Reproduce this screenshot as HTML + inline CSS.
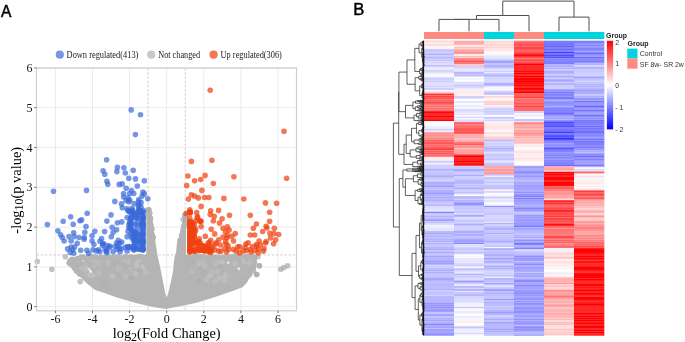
<!DOCTYPE html>
<html><head><meta charset="utf-8"><title>Volcano plot and heatmap</title>
<style>
html,body{margin:0;padding:0;background:#fff;}
body{width:685px;height:342px;overflow:hidden;}
svg{display:block;}
.g{stroke:#e6e6e6;stroke-width:0.8;}
.d{stroke:#a0a0a0;stroke-width:0.5;stroke-dasharray:2.6 1.6;}
.tk{stroke:#555;stroke-width:0.8;}
.tl{font-family:"Liberation Serif",serif;font-size:12px;fill:#111;}
.at{font-family:"Liberation Serif",serif;font-size:14.4px;fill:#000;}
.lg{font-family:"Liberation Serif",serif;font-size:9.5px;fill:#1a1a1a;}
.pl{font-family:"Liberation Sans",sans-serif;font-size:16.5px;fill:#000;stroke:#000;stroke-width:0.45px;}
.hb{font-family:"Liberation Sans",sans-serif;font-size:7px;font-weight:bold;fill:#222;}
.hl{font-family:"Liberation Sans",sans-serif;font-size:6.9px;fill:#333;}
.pg{fill:#aaaaaa;fill-opacity:0.72;}
.pb{fill:#3a69d8;fill-opacity:0.70;}
.pr{fill:#f0410f;fill-opacity:0.72;}
</style></head>
<body><svg width="685" height="342" viewBox="0 0 685 342">
<line x1="55.4" y1="68.0" x2="55.4" y2="310.8" class="g"/>
<line x1="92.5" y1="68.0" x2="92.5" y2="310.8" class="g"/>
<line x1="129.6" y1="68.0" x2="129.6" y2="310.8" class="g"/>
<line x1="166.7" y1="68.0" x2="166.7" y2="310.8" class="g"/>
<line x1="203.8" y1="68.0" x2="203.8" y2="310.8" class="g"/>
<line x1="240.9" y1="68.0" x2="240.9" y2="310.8" class="g"/>
<line x1="278.0" y1="68.0" x2="278.0" y2="310.8" class="g"/>
<line x1="36.5" y1="306.7" x2="296.5" y2="306.7" class="g"/>
<line x1="36.5" y1="266.9" x2="296.5" y2="266.9" class="g"/>
<line x1="36.5" y1="227.1" x2="296.5" y2="227.1" class="g"/>
<line x1="36.5" y1="187.3" x2="296.5" y2="187.3" class="g"/>
<line x1="36.5" y1="147.5" x2="296.5" y2="147.5" class="g"/>
<line x1="36.5" y1="107.7" x2="296.5" y2="107.7" class="g"/>
<line x1="36.5" y1="67.9" x2="296.5" y2="67.9" class="g"/>
<line x1="148.1" y1="68.0" x2="148.1" y2="310.8" class="d"/>
<line x1="185.2" y1="68.0" x2="185.2" y2="310.8" class="d"/>
<line x1="36.5" y1="254.9" x2="296.5" y2="254.9" class="d"/>
<polygon points="68.8,266.0 67.0,262.5 69.5,259.5 74.0,257.8 146.3,257.5 146.3,210.0 148.5,207.8 150.8,209.5 151.3,212.0 152.6,225.8 155.3,241.6 157.9,257.4 160.0,266.3 161.8,275.8 165.8,295.5 166.3,297.0 166.8,297.0 167.9,294.2 171.1,281.0 173.2,270.0 173.6,264.6 174.5,257.5 176.2,251.4 176.7,245.3 178.9,240.0 180.3,231.0 182.9,220.5 183.5,214.0 186.0,214.0 186.0,256.0 257.0,256.0 256.3,262.0 254.8,268.0 252.3,273.5 248.8,278.0 244.3,283.5 240.0,288.3 232.6,291.0 223.9,294.0 215.1,297.1 206.3,299.7 197.5,302.4 188.8,304.6 180.0,306.3 172.0,307.8 166.2,308.9 156.3,307.6 146.1,305.5 135.9,303.0 125.6,299.9 115.4,296.9 105.2,293.3 95.1,290.0 86.3,283.0 79.3,276.3 74.0,269.8" fill="#b4b4b4"/>
<polygon points="85.0,266.0 87.0,265.2 92.2,271.8 91.2,274.5 89.2,274.2" fill="#f2f2f2"/>
<polygon points="82.6,259.4 84.2,259.2 84.4,261.6 82.8,261.8" fill="#f2f2f2"/>
<polygon points="217.0,258.5 221.0,257.5 223.0,261.0 219.5,263.0" fill="#f2f2f2"/>
<polygon points="237.5,267.5 239.5,267.2 240.0,270.0 238.0,270.2" fill="#f2f2f2"/>
<polygon points="227.0,262.0 229.0,261.5 229.5,263.5 227.5,264.0" fill="#f2f2f2"/>
<circle cx="118.6" cy="258.7" r="2.8" fill="#b1b1b1"/>
<circle cx="90.9" cy="264.0" r="2.8" fill="#b1b1b1"/>
<circle cx="126.0" cy="276.3" r="2.8" fill="#bcbcbc"/>
<circle cx="137.8" cy="260.3" r="2.8" fill="#bfbfbf"/>
<circle cx="102.1" cy="258.8" r="2.8" fill="#bcbcbc"/>
<circle cx="86.6" cy="271.6" r="2.8" fill="#bcbcbc"/>
<circle cx="72.0" cy="263.4" r="2.8" fill="#bcbcbc"/>
<circle cx="119.4" cy="272.7" r="2.8" fill="#bcbcbc"/>
<circle cx="86.8" cy="273.9" r="2.8" fill="#b9b9b9"/>
<circle cx="131.5" cy="258.2" r="2.8" fill="#b6b6b6"/>
<circle cx="131.2" cy="276.8" r="2.8" fill="#b1b1b1"/>
<circle cx="95.9" cy="262.2" r="2.8" fill="#bfbfbf"/>
<circle cx="142.7" cy="267.1" r="2.8" fill="#bfbfbf"/>
<circle cx="77.0" cy="260.6" r="2.8" fill="#b9b9b9"/>
<circle cx="134.4" cy="274.3" r="2.8" fill="#bfbfbf"/>
<circle cx="131.3" cy="277.7" r="2.8" fill="#b1b1b1"/>
<circle cx="98.8" cy="272.9" r="2.8" fill="#bcbcbc"/>
<circle cx="133.0" cy="274.7" r="2.8" fill="#b1b1b1"/>
<circle cx="135.5" cy="273.6" r="2.8" fill="#bfbfbf"/>
<circle cx="123.5" cy="259.2" r="2.8" fill="#bfbfbf"/>
<circle cx="87.3" cy="265.8" r="2.8" fill="#bcbcbc"/>
<circle cx="76.1" cy="264.3" r="2.8" fill="#b6b6b6"/>
<circle cx="77.7" cy="265.5" r="2.8" fill="#b1b1b1"/>
<circle cx="118.3" cy="267.9" r="2.8" fill="#bcbcbc"/>
<circle cx="98.1" cy="263.7" r="2.8" fill="#bcbcbc"/>
<circle cx="119.3" cy="274.4" r="2.8" fill="#b1b1b1"/>
<circle cx="82.4" cy="268.2" r="2.8" fill="#bcbcbc"/>
<circle cx="112.3" cy="276.5" r="2.8" fill="#bfbfbf"/>
<circle cx="87.4" cy="258.9" r="2.8" fill="#b6b6b6"/>
<circle cx="94.0" cy="265.2" r="2.8" fill="#b9b9b9"/>
<circle cx="136.6" cy="266.5" r="2.8" fill="#bfbfbf"/>
<circle cx="119.8" cy="268.7" r="2.8" fill="#b9b9b9"/>
<circle cx="139.5" cy="270.4" r="2.8" fill="#b1b1b1"/>
<circle cx="90.1" cy="264.7" r="2.8" fill="#b6b6b6"/>
<circle cx="112.7" cy="265.1" r="2.8" fill="#b1b1b1"/>
<circle cx="100.4" cy="263.9" r="2.8" fill="#b9b9b9"/>
<circle cx="145.8" cy="271.8" r="2.8" fill="#b6b6b6"/>
<circle cx="76.9" cy="259.3" r="2.8" fill="#bfbfbf"/>
<circle cx="130.2" cy="269.4" r="2.8" fill="#b9b9b9"/>
<circle cx="74.8" cy="268.3" r="2.8" fill="#b1b1b1"/>
<circle cx="145.7" cy="272.3" r="2.8" fill="#bcbcbc"/>
<circle cx="121.8" cy="272.5" r="2.8" fill="#b6b6b6"/>
<circle cx="90.3" cy="275.3" r="2.8" fill="#bfbfbf"/>
<circle cx="78.5" cy="269.7" r="2.8" fill="#b9b9b9"/>
<circle cx="104.5" cy="283.8" r="2.8" fill="#b1b1b1"/>
<circle cx="136.6" cy="265.1" r="2.8" fill="#bfbfbf"/>
<circle cx="108.0" cy="262.8" r="2.8" fill="#bcbcbc"/>
<circle cx="92.7" cy="275.3" r="2.8" fill="#bfbfbf"/>
<circle cx="116.3" cy="262.1" r="2.8" fill="#b1b1b1"/>
<circle cx="128.0" cy="272.6" r="2.8" fill="#b9b9b9"/>
<circle cx="129.2" cy="272.3" r="2.8" fill="#b6b6b6"/>
<circle cx="93.4" cy="259.6" r="2.8" fill="#bcbcbc"/>
<circle cx="76.5" cy="271.1" r="2.8" fill="#bcbcbc"/>
<circle cx="128.2" cy="261.5" r="2.8" fill="#bcbcbc"/>
<circle cx="221.3" cy="270.3" r="2.8" fill="#b1b1b1"/>
<circle cx="206.6" cy="278.7" r="2.8" fill="#bfbfbf"/>
<circle cx="217.6" cy="261.5" r="2.8" fill="#bcbcbc"/>
<circle cx="225.8" cy="275.0" r="2.8" fill="#bfbfbf"/>
<circle cx="202.1" cy="264.1" r="2.8" fill="#bcbcbc"/>
<circle cx="218.7" cy="269.5" r="2.8" fill="#b9b9b9"/>
<circle cx="196.5" cy="261.8" r="2.8" fill="#b9b9b9"/>
<circle cx="211.7" cy="271.3" r="2.8" fill="#b9b9b9"/>
<circle cx="204.1" cy="261.7" r="2.8" fill="#bcbcbc"/>
<circle cx="193.0" cy="272.4" r="2.8" fill="#b1b1b1"/>
<circle cx="204.0" cy="279.5" r="2.8" fill="#b1b1b1"/>
<circle cx="248.2" cy="257.8" r="2.8" fill="#b9b9b9"/>
<circle cx="204.7" cy="273.4" r="2.8" fill="#b1b1b1"/>
<circle cx="203.0" cy="259.4" r="2.8" fill="#b9b9b9"/>
<circle cx="253.5" cy="270.8" r="2.8" fill="#bcbcbc"/>
<circle cx="221.1" cy="276.4" r="2.8" fill="#b6b6b6"/>
<circle cx="244.5" cy="261.0" r="2.8" fill="#bfbfbf"/>
<circle cx="194.8" cy="267.2" r="2.8" fill="#b9b9b9"/>
<circle cx="217.7" cy="268.1" r="2.8" fill="#b1b1b1"/>
<circle cx="239.0" cy="273.5" r="2.8" fill="#b6b6b6"/>
<circle cx="216.2" cy="264.8" r="2.8" fill="#bcbcbc"/>
<circle cx="248.3" cy="262.5" r="2.8" fill="#bfbfbf"/>
<circle cx="201.3" cy="267.7" r="2.8" fill="#b1b1b1"/>
<circle cx="217.5" cy="263.2" r="2.8" fill="#bcbcbc"/>
<circle cx="205.5" cy="280.0" r="2.8" fill="#b9b9b9"/>
<circle cx="219.0" cy="278.4" r="2.8" fill="#bcbcbc"/>
<circle cx="226.5" cy="257.3" r="2.8" fill="#b1b1b1"/>
<circle cx="247.4" cy="260.3" r="2.8" fill="#b6b6b6"/>
<circle cx="222.0" cy="261.6" r="2.8" fill="#bfbfbf"/>
<circle cx="216.1" cy="257.5" r="2.8" fill="#b1b1b1"/>
<circle cx="214.5" cy="281.6" r="2.8" fill="#bcbcbc"/>
<circle cx="206.6" cy="276.4" r="2.8" fill="#b6b6b6"/>
<circle cx="219.9" cy="267.0" r="2.8" fill="#b1b1b1"/>
<circle cx="226.9" cy="274.7" r="2.8" fill="#b9b9b9"/>
<circle cx="198.8" cy="263.7" r="2.8" fill="#bcbcbc"/>
<circle cx="226.0" cy="275.4" r="2.8" fill="#bfbfbf"/>
<circle cx="192.0" cy="271.2" r="2.8" fill="#bcbcbc"/>
<circle cx="223.2" cy="278.2" r="2.8" fill="#bfbfbf"/>
<circle cx="199.0" cy="281.0" r="2.8" fill="#b1b1b1"/>
<circle cx="193.6" cy="260.8" r="2.8" fill="#b9b9b9"/>
<circle cx="229.7" cy="273.6" r="2.8" fill="#b9b9b9"/>
<circle cx="204.5" cy="259.1" r="2.8" fill="#b9b9b9"/>
<circle cx="250.3" cy="262.4" r="2.8" fill="#bcbcbc"/>
<circle cx="229.6" cy="272.1" r="2.8" fill="#b6b6b6"/>
<circle cx="217.3" cy="271.2" r="2.8" fill="#bcbcbc"/>
<circle cx="224.6" cy="280.3" r="2.8" fill="#bcbcbc"/>
<circle cx="202.3" cy="274.6" r="2.8" fill="#b1b1b1"/>
<circle cx="204.7" cy="266.3" r="2.8" fill="#bcbcbc"/>
<circle cx="235.0" cy="263.8" r="2.8" fill="#bcbcbc"/>
<circle cx="210.1" cy="275.5" r="2.8" fill="#bfbfbf"/>
<circle cx="193.1" cy="267.9" r="2.8" fill="#b6b6b6"/>
<circle cx="193.1" cy="261.5" r="2.8" fill="#b1b1b1"/>
<circle cx="206.6" cy="280.3" r="2.8" fill="#bcbcbc"/>
<circle cx="213.9" cy="260.1" r="2.8" fill="#b6b6b6"/>
<circle cx="246.4" cy="274.3" r="2.8" fill="#b9b9b9"/>
<circle cx="230.8" cy="281.7" r="2.8" fill="#b6b6b6"/>
<circle cx="233.8" cy="256.2" r="2.8" fill="#bcbcbc"/>
<circle cx="69.1" cy="263.0" r="2.8" fill="#b4b4b4"/>
<circle cx="70.3" cy="262.6" r="2.8" fill="#b4b4b4"/>
<circle cx="70.2" cy="260.7" r="2.8" fill="#b4b4b4"/>
<circle cx="72.7" cy="260.5" r="2.8" fill="#b4b4b4"/>
<circle cx="148.3" cy="211.0" r="2.8" fill="#b4b4b4"/>
<circle cx="148.9" cy="210.0" r="2.8" fill="#b4b4b4"/>
<circle cx="149.8" cy="213.3" r="2.8" fill="#b4b4b4"/>
<circle cx="149.1" cy="215.4" r="2.8" fill="#b4b4b4"/>
<circle cx="150.5" cy="218.3" r="2.8" fill="#b4b4b4"/>
<circle cx="150.4" cy="219.8" r="2.8" fill="#b4b4b4"/>
<circle cx="149.8" cy="221.4" r="2.8" fill="#b4b4b4"/>
<circle cx="150.9" cy="224.8" r="2.8" fill="#b4b4b4"/>
<circle cx="150.8" cy="227.5" r="2.8" fill="#b4b4b4"/>
<circle cx="151.9" cy="229.0" r="2.8" fill="#b4b4b4"/>
<circle cx="150.9" cy="230.9" r="2.8" fill="#b4b4b4"/>
<circle cx="152.0" cy="234.5" r="2.8" fill="#b4b4b4"/>
<circle cx="152.4" cy="236.7" r="2.8" fill="#b4b4b4"/>
<circle cx="153.2" cy="237.6" r="2.8" fill="#b4b4b4"/>
<circle cx="152.5" cy="240.3" r="2.8" fill="#b4b4b4"/>
<circle cx="179.7" cy="244.6" r="2.8" fill="#b4b4b4"/>
<circle cx="180.0" cy="241.3" r="2.8" fill="#b4b4b4"/>
<circle cx="180.3" cy="239.8" r="2.8" fill="#b4b4b4"/>
<circle cx="182.0" cy="236.7" r="2.8" fill="#b4b4b4"/>
<circle cx="181.8" cy="235.1" r="2.8" fill="#b4b4b4"/>
<circle cx="182.6" cy="233.4" r="2.8" fill="#b4b4b4"/>
<circle cx="183.3" cy="229.8" r="2.8" fill="#b4b4b4"/>
<circle cx="183.8" cy="227.3" r="2.8" fill="#b4b4b4"/>
<circle cx="183.9" cy="226.3" r="2.8" fill="#b4b4b4"/>
<circle cx="184.9" cy="223.1" r="2.8" fill="#b4b4b4"/>
<circle cx="185.6" cy="218.6" r="2.8" fill="#b4b4b4"/>
<circle cx="185.0" cy="215.3" r="2.8" fill="#b4b4b4"/>
<circle cx="185.1" cy="215.4" r="2.8" fill="#b4b4b4"/>
<circle cx="254.3" cy="257.8" r="2.8" fill="#b4b4b4"/>
<circle cx="254.2" cy="259.3" r="2.8" fill="#b4b4b4"/>
<circle cx="254.4" cy="262.7" r="2.8" fill="#b4b4b4"/>
<circle cx="253.6" cy="266.5" r="2.8" fill="#b4b4b4"/>
<circle cx="253.4" cy="267.4" r="2.8" fill="#b4b4b4"/>
<circle cx="250.9" cy="270.4" r="2.8" fill="#b4b4b4"/>
<circle cx="249.7" cy="274.2" r="2.8" fill="#b4b4b4"/>
<circle cx="248.2" cy="275.8" r="2.8" fill="#b4b4b4"/>
<circle cx="246.1" cy="278.2" r="2.8" fill="#b4b4b4"/>
<circle cx="245.1" cy="280.3" r="2.8" fill="#b4b4b4"/>
<circle cx="243.5" cy="282.2" r="2.8" fill="#b4b4b4"/>
<circle cx="241.5" cy="284.3" r="2.8" fill="#b4b4b4"/>
<circle cx="240.6" cy="284.9" r="2.8" fill="#b4b4b4"/>
<circle cx="79.6" cy="274.0" r="2.8" fill="#b4b4b4"/>
<circle cx="78.2" cy="271.8" r="2.8" fill="#b4b4b4"/>
<circle cx="76.8" cy="270.0" r="2.8" fill="#b4b4b4"/>
<circle cx="74.8" cy="267.6" r="2.8" fill="#b4b4b4"/>
<circle cx="72.9" cy="265.8" r="2.8" fill="#b4b4b4"/>
<circle cx="72.1" cy="259.4" r="2.8" fill="#b4b4b4"/>
<circle cx="75.6" cy="259.3" r="2.8" fill="#b4b4b4"/>
<circle cx="77.9" cy="258.5" r="2.8" fill="#b4b4b4"/>
<circle cx="81.6" cy="256.9" r="2.8" fill="#b4b4b4"/>
<circle cx="84.0" cy="257.6" r="2.8" fill="#b4b4b4"/>
<circle cx="87.9" cy="256.8" r="2.8" fill="#b4b4b4"/>
<circle cx="90.2" cy="257.0" r="2.8" fill="#b4b4b4"/>
<circle cx="93.5" cy="256.8" r="2.8" fill="#b4b4b4"/>
<circle cx="96.1" cy="257.0" r="2.8" fill="#b4b4b4"/>
<circle cx="100.8" cy="257.3" r="2.8" fill="#b4b4b4"/>
<circle cx="103.8" cy="257.3" r="2.8" fill="#b4b4b4"/>
<circle cx="105.7" cy="257.2" r="2.8" fill="#b4b4b4"/>
<circle cx="108.2" cy="256.8" r="2.8" fill="#b4b4b4"/>
<circle cx="112.2" cy="257.2" r="2.8" fill="#b4b4b4"/>
<circle cx="115.7" cy="257.1" r="2.8" fill="#b4b4b4"/>
<circle cx="118.4" cy="256.7" r="2.8" fill="#b4b4b4"/>
<circle cx="121.5" cy="257.7" r="2.8" fill="#b4b4b4"/>
<circle cx="125.3" cy="256.6" r="2.8" fill="#b4b4b4"/>
<circle cx="127.0" cy="257.1" r="2.8" fill="#b4b4b4"/>
<circle cx="131.2" cy="256.9" r="2.8" fill="#b4b4b4"/>
<circle cx="134.6" cy="257.5" r="2.8" fill="#b4b4b4"/>
<circle cx="137.4" cy="256.7" r="2.8" fill="#b4b4b4"/>
<circle cx="139.6" cy="256.4" r="2.8" fill="#b4b4b4"/>
<circle cx="142.8" cy="257.1" r="2.8" fill="#b4b4b4"/>
<circle cx="147.1" cy="256.5" r="2.8" fill="#b4b4b4"/>
<circle cx="187.8" cy="256.9" r="2.8" fill="#b4b4b4"/>
<circle cx="190.5" cy="257.0" r="2.8" fill="#b4b4b4"/>
<circle cx="194.2" cy="256.3" r="2.8" fill="#b4b4b4"/>
<circle cx="197.6" cy="256.0" r="2.8" fill="#b4b4b4"/>
<circle cx="200.9" cy="257.1" r="2.8" fill="#b4b4b4"/>
<circle cx="202.7" cy="256.6" r="2.8" fill="#b4b4b4"/>
<circle cx="206.0" cy="257.3" r="2.8" fill="#b4b4b4"/>
<circle cx="209.7" cy="256.1" r="2.8" fill="#b4b4b4"/>
<circle cx="212.3" cy="257.2" r="2.8" fill="#b4b4b4"/>
<circle cx="215.8" cy="257.1" r="2.8" fill="#b4b4b4"/>
<circle cx="219.3" cy="257.4" r="2.8" fill="#b4b4b4"/>
<circle cx="222.3" cy="257.3" r="2.8" fill="#b4b4b4"/>
<circle cx="226.0" cy="256.9" r="2.8" fill="#b4b4b4"/>
<circle cx="228.7" cy="256.7" r="2.8" fill="#b4b4b4"/>
<circle cx="232.1" cy="256.8" r="2.8" fill="#b4b4b4"/>
<circle cx="235.3" cy="257.0" r="2.8" fill="#b4b4b4"/>
<circle cx="237.5" cy="256.4" r="2.8" fill="#b4b4b4"/>
<circle cx="240.2" cy="256.9" r="2.8" fill="#b4b4b4"/>
<circle cx="244.3" cy="256.7" r="2.8" fill="#b4b4b4"/>
<circle cx="247.2" cy="256.4" r="2.8" fill="#b4b4b4"/>
<circle cx="249.2" cy="256.4" r="2.8" fill="#b4b4b4"/>
<circle cx="252.6" cy="256.4" r="2.8" fill="#b4b4b4"/>
<circle cx="148.5" cy="209.6" r="2.8" class="pg"/>
<circle cx="258.0" cy="256.8" r="2.8" class="pg"/>
<circle cx="259.2" cy="265.8" r="2.8" class="pg"/>
<circle cx="256.8" cy="274.5" r="2.8" class="pg"/>
<circle cx="183.2" cy="219.5" r="2.8" class="pg"/>
<circle cx="37.3" cy="261.5" r="2.8" class="pg"/>
<circle cx="51.8" cy="269.3" r="2.8" class="pg"/>
<circle cx="65.3" cy="256.8" r="2.8" class="pg"/>
<circle cx="80.2" cy="281.6" r="2.8" class="pg"/>
<circle cx="280.8" cy="269.3" r="2.8" class="pg"/>
<circle cx="283.8" cy="267.6" r="2.8" class="pg"/>
<circle cx="287.6" cy="265.8" r="2.8" class="pg"/>
<circle cx="259.5" cy="265.7" r="2.8" class="pg"/>
<circle cx="256.5" cy="274.5" r="2.8" class="pg"/>
<polygon points="145.2,215.0 137.0,216.0 134.5,221.0 134.5,235.0 135.0,250.0 145.2,250.0" fill="#6a8fe0"/>
<circle cx="137.5" cy="214.8" r="2.8" class="pb"/>
<circle cx="132.0" cy="238.1" r="2.8" class="pb"/>
<circle cx="140.4" cy="211.7" r="2.8" class="pb"/>
<circle cx="135.1" cy="231.8" r="2.8" class="pb"/>
<circle cx="135.3" cy="217.7" r="2.8" class="pb"/>
<circle cx="135.4" cy="247.0" r="2.8" class="pb"/>
<circle cx="138.2" cy="238.2" r="2.8" class="pb"/>
<circle cx="143.0" cy="241.2" r="2.8" class="pb"/>
<circle cx="134.2" cy="240.6" r="2.8" class="pb"/>
<circle cx="142.9" cy="249.0" r="2.8" class="pb"/>
<circle cx="135.3" cy="240.4" r="2.8" class="pb"/>
<circle cx="137.6" cy="234.3" r="2.8" class="pb"/>
<circle cx="131.9" cy="218.2" r="2.8" class="pb"/>
<circle cx="133.9" cy="237.5" r="2.8" class="pb"/>
<circle cx="135.1" cy="215.9" r="2.8" class="pb"/>
<circle cx="136.2" cy="214.4" r="2.8" class="pb"/>
<circle cx="138.9" cy="210.1" r="2.8" class="pb"/>
<circle cx="134.9" cy="232.7" r="2.8" class="pb"/>
<circle cx="130.4" cy="228.4" r="2.8" class="pb"/>
<circle cx="128.9" cy="224.9" r="2.8" class="pb"/>
<circle cx="131.7" cy="222.7" r="2.8" class="pb"/>
<circle cx="141.3" cy="224.9" r="2.8" class="pb"/>
<circle cx="141.2" cy="243.9" r="2.8" class="pb"/>
<circle cx="132.4" cy="212.4" r="2.8" class="pb"/>
<circle cx="143.1" cy="223.7" r="2.8" class="pb"/>
<circle cx="139.4" cy="241.8" r="2.8" class="pb"/>
<circle cx="139.4" cy="240.7" r="2.8" class="pb"/>
<circle cx="143.1" cy="217.4" r="2.8" class="pb"/>
<circle cx="137.9" cy="218.2" r="2.8" class="pb"/>
<circle cx="140.2" cy="241.2" r="2.8" class="pb"/>
<circle cx="130.9" cy="234.5" r="2.8" class="pb"/>
<circle cx="141.1" cy="213.8" r="2.8" class="pb"/>
<circle cx="142.3" cy="249.5" r="2.8" class="pb"/>
<circle cx="133.5" cy="237.4" r="2.8" class="pb"/>
<circle cx="143.1" cy="225.7" r="2.8" class="pb"/>
<circle cx="140.5" cy="212.2" r="2.8" class="pb"/>
<circle cx="140.1" cy="235.3" r="2.8" class="pb"/>
<circle cx="142.9" cy="234.2" r="2.8" class="pb"/>
<circle cx="141.7" cy="223.6" r="2.8" class="pb"/>
<circle cx="135.5" cy="224.6" r="2.8" class="pb"/>
<circle cx="143.1" cy="211.8" r="2.8" class="pb"/>
<circle cx="141.5" cy="212.0" r="2.8" class="pb"/>
<circle cx="140.6" cy="212.1" r="2.8" class="pb"/>
<circle cx="138.9" cy="211.9" r="2.8" class="pb"/>
<circle cx="136.2" cy="212.5" r="2.8" class="pb"/>
<circle cx="134.1" cy="214.2" r="2.8" class="pb"/>
<circle cx="133.9" cy="213.9" r="2.8" class="pb"/>
<circle cx="131.9" cy="216.0" r="2.8" class="pb"/>
<circle cx="130.9" cy="218.1" r="2.8" class="pb"/>
<circle cx="130.7" cy="218.1" r="2.8" class="pb"/>
<circle cx="129.9" cy="221.1" r="2.8" class="pb"/>
<circle cx="130.4" cy="223.2" r="2.8" class="pb"/>
<circle cx="131.1" cy="224.5" r="2.8" class="pb"/>
<circle cx="130.6" cy="226.4" r="2.8" class="pb"/>
<circle cx="131.5" cy="229.4" r="2.8" class="pb"/>
<circle cx="132.6" cy="230.3" r="2.8" class="pb"/>
<circle cx="133.3" cy="232.8" r="2.8" class="pb"/>
<circle cx="132.9" cy="235.9" r="2.8" class="pb"/>
<circle cx="134.0" cy="236.7" r="2.8" class="pb"/>
<circle cx="133.9" cy="238.9" r="2.8" class="pb"/>
<circle cx="134.2" cy="241.5" r="2.8" class="pb"/>
<circle cx="134.3" cy="243.9" r="2.8" class="pb"/>
<circle cx="134.6" cy="245.8" r="2.8" class="pb"/>
<circle cx="133.7" cy="247.1" r="2.8" class="pb"/>
<circle cx="133.9" cy="250.1" r="2.8" class="pb"/>
<circle cx="133.0" cy="248.9" r="2.8" class="pb"/>
<circle cx="135.2" cy="249.0" r="2.8" class="pb"/>
<circle cx="137.8" cy="249.1" r="2.8" class="pb"/>
<circle cx="140.0" cy="249.2" r="2.8" class="pb"/>
<circle cx="141.5" cy="249.4" r="2.8" class="pb"/>
<circle cx="143.1" cy="249.4" r="2.8" class="pb"/>
<circle cx="143.0" cy="250.1" r="2.8" class="pb"/>
<circle cx="143.1" cy="248.6" r="2.8" class="pb"/>
<circle cx="143.0" cy="246.1" r="2.8" class="pb"/>
<circle cx="143.1" cy="243.2" r="2.8" class="pb"/>
<circle cx="143.1" cy="242.3" r="2.8" class="pb"/>
<circle cx="143.1" cy="240.4" r="2.8" class="pb"/>
<circle cx="143.1" cy="238.4" r="2.8" class="pb"/>
<circle cx="143.1" cy="235.8" r="2.8" class="pb"/>
<circle cx="143.1" cy="233.0" r="2.8" class="pb"/>
<circle cx="143.1" cy="231.4" r="2.8" class="pb"/>
<circle cx="143.1" cy="229.1" r="2.8" class="pb"/>
<circle cx="143.1" cy="227.0" r="2.8" class="pb"/>
<circle cx="143.1" cy="225.6" r="2.8" class="pb"/>
<circle cx="143.1" cy="224.0" r="2.8" class="pb"/>
<circle cx="143.1" cy="220.8" r="2.8" class="pb"/>
<circle cx="143.1" cy="218.9" r="2.8" class="pb"/>
<circle cx="143.1" cy="218.1" r="2.8" class="pb"/>
<circle cx="143.1" cy="216.1" r="2.8" class="pb"/>
<circle cx="143.1" cy="213.2" r="2.8" class="pb"/>
<circle cx="143.1" cy="210.4" r="2.8" class="pb"/>
<polygon points="187.3,223.0 192.5,224.0 194.5,230.0 195.5,240.0 201.0,246.0 205.0,250.0 205.0,251.5 187.3,251.5" fill="#f2683f"/>
<circle cx="198.1" cy="248.0" r="2.8" class="pr"/>
<circle cx="205.5" cy="250.8" r="2.8" class="pr"/>
<circle cx="192.2" cy="226.9" r="2.8" class="pr"/>
<circle cx="191.3" cy="222.4" r="2.8" class="pr"/>
<circle cx="189.8" cy="234.6" r="2.8" class="pr"/>
<circle cx="192.8" cy="243.0" r="2.8" class="pr"/>
<circle cx="204.2" cy="250.0" r="2.8" class="pr"/>
<circle cx="203.5" cy="250.3" r="2.8" class="pr"/>
<circle cx="203.2" cy="249.5" r="2.8" class="pr"/>
<circle cx="191.1" cy="230.0" r="2.8" class="pr"/>
<circle cx="194.2" cy="224.0" r="2.8" class="pr"/>
<circle cx="189.8" cy="234.0" r="2.8" class="pr"/>
<circle cx="195.1" cy="228.1" r="2.8" class="pr"/>
<circle cx="189.8" cy="251.3" r="2.8" class="pr"/>
<circle cx="210.8" cy="252.5" r="2.8" class="pr"/>
<circle cx="189.8" cy="244.6" r="2.8" class="pr"/>
<circle cx="198.8" cy="241.2" r="2.8" class="pr"/>
<circle cx="195.7" cy="230.8" r="2.8" class="pr"/>
<circle cx="203.8" cy="247.9" r="2.8" class="pr"/>
<circle cx="195.2" cy="242.5" r="2.8" class="pr"/>
<circle cx="194.2" cy="250.7" r="2.8" class="pr"/>
<circle cx="195.1" cy="251.5" r="2.8" class="pr"/>
<circle cx="191.7" cy="231.8" r="2.8" class="pr"/>
<circle cx="200.7" cy="250.1" r="2.8" class="pr"/>
<circle cx="198.0" cy="242.7" r="2.8" class="pr"/>
<circle cx="190.0" cy="251.6" r="2.8" class="pr"/>
<circle cx="191.0" cy="237.9" r="2.8" class="pr"/>
<circle cx="189.8" cy="221.7" r="2.8" class="pr"/>
<circle cx="190.1" cy="223.3" r="2.8" class="pr"/>
<circle cx="191.5" cy="222.3" r="2.8" class="pr"/>
<circle cx="191.7" cy="223.4" r="2.8" class="pr"/>
<circle cx="192.6" cy="225.5" r="2.8" class="pr"/>
<circle cx="192.8" cy="227.2" r="2.8" class="pr"/>
<circle cx="194.4" cy="229.7" r="2.8" class="pr"/>
<circle cx="194.3" cy="231.1" r="2.8" class="pr"/>
<circle cx="194.4" cy="233.7" r="2.8" class="pr"/>
<circle cx="194.1" cy="235.7" r="2.8" class="pr"/>
<circle cx="194.3" cy="236.7" r="2.8" class="pr"/>
<circle cx="195.9" cy="240.7" r="2.8" class="pr"/>
<circle cx="198.1" cy="242.4" r="2.8" class="pr"/>
<circle cx="200.3" cy="243.1" r="2.8" class="pr"/>
<circle cx="202.1" cy="245.9" r="2.8" class="pr"/>
<circle cx="204.5" cy="246.1" r="2.8" class="pr"/>
<circle cx="206.1" cy="247.6" r="2.8" class="pr"/>
<circle cx="207.7" cy="249.1" r="2.8" class="pr"/>
<circle cx="208.6" cy="249.6" r="2.8" class="pr"/>
<circle cx="208.9" cy="251.6" r="2.8" class="pr"/>
<circle cx="211.0" cy="250.7" r="2.8" class="pr"/>
<circle cx="208.6" cy="251.0" r="2.8" class="pr"/>
<circle cx="206.6" cy="250.0" r="2.8" class="pr"/>
<circle cx="204.4" cy="250.5" r="2.8" class="pr"/>
<circle cx="202.6" cy="249.9" r="2.8" class="pr"/>
<circle cx="199.9" cy="250.4" r="2.8" class="pr"/>
<circle cx="199.4" cy="250.3" r="2.8" class="pr"/>
<circle cx="196.4" cy="249.8" r="2.8" class="pr"/>
<circle cx="193.9" cy="250.4" r="2.8" class="pr"/>
<circle cx="192.4" cy="250.4" r="2.8" class="pr"/>
<circle cx="190.0" cy="250.5" r="2.8" class="pr"/>
<circle cx="189.8" cy="250.9" r="2.8" class="pr"/>
<circle cx="189.9" cy="251.7" r="2.8" class="pr"/>
<circle cx="189.8" cy="249.9" r="2.8" class="pr"/>
<circle cx="189.8" cy="247.4" r="2.8" class="pr"/>
<circle cx="189.8" cy="245.0" r="2.8" class="pr"/>
<circle cx="189.8" cy="243.8" r="2.8" class="pr"/>
<circle cx="189.8" cy="241.2" r="2.8" class="pr"/>
<circle cx="189.8" cy="238.9" r="2.8" class="pr"/>
<circle cx="189.8" cy="238.2" r="2.8" class="pr"/>
<circle cx="189.9" cy="234.8" r="2.8" class="pr"/>
<circle cx="189.8" cy="233.0" r="2.8" class="pr"/>
<circle cx="189.8" cy="232.0" r="2.8" class="pr"/>
<circle cx="189.8" cy="228.7" r="2.8" class="pr"/>
<circle cx="189.8" cy="227.0" r="2.8" class="pr"/>
<circle cx="189.8" cy="226.0" r="2.8" class="pr"/>
<circle cx="189.8" cy="223.6" r="2.8" class="pr"/>
<circle cx="189.8" cy="221.8" r="2.8" class="pr"/>
<circle cx="117.2" cy="249.5" r="2.8" class="pb"/>
<circle cx="127.6" cy="246.5" r="2.8" class="pb"/>
<circle cx="106.2" cy="251.5" r="2.8" class="pb"/>
<circle cx="102.9" cy="243.8" r="2.8" class="pb"/>
<circle cx="98.3" cy="249.7" r="2.8" class="pb"/>
<circle cx="128.6" cy="247.5" r="2.8" class="pb"/>
<circle cx="103.4" cy="243.5" r="2.8" class="pb"/>
<circle cx="109.7" cy="246.0" r="2.8" class="pb"/>
<circle cx="119.7" cy="243.2" r="2.8" class="pb"/>
<circle cx="106.5" cy="250.4" r="2.8" class="pb"/>
<circle cx="117.4" cy="245.8" r="2.8" class="pb"/>
<circle cx="131.3" cy="247.2" r="2.8" class="pb"/>
<circle cx="107.3" cy="245.6" r="2.8" class="pb"/>
<circle cx="121.3" cy="248.7" r="2.8" class="pb"/>
<circle cx="127.0" cy="208.9" r="2.8" class="pb"/>
<circle cx="131.7" cy="211.4" r="2.8" class="pb"/>
<circle cx="138.1" cy="205.6" r="2.8" class="pb"/>
<circle cx="138.7" cy="209.1" r="2.8" class="pb"/>
<circle cx="139.6" cy="210.4" r="2.8" class="pb"/>
<circle cx="138.9" cy="205.0" r="2.8" class="pb"/>
<circle cx="132.1" cy="208.4" r="2.8" class="pb"/>
<circle cx="138.8" cy="199.6" r="2.8" class="pb"/>
<circle cx="128.8" cy="211.5" r="2.8" class="pb"/>
<circle cx="126.0" cy="200.4" r="2.8" class="pb"/>
<circle cx="141.1" cy="202.6" r="2.8" class="pb"/>
<circle cx="141.0" cy="206.7" r="2.8" class="pb"/>
<circle cx="129.8" cy="200.1" r="2.8" class="pb"/>
<circle cx="130.4" cy="212.2" r="2.8" class="pb"/>
<circle cx="122.3" cy="207.7" r="2.8" class="pb"/>
<circle cx="132.5" cy="210.1" r="2.8" class="pb"/>
<circle cx="197.4" cy="216.6" r="2.8" class="pr"/>
<circle cx="200.0" cy="221.2" r="2.8" class="pr"/>
<circle cx="189.8" cy="212.0" r="2.8" class="pr"/>
<circle cx="195.5" cy="220.9" r="2.8" class="pr"/>
<circle cx="189.8" cy="209.8" r="2.8" class="pr"/>
<circle cx="200.0" cy="220.8" r="2.8" class="pr"/>
<circle cx="190.2" cy="211.9" r="2.8" class="pr"/>
<circle cx="189.8" cy="218.4" r="2.8" class="pr"/>
<circle cx="190.3" cy="212.9" r="2.8" class="pr"/>
<circle cx="189.8" cy="212.4" r="2.8" class="pr"/>
<circle cx="214.8" cy="249.9" r="2.8" class="pr"/>
<circle cx="216.3" cy="242.9" r="2.8" class="pr"/>
<circle cx="209.1" cy="242.2" r="2.8" class="pr"/>
<circle cx="210.8" cy="245.9" r="2.8" class="pr"/>
<circle cx="208.2" cy="246.3" r="2.8" class="pr"/>
<circle cx="220.9" cy="251.3" r="2.8" class="pr"/>
<circle cx="202.2" cy="249.2" r="2.8" class="pr"/>
<circle cx="131.2" cy="109.9" r="2.8" class="pb"/>
<circle cx="140.5" cy="114.7" r="2.8" class="pb"/>
<circle cx="135.4" cy="134.6" r="2.8" class="pb"/>
<circle cx="53.5" cy="191.2" r="2.8" class="pb"/>
<circle cx="86.5" cy="190.4" r="2.8" class="pb"/>
<circle cx="47.4" cy="224.6" r="2.8" class="pb"/>
<circle cx="63.2" cy="221.3" r="2.8" class="pb"/>
<circle cx="70.7" cy="216.8" r="2.8" class="pb"/>
<circle cx="73.2" cy="224.3" r="2.8" class="pb"/>
<circle cx="79.9" cy="220.8" r="2.8" class="pb"/>
<circle cx="81.6" cy="219.9" r="2.8" class="pb"/>
<circle cx="87.2" cy="213.2" r="2.8" class="pb"/>
<circle cx="86.0" cy="226.6" r="2.8" class="pb"/>
<circle cx="84.8" cy="232.2" r="2.8" class="pb"/>
<circle cx="94.8" cy="231.3" r="2.8" class="pb"/>
<circle cx="57.9" cy="230.8" r="2.8" class="pb"/>
<circle cx="60.6" cy="234.8" r="2.8" class="pb"/>
<circle cx="62.3" cy="237.5" r="2.8" class="pb"/>
<circle cx="64.1" cy="241.0" r="2.8" class="pb"/>
<circle cx="69.0" cy="236.6" r="2.8" class="pb"/>
<circle cx="73.7" cy="232.7" r="2.8" class="pb"/>
<circle cx="74.2" cy="236.6" r="2.8" class="pb"/>
<circle cx="79.0" cy="237.5" r="2.8" class="pb"/>
<circle cx="71.1" cy="241.0" r="2.8" class="pb"/>
<circle cx="77.2" cy="243.2" r="2.8" class="pb"/>
<circle cx="84.2" cy="237.5" r="2.8" class="pb"/>
<circle cx="84.2" cy="239.2" r="2.8" class="pb"/>
<circle cx="92.1" cy="235.7" r="2.8" class="pb"/>
<circle cx="92.1" cy="241.0" r="2.8" class="pb"/>
<circle cx="93.9" cy="244.5" r="2.8" class="pb"/>
<circle cx="67.6" cy="248.9" r="2.8" class="pb"/>
<circle cx="71.1" cy="247.1" r="2.8" class="pb"/>
<circle cx="72.8" cy="249.7" r="2.8" class="pb"/>
<circle cx="74.6" cy="247.1" r="2.8" class="pb"/>
<circle cx="70.2" cy="252.4" r="2.8" class="pb"/>
<circle cx="73.7" cy="253.2" r="2.8" class="pb"/>
<circle cx="80.7" cy="250.3" r="2.8" class="pb"/>
<circle cx="86.9" cy="250.3" r="2.8" class="pb"/>
<circle cx="88.6" cy="253.2" r="2.8" class="pb"/>
<circle cx="93.0" cy="249.7" r="2.8" class="pb"/>
<circle cx="114.8" cy="201.4" r="2.8" class="pb"/>
<circle cx="121.5" cy="203.9" r="2.8" class="pb"/>
<circle cx="128.8" cy="201.8" r="2.8" class="pb"/>
<circle cx="134.1" cy="203.5" r="2.8" class="pb"/>
<circle cx="138.5" cy="201.8" r="2.8" class="pb"/>
<circle cx="111.0" cy="214.9" r="2.8" class="pb"/>
<circle cx="106.9" cy="221.1" r="2.8" class="pb"/>
<circle cx="117.4" cy="222.8" r="2.8" class="pb"/>
<circle cx="121.8" cy="221.9" r="2.8" class="pb"/>
<circle cx="112.2" cy="227.2" r="2.8" class="pb"/>
<circle cx="104.6" cy="231.6" r="2.8" class="pb"/>
<circle cx="113.1" cy="232.5" r="2.8" class="pb"/>
<circle cx="116.6" cy="229.8" r="2.8" class="pb"/>
<circle cx="111.3" cy="236.8" r="2.8" class="pb"/>
<circle cx="101.6" cy="238.6" r="2.8" class="pb"/>
<circle cx="99.9" cy="241.2" r="2.8" class="pb"/>
<circle cx="118.3" cy="240.4" r="2.8" class="pb"/>
<circle cx="121.8" cy="242.1" r="2.8" class="pb"/>
<circle cx="116.6" cy="243.0" r="2.8" class="pb"/>
<circle cx="127.1" cy="236.8" r="2.8" class="pb"/>
<circle cx="128.0" cy="231.6" r="2.8" class="pb"/>
<circle cx="102.5" cy="245.6" r="2.8" class="pb"/>
<circle cx="105.2" cy="249.1" r="2.8" class="pb"/>
<circle cx="109.5" cy="247.4" r="2.8" class="pb"/>
<circle cx="114.8" cy="246.5" r="2.8" class="pb"/>
<circle cx="119.2" cy="248.2" r="2.8" class="pb"/>
<circle cx="125.3" cy="247.4" r="2.8" class="pb"/>
<circle cx="129.7" cy="246.5" r="2.8" class="pb"/>
<circle cx="96.4" cy="250.9" r="2.8" class="pb"/>
<circle cx="99.9" cy="251.8" r="2.8" class="pb"/>
<circle cx="106.9" cy="252.6" r="2.8" class="pb"/>
<circle cx="113.1" cy="251.8" r="2.8" class="pb"/>
<circle cx="120.1" cy="251.8" r="2.8" class="pb"/>
<circle cx="127.1" cy="250.9" r="2.8" class="pb"/>
<circle cx="128.0" cy="210.5" r="2.8" class="pb"/>
<circle cx="127.1" cy="217.5" r="2.8" class="pb"/>
<circle cx="129.7" cy="222.8" r="2.8" class="pb"/>
<circle cx="128.8" cy="228.1" r="2.8" class="pb"/>
<circle cx="106.6" cy="159.8" r="2.8" class="pb"/>
<circle cx="103.1" cy="170.7" r="2.8" class="pb"/>
<circle cx="104.8" cy="174.2" r="2.8" class="pb"/>
<circle cx="117.4" cy="167.2" r="2.8" class="pb"/>
<circle cx="116.9" cy="171.6" r="2.8" class="pb"/>
<circle cx="123.9" cy="167.7" r="2.8" class="pb"/>
<circle cx="125.3" cy="173.0" r="2.8" class="pb"/>
<circle cx="133.2" cy="170.2" r="2.8" class="pb"/>
<circle cx="128.8" cy="178.2" r="2.8" class="pb"/>
<circle cx="135.5" cy="178.9" r="2.8" class="pb"/>
<circle cx="144.3" cy="180.7" r="2.8" class="pb"/>
<circle cx="106.9" cy="181.2" r="2.8" class="pb"/>
<circle cx="107.8" cy="184.2" r="2.8" class="pb"/>
<circle cx="119.2" cy="184.4" r="2.8" class="pb"/>
<circle cx="122.2" cy="183.9" r="2.8" class="pb"/>
<circle cx="126.2" cy="188.2" r="2.8" class="pb"/>
<circle cx="137.3" cy="186.1" r="2.8" class="pb"/>
<circle cx="131.5" cy="190.5" r="2.8" class="pb"/>
<circle cx="123.6" cy="193.5" r="2.8" class="pb"/>
<circle cx="129.7" cy="193.5" r="2.8" class="pb"/>
<circle cx="133.8" cy="193.5" r="2.8" class="pb"/>
<circle cx="142.9" cy="192.1" r="2.8" class="pb"/>
<circle cx="144.3" cy="193.9" r="2.8" class="pb"/>
<circle cx="142.0" cy="196.1" r="2.8" class="pb"/>
<circle cx="123.6" cy="197.0" r="2.8" class="pb"/>
<circle cx="128.0" cy="197.9" r="2.8" class="pb"/>
<circle cx="147.8" cy="198.8" r="2.8" class="pb"/>
<circle cx="210.2" cy="90.2" r="2.8" class="pr"/>
<circle cx="252.5" cy="246.5" r="2.8" class="pr"/>
<circle cx="256.5" cy="244.5" r="2.8" class="pr"/>
<circle cx="255.0" cy="250.5" r="2.8" class="pr"/>
<circle cx="258.5" cy="249.0" r="2.8" class="pr"/>
<circle cx="250.0" cy="249.5" r="2.8" class="pr"/>
<circle cx="246.5" cy="250.5" r="2.8" class="pr"/>
<circle cx="260.5" cy="244.8" r="2.8" class="pr"/>
<circle cx="265.5" cy="243.0" r="2.8" class="pr"/>
<circle cx="227.0" cy="238.0" r="2.8" class="pr"/>
<circle cx="226.0" cy="244.0" r="2.8" class="pr"/>
<circle cx="228.5" cy="249.5" r="2.8" class="pr"/>
<circle cx="225.5" cy="232.0" r="2.8" class="pr"/>
<circle cx="191.4" cy="161.4" r="2.8" class="pr"/>
<circle cx="211.9" cy="160.2" r="2.8" class="pr"/>
<circle cx="187.9" cy="176.0" r="2.8" class="pr"/>
<circle cx="205.1" cy="175.4" r="2.8" class="pr"/>
<circle cx="194.6" cy="180.7" r="2.8" class="pr"/>
<circle cx="200.7" cy="179.5" r="2.8" class="pr"/>
<circle cx="233.9" cy="176.8" r="2.8" class="pr"/>
<circle cx="213.3" cy="183.5" r="2.8" class="pr"/>
<circle cx="186.7" cy="185.6" r="2.8" class="pr"/>
<circle cx="201.9" cy="190.4" r="2.8" class="pr"/>
<circle cx="191.4" cy="194.7" r="2.8" class="pr"/>
<circle cx="194.6" cy="196.1" r="2.8" class="pr"/>
<circle cx="198.4" cy="197.9" r="2.8" class="pr"/>
<circle cx="188.4" cy="199.1" r="2.8" class="pr"/>
<circle cx="204.6" cy="197.5" r="2.8" class="pr"/>
<circle cx="208.9" cy="197.5" r="2.8" class="pr"/>
<circle cx="223.9" cy="198.4" r="2.8" class="pr"/>
<circle cx="201.1" cy="206.4" r="2.8" class="pr"/>
<circle cx="186.1" cy="213.4" r="2.8" class="pr"/>
<circle cx="196.7" cy="212.5" r="2.8" class="pr"/>
<circle cx="210.7" cy="210.8" r="2.8" class="pr"/>
<circle cx="218.6" cy="210.4" r="2.8" class="pr"/>
<circle cx="210.2" cy="214.6" r="2.8" class="pr"/>
<circle cx="214.2" cy="216.4" r="2.8" class="pr"/>
<circle cx="222.1" cy="218.7" r="2.8" class="pr"/>
<circle cx="229.5" cy="215.2" r="2.8" class="pr"/>
<circle cx="213.3" cy="221.0" r="2.8" class="pr"/>
<circle cx="219.5" cy="223.1" r="2.8" class="pr"/>
<circle cx="201.1" cy="221.3" r="2.8" class="pr"/>
<circle cx="201.1" cy="226.6" r="2.8" class="pr"/>
<circle cx="211.2" cy="229.2" r="2.8" class="pr"/>
<circle cx="223.0" cy="228.3" r="2.8" class="pr"/>
<circle cx="227.4" cy="226.9" r="2.8" class="pr"/>
<circle cx="229.1" cy="230.1" r="2.8" class="pr"/>
<circle cx="214.7" cy="233.9" r="2.8" class="pr"/>
<circle cx="235.3" cy="233.6" r="2.8" class="pr"/>
<circle cx="205.4" cy="236.2" r="2.8" class="pr"/>
<circle cx="223.0" cy="237.1" r="2.8" class="pr"/>
<circle cx="227.4" cy="235.4" r="2.8" class="pr"/>
<circle cx="231.8" cy="236.2" r="2.8" class="pr"/>
<circle cx="210.7" cy="240.3" r="2.8" class="pr"/>
<circle cx="218.6" cy="239.7" r="2.8" class="pr"/>
<circle cx="225.6" cy="241.5" r="2.8" class="pr"/>
<circle cx="233.5" cy="241.0" r="2.8" class="pr"/>
<circle cx="208.1" cy="243.2" r="2.8" class="pr"/>
<circle cx="215.1" cy="244.1" r="2.8" class="pr"/>
<circle cx="220.4" cy="245.0" r="2.8" class="pr"/>
<circle cx="228.2" cy="245.9" r="2.8" class="pr"/>
<circle cx="237.9" cy="246.8" r="2.8" class="pr"/>
<circle cx="206.3" cy="247.6" r="2.8" class="pr"/>
<circle cx="212.5" cy="247.6" r="2.8" class="pr"/>
<circle cx="224.7" cy="248.5" r="2.8" class="pr"/>
<circle cx="233.5" cy="249.4" r="2.8" class="pr"/>
<circle cx="204.6" cy="251.1" r="2.8" class="pr"/>
<circle cx="210.7" cy="251.1" r="2.8" class="pr"/>
<circle cx="218.6" cy="251.1" r="2.8" class="pr"/>
<circle cx="226.5" cy="252.0" r="2.8" class="pr"/>
<circle cx="236.1" cy="251.1" r="2.8" class="pr"/>
<circle cx="239.6" cy="252.9" r="2.8" class="pr"/>
<circle cx="202.8" cy="245.9" r="2.8" class="pr"/>
<circle cx="199.3" cy="238.9" r="2.8" class="pr"/>
<circle cx="197.5" cy="217.8" r="2.8" class="pr"/>
<circle cx="243.8" cy="199.0" r="2.8" class="pr"/>
<circle cx="265.5" cy="202.9" r="2.8" class="pr"/>
<circle cx="276.6" cy="203.2" r="2.8" class="pr"/>
<circle cx="250.3" cy="215.2" r="2.8" class="pr"/>
<circle cx="269.6" cy="212.2" r="2.8" class="pr"/>
<circle cx="269.6" cy="221.3" r="2.8" class="pr"/>
<circle cx="256.4" cy="224.0" r="2.8" class="pr"/>
<circle cx="253.4" cy="228.3" r="2.8" class="pr"/>
<circle cx="266.1" cy="226.2" r="2.8" class="pr"/>
<circle cx="266.9" cy="228.0" r="2.8" class="pr"/>
<circle cx="274.3" cy="228.3" r="2.8" class="pr"/>
<circle cx="262.6" cy="231.5" r="2.8" class="pr"/>
<circle cx="269.9" cy="233.2" r="2.8" class="pr"/>
<circle cx="274.0" cy="233.6" r="2.8" class="pr"/>
<circle cx="278.7" cy="234.5" r="2.8" class="pr"/>
<circle cx="250.3" cy="235.0" r="2.8" class="pr"/>
<circle cx="254.7" cy="235.0" r="2.8" class="pr"/>
<circle cx="270.5" cy="238.0" r="2.8" class="pr"/>
<circle cx="275.7" cy="239.7" r="2.8" class="pr"/>
<circle cx="259.1" cy="241.0" r="2.8" class="pr"/>
<circle cx="266.1" cy="241.5" r="2.8" class="pr"/>
<circle cx="248.2" cy="242.7" r="2.8" class="pr"/>
<circle cx="245.9" cy="244.1" r="2.8" class="pr"/>
<circle cx="273.6" cy="243.8" r="2.8" class="pr"/>
<circle cx="239.8" cy="246.8" r="2.8" class="pr"/>
<circle cx="245.0" cy="247.3" r="2.8" class="pr"/>
<circle cx="256.4" cy="246.2" r="2.8" class="pr"/>
<circle cx="264.0" cy="248.5" r="2.8" class="pr"/>
<circle cx="243.3" cy="251.1" r="2.8" class="pr"/>
<circle cx="251.2" cy="252.0" r="2.8" class="pr"/>
<circle cx="263.4" cy="251.1" r="2.8" class="pr"/>
<circle cx="258.2" cy="252.9" r="2.8" class="pr"/>
<circle cx="286.6" cy="178.2" r="2.8" class="pr"/>
<circle cx="284.0" cy="131.2" r="2.8" class="pr"/>
<rect x="36.5" y="68.0" width="260.0" height="242.8" fill="none" stroke="#cfcfcf" stroke-width="1.2"/>
<line x1="34.2" y1="306.7" x2="36.5" y2="306.7" class="tk"/>
<text x="32.6" y="310.8" class="tl" text-anchor="end">0</text>
<line x1="34.2" y1="266.9" x2="36.5" y2="266.9" class="tk"/>
<text x="32.6" y="271.0" class="tl" text-anchor="end">1</text>
<line x1="34.2" y1="227.1" x2="36.5" y2="227.1" class="tk"/>
<text x="32.6" y="231.2" class="tl" text-anchor="end">2</text>
<line x1="34.2" y1="187.3" x2="36.5" y2="187.3" class="tk"/>
<text x="32.6" y="191.4" class="tl" text-anchor="end">3</text>
<line x1="34.2" y1="147.5" x2="36.5" y2="147.5" class="tk"/>
<text x="32.6" y="151.6" class="tl" text-anchor="end">4</text>
<line x1="34.2" y1="107.7" x2="36.5" y2="107.7" class="tk"/>
<text x="32.6" y="111.8" class="tl" text-anchor="end">5</text>
<line x1="34.2" y1="67.9" x2="36.5" y2="67.9" class="tk"/>
<text x="32.6" y="72.0" class="tl" text-anchor="end">6</text>
<line x1="55.4" y1="310.8" x2="55.4" y2="313.1" class="tk"/>
<text x="55.4" y="323.3" class="tl" text-anchor="middle">-6</text>
<line x1="92.5" y1="310.8" x2="92.5" y2="313.1" class="tk"/>
<text x="92.5" y="323.3" class="tl" text-anchor="middle">-4</text>
<line x1="129.6" y1="310.8" x2="129.6" y2="313.1" class="tk"/>
<text x="129.6" y="323.3" class="tl" text-anchor="middle">-2</text>
<line x1="166.7" y1="310.8" x2="166.7" y2="313.1" class="tk"/>
<text x="166.7" y="323.3" class="tl" text-anchor="middle">0</text>
<line x1="203.8" y1="310.8" x2="203.8" y2="313.1" class="tk"/>
<text x="203.8" y="323.3" class="tl" text-anchor="middle">2</text>
<line x1="240.9" y1="310.8" x2="240.9" y2="313.1" class="tk"/>
<text x="240.9" y="323.3" class="tl" text-anchor="middle">4</text>
<line x1="278.0" y1="310.8" x2="278.0" y2="313.1" class="tk"/>
<text x="278.0" y="323.3" class="tl" text-anchor="middle">6</text>
<text x="166.7" y="338.2" class="at" text-anchor="middle">log<tspan dy="2.5" font-size="12">2</tspan><tspan dy="-2.5">(Fold Change)</tspan></text>
<text transform="translate(20.6,190.3) rotate(-90)" class="at" text-anchor="middle">-log<tspan dy="2.5" font-size="12">10</tspan><tspan dy="-2.5">(p value)</tspan></text>
<circle cx="59.8" cy="54.7" r="4.1" fill="#3a69d8" fill-opacity="0.70"/>
<text x="66.6" y="57.8" class="lg" textLength="71.8" lengthAdjust="spacingAndGlyphs">Down regulated(413)</text>
<circle cx="151.2" cy="54.7" r="4.1" fill="#c9c9c9"/>
<text x="158.2" y="57.8" class="lg" textLength="41.9" lengthAdjust="spacingAndGlyphs">Not changed</text>
<circle cx="213.6" cy="54.7" r="4.1" fill="#f0410f" fill-opacity="0.72"/>
<text x="220.6" y="57.8" class="lg" textLength="61.3" lengthAdjust="spacingAndGlyphs">Up regulated(306)</text>
<text x="0.9" y="16.6" class="pl" style="font-size:15.6px">A</text>
<text x="353.2" y="14.5" class="pl" style="font-size:16.6px">B</text>
<rect x="424.00" y="40.70" width="30.30" height="0.97" fill="rgb(255,179,179)"/>
<rect x="424.00" y="41.52" width="30.30" height="2.20" fill="rgb(255,232,232)"/>
<rect x="424.00" y="43.57" width="30.30" height="0.97" fill="rgb(255,240,240)"/>
<rect x="424.00" y="44.39" width="30.30" height="0.56" fill="rgb(255,193,193)"/>
<rect x="424.00" y="44.80" width="30.30" height="0.56" fill="rgb(255,197,197)"/>
<rect x="424.00" y="45.21" width="30.30" height="1.38" fill="rgb(255,225,225)"/>
<rect x="424.00" y="46.44" width="30.30" height="2.20" fill="rgb(255,247,247)"/>
<rect x="424.00" y="48.49" width="30.30" height="0.56" fill="rgb(255,236,236)"/>
<rect x="424.00" y="48.90" width="30.30" height="0.56" fill="rgb(216,216,255)"/>
<rect x="424.00" y="49.31" width="30.30" height="1.79" fill="rgb(194,194,255)"/>
<rect x="424.00" y="50.95" width="30.30" height="0.56" fill="rgb(188,188,255)"/>
<rect x="424.00" y="51.36" width="30.30" height="0.97" fill="rgb(193,193,255)"/>
<rect x="424.00" y="52.18" width="30.30" height="1.79" fill="rgb(202,202,255)"/>
<rect x="424.00" y="53.82" width="30.30" height="1.38" fill="rgb(176,176,255)"/>
<rect x="424.00" y="55.05" width="30.30" height="0.56" fill="rgb(207,207,255)"/>
<rect x="424.00" y="55.46" width="30.30" height="0.56" fill="rgb(198,198,255)"/>
<rect x="424.00" y="55.87" width="30.30" height="0.56" fill="rgb(223,223,255)"/>
<rect x="424.00" y="56.28" width="30.30" height="2.20" fill="rgb(186,186,255)"/>
<rect x="424.00" y="58.33" width="30.30" height="0.97" fill="rgb(179,179,255)"/>
<rect x="424.00" y="59.15" width="30.30" height="0.56" fill="rgb(214,214,255)"/>
<rect x="424.00" y="59.56" width="30.30" height="1.38" fill="rgb(193,193,255)"/>
<rect x="424.00" y="60.79" width="30.30" height="0.56" fill="rgb(207,207,255)"/>
<rect x="424.00" y="61.20" width="30.30" height="1.79" fill="rgb(215,215,255)"/>
<rect x="424.00" y="62.84" width="30.30" height="0.97" fill="rgb(205,205,255)"/>
<rect x="424.00" y="63.66" width="30.30" height="1.38" fill="rgb(228,228,255)"/>
<rect x="424.00" y="64.89" width="30.30" height="1.79" fill="rgb(190,190,255)"/>
<rect x="424.00" y="66.53" width="30.30" height="0.97" fill="rgb(211,211,255)"/>
<rect x="424.00" y="67.35" width="30.30" height="0.97" fill="rgb(229,229,255)"/>
<rect x="424.00" y="68.17" width="30.30" height="0.56" fill="rgb(246,246,255)"/>
<rect x="424.00" y="68.58" width="30.30" height="0.97" fill="rgb(231,231,255)"/>
<rect x="424.00" y="69.40" width="30.30" height="0.56" fill="rgb(228,228,255)"/>
<rect x="424.00" y="69.81" width="30.30" height="0.56" fill="rgb(201,201,255)"/>
<rect x="424.00" y="70.22" width="30.30" height="2.20" fill="rgb(211,211,255)"/>
<rect x="424.00" y="72.27" width="30.30" height="0.56" fill="rgb(205,205,255)"/>
<rect x="424.00" y="72.68" width="30.30" height="0.97" fill="rgb(234,234,255)"/>
<rect x="424.00" y="73.50" width="30.30" height="0.97" fill="rgb(255,234,234)"/>
<rect x="424.00" y="74.32" width="30.30" height="0.56" fill="rgb(243,243,255)"/>
<rect x="424.00" y="74.73" width="30.30" height="1.79" fill="rgb(250,250,255)"/>
<rect x="424.00" y="76.37" width="30.30" height="0.97" fill="rgb(246,246,255)"/>
<rect x="424.00" y="77.19" width="30.30" height="0.56" fill="rgb(218,218,255)"/>
<rect x="424.00" y="77.60" width="30.30" height="0.97" fill="rgb(204,204,255)"/>
<rect x="424.00" y="78.42" width="30.30" height="0.56" fill="rgb(194,194,255)"/>
<rect x="424.00" y="78.83" width="30.30" height="1.79" fill="rgb(209,209,255)"/>
<rect x="424.00" y="80.47" width="30.30" height="2.20" fill="rgb(208,208,255)"/>
<rect x="424.00" y="82.52" width="30.30" height="0.97" fill="rgb(215,215,255)"/>
<rect x="424.00" y="83.34" width="30.30" height="0.97" fill="rgb(226,226,255)"/>
<rect x="424.00" y="84.16" width="30.30" height="1.38" fill="rgb(215,215,255)"/>
<rect x="424.00" y="85.39" width="30.30" height="0.56" fill="rgb(233,233,255)"/>
<rect x="424.00" y="85.80" width="30.30" height="0.97" fill="rgb(198,198,255)"/>
<rect x="424.00" y="86.62" width="30.30" height="0.97" fill="rgb(197,197,255)"/>
<rect x="424.00" y="87.44" width="30.30" height="0.56" fill="rgb(242,242,255)"/>
<rect x="424.00" y="87.85" width="30.30" height="2.20" fill="rgb(204,204,255)"/>
<rect x="424.00" y="89.90" width="30.30" height="1.38" fill="rgb(255,243,243)"/>
<rect x="424.00" y="91.13" width="30.30" height="0.56" fill="rgb(255,192,192)"/>
<rect x="424.00" y="91.54" width="30.30" height="0.56" fill="rgb(251,251,255)"/>
<rect x="424.00" y="91.95" width="30.30" height="1.79" fill="rgb(255,206,206)"/>
<rect x="424.00" y="93.59" width="30.30" height="1.38" fill="rgb(255,43,43)"/>
<rect x="424.00" y="94.82" width="30.30" height="0.56" fill="rgb(255,55,55)"/>
<rect x="424.00" y="95.23" width="30.30" height="0.97" fill="rgb(255,91,91)"/>
<rect x="424.00" y="96.05" width="30.30" height="0.97" fill="rgb(255,56,56)"/>
<rect x="424.00" y="96.87" width="30.30" height="2.20" fill="rgb(255,91,91)"/>
<rect x="424.00" y="98.92" width="30.30" height="0.56" fill="rgb(255,82,82)"/>
<rect x="424.00" y="99.33" width="30.30" height="0.56" fill="rgb(255,102,102)"/>
<rect x="424.00" y="99.74" width="30.30" height="1.38" fill="rgb(255,96,96)"/>
<rect x="424.00" y="100.97" width="30.30" height="0.97" fill="rgb(255,104,104)"/>
<rect x="424.00" y="101.79" width="30.30" height="1.38" fill="rgb(255,74,74)"/>
<rect x="424.00" y="103.02" width="30.30" height="0.97" fill="rgb(255,84,84)"/>
<rect x="424.00" y="103.84" width="30.30" height="0.97" fill="rgb(255,98,98)"/>
<rect x="424.00" y="104.66" width="30.30" height="0.56" fill="rgb(255,101,101)"/>
<rect x="424.00" y="105.07" width="30.30" height="0.56" fill="rgb(255,101,101)"/>
<rect x="424.00" y="105.48" width="30.30" height="2.20" fill="rgb(255,113,113)"/>
<rect x="424.00" y="107.53" width="30.30" height="0.56" fill="rgb(255,109,109)"/>
<rect x="424.00" y="107.94" width="30.30" height="1.79" fill="rgb(255,106,106)"/>
<rect x="424.00" y="109.58" width="30.30" height="1.79" fill="rgb(255,107,107)"/>
<rect x="424.00" y="111.22" width="30.30" height="0.97" fill="rgb(255,0,0)"/>
<rect x="424.00" y="112.04" width="30.30" height="0.97" fill="rgb(255,0,0)"/>
<rect x="424.00" y="112.86" width="30.30" height="0.56" fill="rgb(255,0,0)"/>
<rect x="424.00" y="113.27" width="30.30" height="0.97" fill="rgb(255,0,0)"/>
<rect x="424.00" y="114.09" width="30.30" height="0.56" fill="rgb(255,0,0)"/>
<rect x="424.00" y="114.50" width="30.30" height="0.97" fill="rgb(255,0,0)"/>
<rect x="424.00" y="115.32" width="30.30" height="2.20" fill="rgb(255,0,0)"/>
<rect x="424.00" y="117.37" width="30.30" height="1.38" fill="rgb(255,0,0)"/>
<rect x="424.00" y="118.60" width="30.30" height="0.56" fill="rgb(255,0,0)"/>
<rect x="424.00" y="119.01" width="30.30" height="0.56" fill="rgb(255,0,0)"/>
<rect x="424.00" y="119.42" width="30.30" height="0.56" fill="rgb(255,2,2)"/>
<rect x="424.00" y="119.83" width="30.30" height="1.38" fill="rgb(255,0,0)"/>
<rect x="424.00" y="121.06" width="30.30" height="1.38" fill="rgb(254,254,255)"/>
<rect x="424.00" y="122.29" width="30.30" height="0.56" fill="rgb(248,248,255)"/>
<rect x="424.00" y="122.70" width="30.30" height="1.79" fill="rgb(255,253,253)"/>
<rect x="424.00" y="124.34" width="30.30" height="0.97" fill="rgb(244,244,255)"/>
<rect x="424.00" y="125.16" width="30.30" height="0.56" fill="rgb(253,253,255)"/>
<rect x="424.00" y="125.57" width="30.30" height="0.97" fill="rgb(247,247,255)"/>
<rect x="424.00" y="126.39" width="30.30" height="1.38" fill="rgb(233,233,255)"/>
<rect x="424.00" y="127.62" width="30.30" height="0.97" fill="rgb(238,238,255)"/>
<rect x="424.00" y="128.44" width="30.30" height="0.56" fill="rgb(255,226,226)"/>
<rect x="424.00" y="128.85" width="30.30" height="1.79" fill="rgb(208,208,255)"/>
<rect x="424.00" y="130.49" width="30.30" height="1.79" fill="rgb(233,233,255)"/>
<rect x="424.00" y="132.13" width="30.30" height="0.56" fill="rgb(255,164,164)"/>
<rect x="424.00" y="132.54" width="30.30" height="1.38" fill="rgb(255,137,137)"/>
<rect x="424.00" y="133.77" width="30.30" height="0.97" fill="rgb(255,139,139)"/>
<rect x="424.00" y="134.59" width="30.30" height="1.79" fill="rgb(255,142,142)"/>
<rect x="424.00" y="136.23" width="30.30" height="1.38" fill="rgb(255,136,136)"/>
<rect x="424.00" y="137.46" width="30.30" height="1.79" fill="rgb(255,134,134)"/>
<rect x="424.00" y="139.10" width="30.30" height="0.97" fill="rgb(255,137,137)"/>
<rect x="424.00" y="139.92" width="30.30" height="0.97" fill="rgb(255,84,84)"/>
<rect x="424.00" y="140.74" width="30.30" height="0.97" fill="rgb(255,84,84)"/>
<rect x="424.00" y="141.56" width="30.30" height="1.38" fill="rgb(255,93,93)"/>
<rect x="424.00" y="142.79" width="30.30" height="1.79" fill="rgb(255,85,85)"/>
<rect x="424.00" y="144.43" width="30.30" height="1.79" fill="rgb(255,99,99)"/>
<rect x="424.00" y="146.07" width="30.30" height="0.97" fill="rgb(255,122,122)"/>
<rect x="424.00" y="146.89" width="30.30" height="0.97" fill="rgb(255,71,71)"/>
<rect x="424.00" y="147.71" width="30.30" height="0.56" fill="rgb(255,78,78)"/>
<rect x="424.00" y="148.12" width="30.30" height="2.20" fill="rgb(255,61,61)"/>
<rect x="424.00" y="150.17" width="30.30" height="0.56" fill="rgb(255,125,125)"/>
<rect x="424.00" y="150.58" width="30.30" height="2.20" fill="rgb(255,93,93)"/>
<rect x="424.00" y="152.63" width="30.30" height="1.79" fill="rgb(255,89,89)"/>
<rect x="424.00" y="154.27" width="30.30" height="0.97" fill="rgb(255,91,91)"/>
<rect x="424.00" y="155.09" width="30.30" height="0.56" fill="rgb(255,87,87)"/>
<rect x="424.00" y="155.50" width="30.30" height="0.56" fill="rgb(255,81,81)"/>
<rect x="424.00" y="155.91" width="30.30" height="0.97" fill="rgb(255,84,84)"/>
<rect x="424.00" y="156.73" width="30.30" height="0.97" fill="rgb(255,219,219)"/>
<rect x="424.00" y="157.55" width="30.30" height="1.79" fill="rgb(255,236,236)"/>
<rect x="424.00" y="159.19" width="30.30" height="1.79" fill="rgb(255,235,235)"/>
<rect x="424.00" y="160.83" width="30.30" height="2.20" fill="rgb(207,207,255)"/>
<rect x="424.00" y="162.88" width="30.30" height="1.38" fill="rgb(244,244,255)"/>
<rect x="424.00" y="164.11" width="30.30" height="0.56" fill="rgb(233,233,255)"/>
<rect x="424.00" y="164.52" width="30.30" height="0.97" fill="rgb(199,199,255)"/>
<rect x="424.00" y="165.34" width="30.30" height="0.56" fill="rgb(204,204,255)"/>
<rect x="424.00" y="165.75" width="30.30" height="1.79" fill="rgb(204,204,255)"/>
<rect x="424.00" y="167.39" width="30.30" height="1.79" fill="rgb(200,200,255)"/>
<rect x="424.00" y="169.03" width="30.30" height="0.97" fill="rgb(178,178,255)"/>
<rect x="424.00" y="169.85" width="30.30" height="0.97" fill="rgb(181,181,255)"/>
<rect x="424.00" y="170.67" width="30.30" height="0.56" fill="rgb(173,173,255)"/>
<rect x="424.00" y="171.08" width="30.30" height="0.56" fill="rgb(167,167,255)"/>
<rect x="424.00" y="171.49" width="30.30" height="2.20" fill="rgb(202,202,255)"/>
<rect x="424.00" y="173.54" width="30.30" height="0.97" fill="rgb(163,163,255)"/>
<rect x="424.00" y="174.36" width="30.30" height="0.97" fill="rgb(192,192,255)"/>
<rect x="424.00" y="175.18" width="30.30" height="1.79" fill="rgb(168,168,255)"/>
<rect x="424.00" y="176.82" width="30.30" height="0.97" fill="rgb(185,185,255)"/>
<rect x="424.00" y="177.64" width="30.30" height="2.20" fill="rgb(198,198,255)"/>
<rect x="424.00" y="179.69" width="30.30" height="2.20" fill="rgb(212,212,255)"/>
<rect x="424.00" y="181.74" width="30.30" height="0.97" fill="rgb(158,158,255)"/>
<rect x="424.00" y="182.56" width="30.30" height="0.56" fill="rgb(164,164,255)"/>
<rect x="424.00" y="182.97" width="30.30" height="0.56" fill="rgb(170,170,255)"/>
<rect x="424.00" y="183.38" width="30.30" height="0.56" fill="rgb(142,142,255)"/>
<rect x="424.00" y="183.79" width="30.30" height="2.20" fill="rgb(179,179,255)"/>
<rect x="424.00" y="185.84" width="30.30" height="0.56" fill="rgb(167,167,255)"/>
<rect x="424.00" y="186.25" width="30.30" height="0.97" fill="rgb(133,133,255)"/>
<rect x="424.00" y="187.07" width="30.30" height="2.20" fill="rgb(189,189,255)"/>
<rect x="424.00" y="189.12" width="30.30" height="0.97" fill="rgb(197,197,255)"/>
<rect x="424.00" y="189.94" width="30.30" height="0.56" fill="rgb(188,188,255)"/>
<rect x="424.00" y="190.35" width="30.30" height="1.38" fill="rgb(162,162,255)"/>
<rect x="424.00" y="191.58" width="30.30" height="0.97" fill="rgb(164,164,255)"/>
<rect x="424.00" y="192.40" width="30.30" height="2.20" fill="rgb(152,152,255)"/>
<rect x="424.00" y="194.45" width="30.30" height="1.38" fill="rgb(171,171,255)"/>
<rect x="424.00" y="195.68" width="30.30" height="0.56" fill="rgb(181,181,255)"/>
<rect x="424.00" y="196.09" width="30.30" height="0.97" fill="rgb(182,182,255)"/>
<rect x="424.00" y="196.91" width="30.30" height="1.79" fill="rgb(175,175,255)"/>
<rect x="424.00" y="198.55" width="30.30" height="0.97" fill="rgb(164,164,255)"/>
<rect x="424.00" y="199.37" width="30.30" height="2.20" fill="rgb(171,171,255)"/>
<rect x="424.00" y="201.42" width="30.30" height="1.38" fill="rgb(189,189,255)"/>
<rect x="424.00" y="202.65" width="30.30" height="0.97" fill="rgb(180,180,255)"/>
<rect x="424.00" y="203.47" width="30.30" height="0.56" fill="rgb(214,214,255)"/>
<rect x="424.00" y="203.88" width="30.30" height="0.56" fill="rgb(184,184,255)"/>
<rect x="424.00" y="204.29" width="30.30" height="2.20" fill="rgb(182,182,255)"/>
<rect x="424.00" y="206.34" width="30.30" height="1.79" fill="rgb(221,221,255)"/>
<rect x="424.00" y="207.98" width="30.30" height="0.56" fill="rgb(191,191,255)"/>
<rect x="424.00" y="208.39" width="30.30" height="1.79" fill="rgb(226,226,255)"/>
<rect x="424.00" y="210.03" width="30.30" height="1.79" fill="rgb(234,234,255)"/>
<rect x="424.00" y="211.67" width="30.30" height="1.79" fill="rgb(133,133,255)"/>
<rect x="424.00" y="213.31" width="30.30" height="0.56" fill="rgb(185,185,255)"/>
<rect x="424.00" y="213.72" width="30.30" height="0.56" fill="rgb(199,199,255)"/>
<rect x="424.00" y="214.13" width="30.30" height="1.79" fill="rgb(200,200,255)"/>
<rect x="424.00" y="215.77" width="30.30" height="1.79" fill="rgb(180,180,255)"/>
<rect x="424.00" y="217.41" width="30.30" height="0.56" fill="rgb(185,185,255)"/>
<rect x="424.00" y="217.82" width="30.30" height="0.97" fill="rgb(192,192,255)"/>
<rect x="424.00" y="218.64" width="30.30" height="1.38" fill="rgb(171,171,255)"/>
<rect x="424.00" y="219.87" width="30.30" height="1.38" fill="rgb(157,157,255)"/>
<rect x="424.00" y="221.10" width="30.30" height="2.20" fill="rgb(199,199,255)"/>
<rect x="424.00" y="223.15" width="30.30" height="1.79" fill="rgb(210,210,255)"/>
<rect x="424.00" y="224.79" width="30.30" height="0.56" fill="rgb(255,255,255)"/>
<rect x="424.00" y="225.20" width="30.30" height="1.79" fill="rgb(240,240,255)"/>
<rect x="424.00" y="226.84" width="30.30" height="0.97" fill="rgb(231,231,255)"/>
<rect x="424.00" y="227.66" width="30.30" height="1.79" fill="rgb(232,232,255)"/>
<rect x="424.00" y="229.30" width="30.30" height="0.56" fill="rgb(199,199,255)"/>
<rect x="424.00" y="229.71" width="30.30" height="1.38" fill="rgb(234,234,255)"/>
<rect x="424.00" y="230.94" width="30.30" height="2.20" fill="rgb(186,186,255)"/>
<rect x="424.00" y="232.99" width="30.30" height="0.97" fill="rgb(163,163,255)"/>
<rect x="424.00" y="233.81" width="30.30" height="1.79" fill="rgb(187,187,255)"/>
<rect x="424.00" y="235.45" width="30.30" height="2.20" fill="rgb(178,178,255)"/>
<rect x="424.00" y="237.50" width="30.30" height="2.20" fill="rgb(191,191,255)"/>
<rect x="424.00" y="239.55" width="30.30" height="0.56" fill="rgb(137,137,255)"/>
<rect x="424.00" y="239.96" width="30.30" height="0.56" fill="rgb(179,179,255)"/>
<rect x="424.00" y="240.37" width="30.30" height="0.56" fill="rgb(198,198,255)"/>
<rect x="424.00" y="240.78" width="30.30" height="0.97" fill="rgb(146,146,255)"/>
<rect x="424.00" y="241.60" width="30.30" height="0.97" fill="rgb(171,171,255)"/>
<rect x="424.00" y="242.42" width="30.30" height="0.97" fill="rgb(210,210,255)"/>
<rect x="424.00" y="243.24" width="30.30" height="0.97" fill="rgb(158,158,255)"/>
<rect x="424.00" y="244.06" width="30.30" height="1.38" fill="rgb(196,196,255)"/>
<rect x="424.00" y="245.29" width="30.30" height="1.38" fill="rgb(189,189,255)"/>
<rect x="424.00" y="246.52" width="30.30" height="0.97" fill="rgb(181,181,255)"/>
<rect x="424.00" y="247.34" width="30.30" height="0.56" fill="rgb(157,157,255)"/>
<rect x="424.00" y="247.75" width="30.30" height="0.56" fill="rgb(181,181,255)"/>
<rect x="424.00" y="248.16" width="30.30" height="2.20" fill="rgb(172,172,255)"/>
<rect x="424.00" y="250.21" width="30.30" height="0.56" fill="rgb(187,187,255)"/>
<rect x="424.00" y="250.62" width="30.30" height="2.20" fill="rgb(194,194,255)"/>
<rect x="424.00" y="252.67" width="30.30" height="0.56" fill="rgb(100,100,255)"/>
<rect x="424.00" y="253.08" width="30.30" height="1.79" fill="rgb(193,193,255)"/>
<rect x="424.00" y="254.72" width="30.30" height="1.38" fill="rgb(194,194,255)"/>
<rect x="424.00" y="255.95" width="30.30" height="0.97" fill="rgb(154,154,255)"/>
<rect x="424.00" y="256.77" width="30.30" height="1.38" fill="rgb(186,186,255)"/>
<rect x="424.00" y="258.00" width="30.30" height="0.56" fill="rgb(176,176,255)"/>
<rect x="424.00" y="258.41" width="30.30" height="0.97" fill="rgb(163,163,255)"/>
<rect x="424.00" y="259.23" width="30.30" height="1.79" fill="rgb(176,176,255)"/>
<rect x="424.00" y="260.87" width="30.30" height="1.38" fill="rgb(164,164,255)"/>
<rect x="424.00" y="262.10" width="30.30" height="2.20" fill="rgb(161,161,255)"/>
<rect x="424.00" y="264.15" width="30.30" height="1.38" fill="rgb(177,177,255)"/>
<rect x="424.00" y="265.38" width="30.30" height="2.20" fill="rgb(207,207,255)"/>
<rect x="424.00" y="267.43" width="30.30" height="2.20" fill="rgb(189,189,255)"/>
<rect x="424.00" y="269.48" width="30.30" height="2.20" fill="rgb(171,171,255)"/>
<rect x="424.00" y="271.53" width="30.30" height="0.56" fill="rgb(201,201,255)"/>
<rect x="424.00" y="271.94" width="30.30" height="1.38" fill="rgb(174,174,255)"/>
<rect x="424.00" y="273.17" width="30.30" height="0.97" fill="rgb(186,186,255)"/>
<rect x="424.00" y="273.99" width="30.30" height="1.38" fill="rgb(201,201,255)"/>
<rect x="424.00" y="275.22" width="30.30" height="0.56" fill="rgb(175,175,255)"/>
<rect x="424.00" y="275.63" width="30.30" height="0.56" fill="rgb(176,176,255)"/>
<rect x="424.00" y="276.04" width="30.30" height="1.38" fill="rgb(199,199,255)"/>
<rect x="424.00" y="277.27" width="30.30" height="1.38" fill="rgb(167,167,255)"/>
<rect x="424.00" y="278.50" width="30.30" height="0.56" fill="rgb(149,149,255)"/>
<rect x="424.00" y="278.91" width="30.30" height="0.56" fill="rgb(180,180,255)"/>
<rect x="424.00" y="279.32" width="30.30" height="1.38" fill="rgb(137,137,255)"/>
<rect x="424.00" y="280.55" width="30.30" height="2.20" fill="rgb(189,189,255)"/>
<rect x="424.00" y="282.60" width="30.30" height="0.97" fill="rgb(176,176,255)"/>
<rect x="424.00" y="283.42" width="30.30" height="0.56" fill="rgb(200,200,255)"/>
<rect x="424.00" y="283.83" width="30.30" height="0.97" fill="rgb(146,146,255)"/>
<rect x="424.00" y="284.65" width="30.30" height="0.97" fill="rgb(193,193,255)"/>
<rect x="424.00" y="285.47" width="30.30" height="1.38" fill="rgb(173,173,255)"/>
<rect x="424.00" y="286.70" width="30.30" height="1.38" fill="rgb(190,190,255)"/>
<rect x="424.00" y="287.93" width="30.30" height="0.56" fill="rgb(187,187,255)"/>
<rect x="424.00" y="288.34" width="30.30" height="2.20" fill="rgb(174,174,255)"/>
<rect x="424.00" y="290.39" width="30.30" height="0.56" fill="rgb(208,208,255)"/>
<rect x="424.00" y="290.80" width="30.30" height="0.56" fill="rgb(200,200,255)"/>
<rect x="424.00" y="291.21" width="30.30" height="1.79" fill="rgb(191,191,255)"/>
<rect x="424.00" y="292.85" width="30.30" height="0.56" fill="rgb(228,228,255)"/>
<rect x="424.00" y="293.26" width="30.30" height="1.38" fill="rgb(175,175,255)"/>
<rect x="424.00" y="294.49" width="30.30" height="1.38" fill="rgb(198,198,255)"/>
<rect x="424.00" y="295.72" width="30.30" height="0.56" fill="rgb(214,214,255)"/>
<rect x="424.00" y="296.13" width="30.30" height="1.79" fill="rgb(176,176,255)"/>
<rect x="424.00" y="297.77" width="30.30" height="0.56" fill="rgb(186,186,255)"/>
<rect x="424.00" y="298.18" width="30.30" height="0.56" fill="rgb(160,160,255)"/>
<rect x="424.00" y="298.59" width="30.30" height="0.97" fill="rgb(174,174,255)"/>
<rect x="424.00" y="299.41" width="30.30" height="1.38" fill="rgb(171,171,255)"/>
<rect x="424.00" y="300.64" width="30.30" height="0.56" fill="rgb(161,161,255)"/>
<rect x="424.00" y="301.05" width="30.30" height="1.38" fill="rgb(189,189,255)"/>
<rect x="424.00" y="302.28" width="30.30" height="1.79" fill="rgb(156,156,255)"/>
<rect x="424.00" y="303.92" width="30.30" height="1.38" fill="rgb(166,166,255)"/>
<rect x="424.00" y="305.15" width="30.30" height="1.38" fill="rgb(144,144,255)"/>
<rect x="424.00" y="306.38" width="30.30" height="1.79" fill="rgb(148,148,255)"/>
<rect x="424.00" y="308.02" width="30.30" height="1.79" fill="rgb(168,168,255)"/>
<rect x="424.00" y="309.66" width="30.30" height="0.97" fill="rgb(115,115,255)"/>
<rect x="424.00" y="310.48" width="30.30" height="1.38" fill="rgb(136,136,255)"/>
<rect x="424.00" y="311.71" width="30.30" height="0.56" fill="rgb(193,193,255)"/>
<rect x="424.00" y="312.12" width="30.30" height="2.20" fill="rgb(193,193,255)"/>
<rect x="424.00" y="314.17" width="30.30" height="0.56" fill="rgb(153,153,255)"/>
<rect x="424.00" y="314.58" width="30.30" height="0.56" fill="rgb(159,159,255)"/>
<rect x="424.00" y="314.99" width="30.30" height="0.97" fill="rgb(159,159,255)"/>
<rect x="424.00" y="315.81" width="30.30" height="0.56" fill="rgb(137,137,255)"/>
<rect x="424.00" y="316.22" width="30.30" height="1.38" fill="rgb(197,197,255)"/>
<rect x="424.00" y="317.45" width="30.30" height="2.20" fill="rgb(175,175,255)"/>
<rect x="424.00" y="319.50" width="30.30" height="1.79" fill="rgb(166,166,255)"/>
<rect x="424.00" y="321.14" width="30.30" height="1.79" fill="rgb(181,181,255)"/>
<rect x="424.00" y="322.78" width="30.30" height="1.38" fill="rgb(170,170,255)"/>
<rect x="424.00" y="324.01" width="30.30" height="1.79" fill="rgb(137,137,255)"/>
<rect x="424.00" y="325.65" width="30.30" height="0.97" fill="rgb(187,187,255)"/>
<rect x="424.00" y="326.47" width="30.30" height="0.56" fill="rgb(152,152,255)"/>
<rect x="424.00" y="326.88" width="30.30" height="0.97" fill="rgb(133,133,255)"/>
<rect x="424.00" y="327.70" width="30.30" height="1.38" fill="rgb(196,196,255)"/>
<rect x="424.00" y="328.93" width="30.30" height="2.20" fill="rgb(159,159,255)"/>
<rect x="424.00" y="330.98" width="30.30" height="0.56" fill="rgb(155,155,255)"/>
<rect x="424.00" y="331.39" width="30.30" height="2.20" fill="rgb(160,160,255)"/>
<rect x="424.00" y="333.44" width="30.30" height="1.38" fill="rgb(128,128,255)"/>
<rect x="424.00" y="334.67" width="30.30" height="0.97" fill="rgb(132,132,255)"/>
<rect x="424.00" y="335.49" width="30.30" height="0.16" fill="rgb(163,163,255)"/>
<rect x="454.00" y="40.70" width="30.30" height="0.56" fill="rgb(255,170,170)"/>
<rect x="454.00" y="41.11" width="30.30" height="2.20" fill="rgb(255,170,170)"/>
<rect x="454.00" y="43.16" width="30.30" height="1.79" fill="rgb(255,165,165)"/>
<rect x="454.00" y="44.80" width="30.30" height="0.56" fill="rgb(255,239,239)"/>
<rect x="454.00" y="45.21" width="30.30" height="1.79" fill="rgb(255,234,234)"/>
<rect x="454.00" y="46.85" width="30.30" height="0.97" fill="rgb(255,184,184)"/>
<rect x="454.00" y="47.67" width="30.30" height="0.97" fill="rgb(255,187,187)"/>
<rect x="454.00" y="48.49" width="30.30" height="0.97" fill="rgb(255,207,207)"/>
<rect x="454.00" y="49.31" width="30.30" height="0.56" fill="rgb(255,145,145)"/>
<rect x="454.00" y="49.72" width="30.30" height="1.38" fill="rgb(255,172,172)"/>
<rect x="454.00" y="50.95" width="30.30" height="0.56" fill="rgb(255,134,134)"/>
<rect x="454.00" y="51.36" width="30.30" height="2.20" fill="rgb(255,147,147)"/>
<rect x="454.00" y="53.41" width="30.30" height="0.97" fill="rgb(255,134,134)"/>
<rect x="454.00" y="54.23" width="30.30" height="1.79" fill="rgb(255,246,246)"/>
<rect x="454.00" y="55.87" width="30.30" height="1.38" fill="rgb(255,185,185)"/>
<rect x="454.00" y="57.10" width="30.30" height="0.56" fill="rgb(255,189,189)"/>
<rect x="454.00" y="57.51" width="30.30" height="0.97" fill="rgb(255,198,198)"/>
<rect x="454.00" y="58.33" width="30.30" height="0.56" fill="rgb(255,92,92)"/>
<rect x="454.00" y="58.74" width="30.30" height="2.20" fill="rgb(255,130,130)"/>
<rect x="454.00" y="60.79" width="30.30" height="1.79" fill="rgb(255,79,79)"/>
<rect x="454.00" y="62.43" width="30.30" height="0.56" fill="rgb(255,111,111)"/>
<rect x="454.00" y="62.84" width="30.30" height="1.38" fill="rgb(255,117,117)"/>
<rect x="454.00" y="64.07" width="30.30" height="2.20" fill="rgb(255,200,200)"/>
<rect x="454.00" y="66.12" width="30.30" height="0.97" fill="rgb(202,202,255)"/>
<rect x="454.00" y="66.94" width="30.30" height="1.79" fill="rgb(213,213,255)"/>
<rect x="454.00" y="68.58" width="30.30" height="2.20" fill="rgb(228,228,255)"/>
<rect x="454.00" y="70.63" width="30.30" height="0.56" fill="rgb(242,242,255)"/>
<rect x="454.00" y="71.04" width="30.30" height="0.97" fill="rgb(225,225,255)"/>
<rect x="454.00" y="71.86" width="30.30" height="2.20" fill="rgb(184,184,255)"/>
<rect x="454.00" y="73.91" width="30.30" height="0.97" fill="rgb(206,206,255)"/>
<rect x="454.00" y="74.73" width="30.30" height="1.79" fill="rgb(185,185,255)"/>
<rect x="454.00" y="76.37" width="30.30" height="0.56" fill="rgb(220,220,255)"/>
<rect x="454.00" y="76.78" width="30.30" height="0.97" fill="rgb(250,250,255)"/>
<rect x="454.00" y="77.60" width="30.30" height="0.56" fill="rgb(255,250,250)"/>
<rect x="454.00" y="78.01" width="30.30" height="1.79" fill="rgb(243,243,255)"/>
<rect x="454.00" y="79.65" width="30.30" height="1.38" fill="rgb(255,253,253)"/>
<rect x="454.00" y="80.88" width="30.30" height="1.79" fill="rgb(247,247,255)"/>
<rect x="454.00" y="82.52" width="30.30" height="0.97" fill="rgb(189,189,255)"/>
<rect x="454.00" y="83.34" width="30.30" height="1.38" fill="rgb(228,228,255)"/>
<rect x="454.00" y="84.57" width="30.30" height="0.56" fill="rgb(185,185,255)"/>
<rect x="454.00" y="84.98" width="30.30" height="0.97" fill="rgb(200,200,255)"/>
<rect x="454.00" y="85.80" width="30.30" height="1.79" fill="rgb(206,206,255)"/>
<rect x="454.00" y="87.44" width="30.30" height="0.97" fill="rgb(213,213,255)"/>
<rect x="454.00" y="88.26" width="30.30" height="1.38" fill="rgb(230,230,255)"/>
<rect x="454.00" y="89.49" width="30.30" height="1.79" fill="rgb(255,238,238)"/>
<rect x="454.00" y="91.13" width="30.30" height="0.56" fill="rgb(255,243,243)"/>
<rect x="454.00" y="91.54" width="30.30" height="0.56" fill="rgb(255,223,223)"/>
<rect x="454.00" y="91.95" width="30.30" height="2.20" fill="rgb(255,236,236)"/>
<rect x="454.00" y="94.00" width="30.30" height="0.56" fill="rgb(255,225,225)"/>
<rect x="454.00" y="94.41" width="30.30" height="0.97" fill="rgb(255,242,242)"/>
<rect x="454.00" y="95.23" width="30.30" height="1.38" fill="rgb(255,239,239)"/>
<rect x="454.00" y="96.46" width="30.30" height="1.38" fill="rgb(180,180,255)"/>
<rect x="454.00" y="97.69" width="30.30" height="1.38" fill="rgb(227,227,255)"/>
<rect x="454.00" y="98.92" width="30.30" height="2.20" fill="rgb(255,253,253)"/>
<rect x="454.00" y="100.97" width="30.30" height="2.20" fill="rgb(229,229,255)"/>
<rect x="454.00" y="103.02" width="30.30" height="1.79" fill="rgb(252,252,255)"/>
<rect x="454.00" y="104.66" width="30.30" height="2.20" fill="rgb(241,241,255)"/>
<rect x="454.00" y="106.71" width="30.30" height="0.56" fill="rgb(195,195,255)"/>
<rect x="454.00" y="107.12" width="30.30" height="0.97" fill="rgb(255,251,251)"/>
<rect x="454.00" y="107.94" width="30.30" height="0.97" fill="rgb(255,244,244)"/>
<rect x="454.00" y="108.76" width="30.30" height="1.38" fill="rgb(222,222,255)"/>
<rect x="454.00" y="109.99" width="30.30" height="1.38" fill="rgb(213,213,255)"/>
<rect x="454.00" y="111.22" width="30.30" height="0.97" fill="rgb(218,218,255)"/>
<rect x="454.00" y="112.04" width="30.30" height="0.97" fill="rgb(225,225,255)"/>
<rect x="454.00" y="112.86" width="30.30" height="0.97" fill="rgb(248,248,255)"/>
<rect x="454.00" y="113.68" width="30.30" height="0.97" fill="rgb(208,208,255)"/>
<rect x="454.00" y="114.50" width="30.30" height="0.97" fill="rgb(225,225,255)"/>
<rect x="454.00" y="115.32" width="30.30" height="1.38" fill="rgb(255,255,255)"/>
<rect x="454.00" y="116.55" width="30.30" height="1.79" fill="rgb(217,217,255)"/>
<rect x="454.00" y="118.19" width="30.30" height="0.97" fill="rgb(255,248,248)"/>
<rect x="454.00" y="119.01" width="30.30" height="1.38" fill="rgb(235,235,255)"/>
<rect x="454.00" y="120.24" width="30.30" height="0.56" fill="rgb(216,216,255)"/>
<rect x="454.00" y="120.65" width="30.30" height="1.79" fill="rgb(215,215,255)"/>
<rect x="454.00" y="122.29" width="30.30" height="0.97" fill="rgb(255,74,74)"/>
<rect x="454.00" y="123.11" width="30.30" height="0.97" fill="rgb(255,84,84)"/>
<rect x="454.00" y="123.93" width="30.30" height="0.56" fill="rgb(255,116,116)"/>
<rect x="454.00" y="124.34" width="30.30" height="0.97" fill="rgb(255,104,104)"/>
<rect x="454.00" y="125.16" width="30.30" height="0.56" fill="rgb(255,85,85)"/>
<rect x="454.00" y="125.57" width="30.30" height="1.79" fill="rgb(255,102,102)"/>
<rect x="454.00" y="127.21" width="30.30" height="0.97" fill="rgb(255,89,89)"/>
<rect x="454.00" y="128.03" width="30.30" height="0.56" fill="rgb(255,57,57)"/>
<rect x="454.00" y="128.44" width="30.30" height="1.38" fill="rgb(255,61,61)"/>
<rect x="454.00" y="129.67" width="30.30" height="0.97" fill="rgb(255,69,69)"/>
<rect x="454.00" y="130.49" width="30.30" height="0.56" fill="rgb(255,54,54)"/>
<rect x="454.00" y="130.90" width="30.30" height="1.38" fill="rgb(255,94,94)"/>
<rect x="454.00" y="132.13" width="30.30" height="1.79" fill="rgb(255,69,69)"/>
<rect x="454.00" y="133.77" width="30.30" height="0.97" fill="rgb(255,161,161)"/>
<rect x="454.00" y="134.59" width="30.30" height="0.56" fill="rgb(255,177,177)"/>
<rect x="454.00" y="135.00" width="30.30" height="1.38" fill="rgb(255,173,173)"/>
<rect x="454.00" y="136.23" width="30.30" height="0.56" fill="rgb(255,164,164)"/>
<rect x="454.00" y="136.64" width="30.30" height="1.79" fill="rgb(255,164,164)"/>
<rect x="454.00" y="138.28" width="30.30" height="0.97" fill="rgb(255,193,193)"/>
<rect x="454.00" y="139.10" width="30.30" height="1.38" fill="rgb(255,174,174)"/>
<rect x="454.00" y="140.33" width="30.30" height="1.79" fill="rgb(255,169,169)"/>
<rect x="454.00" y="141.97" width="30.30" height="1.38" fill="rgb(255,124,124)"/>
<rect x="454.00" y="143.20" width="30.30" height="2.20" fill="rgb(255,93,93)"/>
<rect x="454.00" y="145.25" width="30.30" height="1.79" fill="rgb(255,141,141)"/>
<rect x="454.00" y="146.89" width="30.30" height="0.56" fill="rgb(255,140,140)"/>
<rect x="454.00" y="147.30" width="30.30" height="0.97" fill="rgb(255,131,131)"/>
<rect x="454.00" y="148.12" width="30.30" height="2.20" fill="rgb(255,177,177)"/>
<rect x="454.00" y="150.17" width="30.30" height="0.97" fill="rgb(255,142,142)"/>
<rect x="454.00" y="150.99" width="30.30" height="0.97" fill="rgb(255,164,164)"/>
<rect x="454.00" y="151.81" width="30.30" height="1.79" fill="rgb(255,160,160)"/>
<rect x="454.00" y="153.45" width="30.30" height="1.38" fill="rgb(255,135,135)"/>
<rect x="454.00" y="154.68" width="30.30" height="0.56" fill="rgb(255,0,0)"/>
<rect x="454.00" y="155.09" width="30.30" height="0.56" fill="rgb(255,0,0)"/>
<rect x="454.00" y="155.50" width="30.30" height="1.79" fill="rgb(255,0,0)"/>
<rect x="454.00" y="157.14" width="30.30" height="0.56" fill="rgb(255,0,0)"/>
<rect x="454.00" y="157.55" width="30.30" height="0.56" fill="rgb(255,0,0)"/>
<rect x="454.00" y="157.96" width="30.30" height="0.56" fill="rgb(255,0,0)"/>
<rect x="454.00" y="158.37" width="30.30" height="1.38" fill="rgb(255,0,0)"/>
<rect x="454.00" y="159.60" width="30.30" height="0.56" fill="rgb(255,0,0)"/>
<rect x="454.00" y="160.01" width="30.30" height="0.56" fill="rgb(255,0,0)"/>
<rect x="454.00" y="160.42" width="30.30" height="2.20" fill="rgb(255,0,0)"/>
<rect x="454.00" y="162.47" width="30.30" height="1.38" fill="rgb(255,0,0)"/>
<rect x="454.00" y="163.70" width="30.30" height="0.56" fill="rgb(255,0,0)"/>
<rect x="454.00" y="164.11" width="30.30" height="0.97" fill="rgb(255,1,1)"/>
<rect x="454.00" y="164.93" width="30.30" height="0.97" fill="rgb(255,0,0)"/>
<rect x="454.00" y="165.75" width="30.30" height="1.79" fill="rgb(208,208,255)"/>
<rect x="454.00" y="167.39" width="30.30" height="0.56" fill="rgb(195,195,255)"/>
<rect x="454.00" y="167.80" width="30.30" height="0.56" fill="rgb(185,185,255)"/>
<rect x="454.00" y="168.21" width="30.30" height="0.97" fill="rgb(201,201,255)"/>
<rect x="454.00" y="169.03" width="30.30" height="2.20" fill="rgb(166,166,255)"/>
<rect x="454.00" y="171.08" width="30.30" height="2.20" fill="rgb(196,196,255)"/>
<rect x="454.00" y="173.13" width="30.30" height="0.97" fill="rgb(211,211,255)"/>
<rect x="454.00" y="173.95" width="30.30" height="0.97" fill="rgb(198,198,255)"/>
<rect x="454.00" y="174.77" width="30.30" height="1.79" fill="rgb(174,174,255)"/>
<rect x="454.00" y="176.41" width="30.30" height="2.20" fill="rgb(208,208,255)"/>
<rect x="454.00" y="178.46" width="30.30" height="1.38" fill="rgb(190,190,255)"/>
<rect x="454.00" y="179.69" width="30.30" height="2.20" fill="rgb(190,190,255)"/>
<rect x="454.00" y="181.74" width="30.30" height="0.97" fill="rgb(148,148,255)"/>
<rect x="454.00" y="182.56" width="30.30" height="1.79" fill="rgb(185,185,255)"/>
<rect x="454.00" y="184.20" width="30.30" height="0.97" fill="rgb(198,198,255)"/>
<rect x="454.00" y="185.02" width="30.30" height="0.56" fill="rgb(172,172,255)"/>
<rect x="454.00" y="185.43" width="30.30" height="1.38" fill="rgb(186,186,255)"/>
<rect x="454.00" y="186.66" width="30.30" height="0.97" fill="rgb(200,200,255)"/>
<rect x="454.00" y="187.48" width="30.30" height="2.20" fill="rgb(172,172,255)"/>
<rect x="454.00" y="189.53" width="30.30" height="2.20" fill="rgb(208,208,255)"/>
<rect x="454.00" y="191.58" width="30.30" height="1.79" fill="rgb(192,192,255)"/>
<rect x="454.00" y="193.22" width="30.30" height="1.38" fill="rgb(205,205,255)"/>
<rect x="454.00" y="194.45" width="30.30" height="1.79" fill="rgb(255,247,247)"/>
<rect x="454.00" y="196.09" width="30.30" height="2.20" fill="rgb(186,186,255)"/>
<rect x="454.00" y="198.14" width="30.30" height="0.56" fill="rgb(177,177,255)"/>
<rect x="454.00" y="198.55" width="30.30" height="0.56" fill="rgb(172,172,255)"/>
<rect x="454.00" y="198.96" width="30.30" height="0.97" fill="rgb(215,215,255)"/>
<rect x="454.00" y="199.78" width="30.30" height="0.56" fill="rgb(182,182,255)"/>
<rect x="454.00" y="200.19" width="30.30" height="1.38" fill="rgb(172,172,255)"/>
<rect x="454.00" y="201.42" width="30.30" height="1.79" fill="rgb(171,171,255)"/>
<rect x="454.00" y="203.06" width="30.30" height="2.20" fill="rgb(142,142,255)"/>
<rect x="454.00" y="205.11" width="30.30" height="0.97" fill="rgb(178,178,255)"/>
<rect x="454.00" y="205.93" width="30.30" height="1.79" fill="rgb(195,195,255)"/>
<rect x="454.00" y="207.57" width="30.30" height="1.38" fill="rgb(191,191,255)"/>
<rect x="454.00" y="208.80" width="30.30" height="0.97" fill="rgb(209,209,255)"/>
<rect x="454.00" y="209.62" width="30.30" height="0.56" fill="rgb(179,179,255)"/>
<rect x="454.00" y="210.03" width="30.30" height="0.97" fill="rgb(206,206,255)"/>
<rect x="454.00" y="210.85" width="30.30" height="2.20" fill="rgb(200,200,255)"/>
<rect x="454.00" y="212.90" width="30.30" height="2.20" fill="rgb(214,214,255)"/>
<rect x="454.00" y="214.95" width="30.30" height="0.97" fill="rgb(156,156,255)"/>
<rect x="454.00" y="215.77" width="30.30" height="1.38" fill="rgb(182,182,255)"/>
<rect x="454.00" y="217.00" width="30.30" height="0.56" fill="rgb(206,206,255)"/>
<rect x="454.00" y="217.41" width="30.30" height="2.20" fill="rgb(220,220,255)"/>
<rect x="454.00" y="219.46" width="30.30" height="0.97" fill="rgb(196,196,255)"/>
<rect x="454.00" y="220.28" width="30.30" height="0.56" fill="rgb(179,179,255)"/>
<rect x="454.00" y="220.69" width="30.30" height="1.38" fill="rgb(200,200,255)"/>
<rect x="454.00" y="221.92" width="30.30" height="0.56" fill="rgb(205,205,255)"/>
<rect x="454.00" y="222.33" width="30.30" height="1.79" fill="rgb(202,202,255)"/>
<rect x="454.00" y="223.97" width="30.30" height="1.38" fill="rgb(174,174,255)"/>
<rect x="454.00" y="225.20" width="30.30" height="1.38" fill="rgb(183,183,255)"/>
<rect x="454.00" y="226.43" width="30.30" height="0.97" fill="rgb(214,214,255)"/>
<rect x="454.00" y="227.25" width="30.30" height="0.56" fill="rgb(190,190,255)"/>
<rect x="454.00" y="227.66" width="30.30" height="0.97" fill="rgb(200,200,255)"/>
<rect x="454.00" y="228.48" width="30.30" height="0.56" fill="rgb(219,219,255)"/>
<rect x="454.00" y="228.89" width="30.30" height="0.56" fill="rgb(196,196,255)"/>
<rect x="454.00" y="229.30" width="30.30" height="1.79" fill="rgb(199,199,255)"/>
<rect x="454.00" y="230.94" width="30.30" height="1.79" fill="rgb(173,173,255)"/>
<rect x="454.00" y="232.58" width="30.30" height="0.56" fill="rgb(150,150,255)"/>
<rect x="454.00" y="232.99" width="30.30" height="0.97" fill="rgb(194,194,255)"/>
<rect x="454.00" y="233.81" width="30.30" height="2.20" fill="rgb(174,174,255)"/>
<rect x="454.00" y="235.86" width="30.30" height="2.20" fill="rgb(196,196,255)"/>
<rect x="454.00" y="237.91" width="30.30" height="0.97" fill="rgb(181,181,255)"/>
<rect x="454.00" y="238.73" width="30.30" height="1.38" fill="rgb(172,172,255)"/>
<rect x="454.00" y="239.96" width="30.30" height="2.20" fill="rgb(160,160,255)"/>
<rect x="454.00" y="242.01" width="30.30" height="0.56" fill="rgb(136,136,255)"/>
<rect x="454.00" y="242.42" width="30.30" height="0.97" fill="rgb(168,168,255)"/>
<rect x="454.00" y="243.24" width="30.30" height="0.97" fill="rgb(110,110,255)"/>
<rect x="454.00" y="244.06" width="30.30" height="2.20" fill="rgb(223,223,255)"/>
<rect x="454.00" y="246.11" width="30.30" height="0.56" fill="rgb(204,204,255)"/>
<rect x="454.00" y="246.52" width="30.30" height="0.97" fill="rgb(230,230,255)"/>
<rect x="454.00" y="247.34" width="30.30" height="1.38" fill="rgb(197,197,255)"/>
<rect x="454.00" y="248.57" width="30.30" height="0.97" fill="rgb(195,195,255)"/>
<rect x="454.00" y="249.39" width="30.30" height="0.97" fill="rgb(171,171,255)"/>
<rect x="454.00" y="250.21" width="30.30" height="0.97" fill="rgb(216,216,255)"/>
<rect x="454.00" y="251.03" width="30.30" height="0.56" fill="rgb(197,197,255)"/>
<rect x="454.00" y="251.44" width="30.30" height="1.79" fill="rgb(196,196,255)"/>
<rect x="454.00" y="253.08" width="30.30" height="0.56" fill="rgb(212,212,255)"/>
<rect x="454.00" y="253.49" width="30.30" height="0.97" fill="rgb(190,190,255)"/>
<rect x="454.00" y="254.31" width="30.30" height="0.56" fill="rgb(255,248,248)"/>
<rect x="454.00" y="254.72" width="30.30" height="0.97" fill="rgb(252,252,255)"/>
<rect x="454.00" y="255.54" width="30.30" height="1.79" fill="rgb(255,246,246)"/>
<rect x="454.00" y="257.18" width="30.30" height="0.56" fill="rgb(255,253,253)"/>
<rect x="454.00" y="257.59" width="30.30" height="0.56" fill="rgb(243,243,255)"/>
<rect x="454.00" y="258.00" width="30.30" height="2.20" fill="rgb(231,231,255)"/>
<rect x="454.00" y="260.05" width="30.30" height="2.20" fill="rgb(230,230,255)"/>
<rect x="454.00" y="262.10" width="30.30" height="0.56" fill="rgb(218,218,255)"/>
<rect x="454.00" y="262.51" width="30.30" height="0.97" fill="rgb(235,235,255)"/>
<rect x="454.00" y="263.33" width="30.30" height="0.56" fill="rgb(201,201,255)"/>
<rect x="454.00" y="263.74" width="30.30" height="0.97" fill="rgb(209,209,255)"/>
<rect x="454.00" y="264.56" width="30.30" height="1.38" fill="rgb(202,202,255)"/>
<rect x="454.00" y="265.79" width="30.30" height="0.97" fill="rgb(222,222,255)"/>
<rect x="454.00" y="266.61" width="30.30" height="0.97" fill="rgb(238,238,255)"/>
<rect x="454.00" y="267.43" width="30.30" height="0.97" fill="rgb(252,252,255)"/>
<rect x="454.00" y="268.25" width="30.30" height="1.79" fill="rgb(189,189,255)"/>
<rect x="454.00" y="269.89" width="30.30" height="0.97" fill="rgb(213,213,255)"/>
<rect x="454.00" y="270.71" width="30.30" height="2.20" fill="rgb(220,220,255)"/>
<rect x="454.00" y="272.76" width="30.30" height="0.97" fill="rgb(255,247,247)"/>
<rect x="454.00" y="273.58" width="30.30" height="1.79" fill="rgb(177,177,255)"/>
<rect x="454.00" y="275.22" width="30.30" height="0.97" fill="rgb(209,209,255)"/>
<rect x="454.00" y="276.04" width="30.30" height="2.20" fill="rgb(205,205,255)"/>
<rect x="454.00" y="278.09" width="30.30" height="0.56" fill="rgb(210,210,255)"/>
<rect x="454.00" y="278.50" width="30.30" height="2.20" fill="rgb(220,220,255)"/>
<rect x="454.00" y="280.55" width="30.30" height="2.20" fill="rgb(154,154,255)"/>
<rect x="454.00" y="282.60" width="30.30" height="1.38" fill="rgb(209,209,255)"/>
<rect x="454.00" y="283.83" width="30.30" height="0.56" fill="rgb(171,171,255)"/>
<rect x="454.00" y="284.24" width="30.30" height="1.79" fill="rgb(240,240,255)"/>
<rect x="454.00" y="285.88" width="30.30" height="2.20" fill="rgb(186,186,255)"/>
<rect x="454.00" y="287.93" width="30.30" height="0.97" fill="rgb(221,221,255)"/>
<rect x="454.00" y="288.75" width="30.30" height="0.56" fill="rgb(192,192,255)"/>
<rect x="454.00" y="289.16" width="30.30" height="1.79" fill="rgb(170,170,255)"/>
<rect x="454.00" y="290.80" width="30.30" height="0.97" fill="rgb(229,229,255)"/>
<rect x="454.00" y="291.62" width="30.30" height="0.56" fill="rgb(212,212,255)"/>
<rect x="454.00" y="292.03" width="30.30" height="2.20" fill="rgb(200,200,255)"/>
<rect x="454.00" y="294.08" width="30.30" height="2.20" fill="rgb(183,183,255)"/>
<rect x="454.00" y="296.13" width="30.30" height="1.38" fill="rgb(208,208,255)"/>
<rect x="454.00" y="297.36" width="30.30" height="0.97" fill="rgb(204,204,255)"/>
<rect x="454.00" y="298.18" width="30.30" height="1.38" fill="rgb(210,210,255)"/>
<rect x="454.00" y="299.41" width="30.30" height="2.20" fill="rgb(216,216,255)"/>
<rect x="454.00" y="301.46" width="30.30" height="2.20" fill="rgb(222,222,255)"/>
<rect x="454.00" y="303.51" width="30.30" height="0.56" fill="rgb(252,252,255)"/>
<rect x="454.00" y="303.92" width="30.30" height="0.97" fill="rgb(241,241,255)"/>
<rect x="454.00" y="304.74" width="30.30" height="1.38" fill="rgb(247,247,255)"/>
<rect x="454.00" y="305.97" width="30.30" height="0.97" fill="rgb(240,240,255)"/>
<rect x="454.00" y="306.79" width="30.30" height="1.79" fill="rgb(202,202,255)"/>
<rect x="454.00" y="308.43" width="30.30" height="1.38" fill="rgb(255,252,252)"/>
<rect x="454.00" y="309.66" width="30.30" height="1.38" fill="rgb(255,251,251)"/>
<rect x="454.00" y="310.89" width="30.30" height="2.20" fill="rgb(236,236,255)"/>
<rect x="454.00" y="312.94" width="30.30" height="0.56" fill="rgb(212,212,255)"/>
<rect x="454.00" y="313.35" width="30.30" height="0.56" fill="rgb(255,240,240)"/>
<rect x="454.00" y="313.76" width="30.30" height="2.20" fill="rgb(255,255,255)"/>
<rect x="454.00" y="315.81" width="30.30" height="1.38" fill="rgb(237,237,255)"/>
<rect x="454.00" y="317.04" width="30.30" height="0.97" fill="rgb(238,238,255)"/>
<rect x="454.00" y="317.86" width="30.30" height="2.20" fill="rgb(247,247,255)"/>
<rect x="454.00" y="319.91" width="30.30" height="0.97" fill="rgb(241,241,255)"/>
<rect x="454.00" y="320.73" width="30.30" height="1.38" fill="rgb(255,244,244)"/>
<rect x="454.00" y="321.96" width="30.30" height="0.97" fill="rgb(255,233,233)"/>
<rect x="454.00" y="322.78" width="30.30" height="0.56" fill="rgb(248,248,255)"/>
<rect x="454.00" y="323.19" width="30.30" height="0.97" fill="rgb(255,252,252)"/>
<rect x="454.00" y="324.01" width="30.30" height="1.79" fill="rgb(253,253,255)"/>
<rect x="454.00" y="325.65" width="30.30" height="0.97" fill="rgb(234,234,255)"/>
<rect x="454.00" y="326.47" width="30.30" height="2.20" fill="rgb(195,195,255)"/>
<rect x="454.00" y="328.52" width="30.30" height="2.20" fill="rgb(238,238,255)"/>
<rect x="454.00" y="330.57" width="30.30" height="2.20" fill="rgb(238,238,255)"/>
<rect x="454.00" y="332.62" width="30.30" height="0.97" fill="rgb(218,218,255)"/>
<rect x="454.00" y="333.44" width="30.30" height="0.97" fill="rgb(202,202,255)"/>
<rect x="454.00" y="334.26" width="30.30" height="1.38" fill="rgb(248,248,255)"/>
<rect x="454.00" y="335.49" width="30.30" height="0.16" fill="rgb(245,245,255)"/>
<rect x="484.00" y="40.70" width="30.30" height="2.20" fill="rgb(255,213,213)"/>
<rect x="484.00" y="42.75" width="30.30" height="1.38" fill="rgb(255,229,229)"/>
<rect x="484.00" y="43.98" width="30.30" height="0.56" fill="rgb(255,221,221)"/>
<rect x="484.00" y="44.39" width="30.30" height="1.38" fill="rgb(255,199,199)"/>
<rect x="484.00" y="45.62" width="30.30" height="1.79" fill="rgb(255,222,222)"/>
<rect x="484.00" y="47.26" width="30.30" height="0.97" fill="rgb(255,200,200)"/>
<rect x="484.00" y="48.08" width="30.30" height="1.38" fill="rgb(255,224,224)"/>
<rect x="484.00" y="49.31" width="30.30" height="0.56" fill="rgb(255,230,230)"/>
<rect x="484.00" y="49.72" width="30.30" height="0.97" fill="rgb(255,219,219)"/>
<rect x="484.00" y="50.54" width="30.30" height="0.97" fill="rgb(255,234,234)"/>
<rect x="484.00" y="51.36" width="30.30" height="1.38" fill="rgb(255,244,244)"/>
<rect x="484.00" y="52.59" width="30.30" height="0.97" fill="rgb(255,250,250)"/>
<rect x="484.00" y="53.41" width="30.30" height="2.20" fill="rgb(248,248,255)"/>
<rect x="484.00" y="55.46" width="30.30" height="1.38" fill="rgb(223,223,255)"/>
<rect x="484.00" y="56.69" width="30.30" height="0.56" fill="rgb(235,235,255)"/>
<rect x="484.00" y="57.10" width="30.30" height="0.56" fill="rgb(237,237,255)"/>
<rect x="484.00" y="57.51" width="30.30" height="0.56" fill="rgb(219,219,255)"/>
<rect x="484.00" y="57.92" width="30.30" height="0.97" fill="rgb(222,222,255)"/>
<rect x="484.00" y="58.74" width="30.30" height="1.38" fill="rgb(214,214,255)"/>
<rect x="484.00" y="59.97" width="30.30" height="0.56" fill="rgb(157,157,255)"/>
<rect x="484.00" y="60.38" width="30.30" height="0.56" fill="rgb(186,186,255)"/>
<rect x="484.00" y="60.79" width="30.30" height="2.20" fill="rgb(164,164,255)"/>
<rect x="484.00" y="62.84" width="30.30" height="0.56" fill="rgb(146,146,255)"/>
<rect x="484.00" y="63.25" width="30.30" height="1.38" fill="rgb(196,196,255)"/>
<rect x="484.00" y="64.48" width="30.30" height="0.56" fill="rgb(184,184,255)"/>
<rect x="484.00" y="64.89" width="30.30" height="2.20" fill="rgb(178,178,255)"/>
<rect x="484.00" y="66.94" width="30.30" height="1.79" fill="rgb(191,191,255)"/>
<rect x="484.00" y="68.58" width="30.30" height="0.97" fill="rgb(215,215,255)"/>
<rect x="484.00" y="69.40" width="30.30" height="1.38" fill="rgb(223,223,255)"/>
<rect x="484.00" y="70.63" width="30.30" height="1.79" fill="rgb(206,206,255)"/>
<rect x="484.00" y="72.27" width="30.30" height="0.97" fill="rgb(238,238,255)"/>
<rect x="484.00" y="73.09" width="30.30" height="1.79" fill="rgb(200,200,255)"/>
<rect x="484.00" y="74.73" width="30.30" height="1.38" fill="rgb(177,177,255)"/>
<rect x="484.00" y="75.96" width="30.30" height="0.56" fill="rgb(188,188,255)"/>
<rect x="484.00" y="76.37" width="30.30" height="0.97" fill="rgb(184,184,255)"/>
<rect x="484.00" y="77.19" width="30.30" height="1.38" fill="rgb(211,211,255)"/>
<rect x="484.00" y="78.42" width="30.30" height="0.97" fill="rgb(196,196,255)"/>
<rect x="484.00" y="79.24" width="30.30" height="0.97" fill="rgb(208,208,255)"/>
<rect x="484.00" y="80.06" width="30.30" height="2.20" fill="rgb(215,215,255)"/>
<rect x="484.00" y="82.11" width="30.30" height="0.97" fill="rgb(209,209,255)"/>
<rect x="484.00" y="82.93" width="30.30" height="2.20" fill="rgb(176,176,255)"/>
<rect x="484.00" y="84.98" width="30.30" height="0.56" fill="rgb(187,187,255)"/>
<rect x="484.00" y="85.39" width="30.30" height="0.97" fill="rgb(174,174,255)"/>
<rect x="484.00" y="86.21" width="30.30" height="1.38" fill="rgb(234,234,255)"/>
<rect x="484.00" y="87.44" width="30.30" height="1.79" fill="rgb(255,247,247)"/>
<rect x="484.00" y="89.08" width="30.30" height="1.79" fill="rgb(246,246,255)"/>
<rect x="484.00" y="90.72" width="30.30" height="1.79" fill="rgb(210,210,255)"/>
<rect x="484.00" y="92.36" width="30.30" height="0.56" fill="rgb(193,193,255)"/>
<rect x="484.00" y="92.77" width="30.30" height="1.79" fill="rgb(186,186,255)"/>
<rect x="484.00" y="94.41" width="30.30" height="0.56" fill="rgb(176,176,255)"/>
<rect x="484.00" y="94.82" width="30.30" height="0.56" fill="rgb(248,248,255)"/>
<rect x="484.00" y="95.23" width="30.30" height="0.97" fill="rgb(255,239,239)"/>
<rect x="484.00" y="96.05" width="30.30" height="0.97" fill="rgb(255,210,210)"/>
<rect x="484.00" y="96.87" width="30.30" height="0.97" fill="rgb(255,221,221)"/>
<rect x="484.00" y="97.69" width="30.30" height="0.97" fill="rgb(255,227,227)"/>
<rect x="484.00" y="98.51" width="30.30" height="1.79" fill="rgb(254,254,255)"/>
<rect x="484.00" y="100.15" width="30.30" height="0.56" fill="rgb(255,240,240)"/>
<rect x="484.00" y="100.56" width="30.30" height="1.38" fill="rgb(255,217,217)"/>
<rect x="484.00" y="101.79" width="30.30" height="1.38" fill="rgb(255,203,203)"/>
<rect x="484.00" y="103.02" width="30.30" height="0.56" fill="rgb(255,226,226)"/>
<rect x="484.00" y="103.43" width="30.30" height="1.79" fill="rgb(255,207,207)"/>
<rect x="484.00" y="105.07" width="30.30" height="1.38" fill="rgb(255,244,244)"/>
<rect x="484.00" y="106.30" width="30.30" height="0.56" fill="rgb(230,230,255)"/>
<rect x="484.00" y="106.71" width="30.30" height="0.97" fill="rgb(229,229,255)"/>
<rect x="484.00" y="107.53" width="30.30" height="1.79" fill="rgb(215,215,255)"/>
<rect x="484.00" y="109.17" width="30.30" height="1.38" fill="rgb(195,195,255)"/>
<rect x="484.00" y="110.40" width="30.30" height="0.97" fill="rgb(210,210,255)"/>
<rect x="484.00" y="111.22" width="30.30" height="1.38" fill="rgb(193,193,255)"/>
<rect x="484.00" y="112.45" width="30.30" height="2.20" fill="rgb(208,208,255)"/>
<rect x="484.00" y="114.50" width="30.30" height="0.56" fill="rgb(206,206,255)"/>
<rect x="484.00" y="114.91" width="30.30" height="2.20" fill="rgb(249,249,255)"/>
<rect x="484.00" y="116.96" width="30.30" height="1.79" fill="rgb(200,200,255)"/>
<rect x="484.00" y="118.60" width="30.30" height="0.56" fill="rgb(194,194,255)"/>
<rect x="484.00" y="119.01" width="30.30" height="1.79" fill="rgb(231,231,255)"/>
<rect x="484.00" y="120.65" width="30.30" height="0.97" fill="rgb(184,184,255)"/>
<rect x="484.00" y="121.47" width="30.30" height="2.20" fill="rgb(255,248,248)"/>
<rect x="484.00" y="123.52" width="30.30" height="0.56" fill="rgb(255,219,219)"/>
<rect x="484.00" y="123.93" width="30.30" height="0.56" fill="rgb(255,213,213)"/>
<rect x="484.00" y="124.34" width="30.30" height="0.56" fill="rgb(255,239,239)"/>
<rect x="484.00" y="124.75" width="30.30" height="0.97" fill="rgb(255,231,231)"/>
<rect x="484.00" y="125.57" width="30.30" height="0.56" fill="rgb(255,235,235)"/>
<rect x="484.00" y="125.98" width="30.30" height="0.56" fill="rgb(255,221,221)"/>
<rect x="484.00" y="126.39" width="30.30" height="1.38" fill="rgb(255,224,224)"/>
<rect x="484.00" y="127.62" width="30.30" height="2.20" fill="rgb(255,232,232)"/>
<rect x="484.00" y="129.67" width="30.30" height="0.56" fill="rgb(255,235,235)"/>
<rect x="484.00" y="130.08" width="30.30" height="0.97" fill="rgb(247,247,255)"/>
<rect x="484.00" y="130.90" width="30.30" height="0.97" fill="rgb(255,247,247)"/>
<rect x="484.00" y="131.72" width="30.30" height="0.97" fill="rgb(255,242,242)"/>
<rect x="484.00" y="132.54" width="30.30" height="1.38" fill="rgb(255,208,208)"/>
<rect x="484.00" y="133.77" width="30.30" height="0.97" fill="rgb(255,242,242)"/>
<rect x="484.00" y="134.59" width="30.30" height="2.20" fill="rgb(255,237,237)"/>
<rect x="484.00" y="136.64" width="30.30" height="0.97" fill="rgb(255,190,190)"/>
<rect x="484.00" y="137.46" width="30.30" height="2.20" fill="rgb(255,205,205)"/>
<rect x="484.00" y="139.51" width="30.30" height="2.20" fill="rgb(188,188,255)"/>
<rect x="484.00" y="141.56" width="30.30" height="0.97" fill="rgb(211,211,255)"/>
<rect x="484.00" y="142.38" width="30.30" height="1.38" fill="rgb(210,210,255)"/>
<rect x="484.00" y="143.61" width="30.30" height="0.97" fill="rgb(184,184,255)"/>
<rect x="484.00" y="144.43" width="30.30" height="0.56" fill="rgb(201,201,255)"/>
<rect x="484.00" y="144.84" width="30.30" height="0.97" fill="rgb(217,217,255)"/>
<rect x="484.00" y="145.66" width="30.30" height="1.38" fill="rgb(195,195,255)"/>
<rect x="484.00" y="146.89" width="30.30" height="0.97" fill="rgb(201,201,255)"/>
<rect x="484.00" y="147.71" width="30.30" height="2.20" fill="rgb(178,178,255)"/>
<rect x="484.00" y="149.76" width="30.30" height="2.20" fill="rgb(195,195,255)"/>
<rect x="484.00" y="151.81" width="30.30" height="0.56" fill="rgb(228,228,255)"/>
<rect x="484.00" y="152.22" width="30.30" height="0.56" fill="rgb(219,219,255)"/>
<rect x="484.00" y="152.63" width="30.30" height="1.38" fill="rgb(219,219,255)"/>
<rect x="484.00" y="153.86" width="30.30" height="2.20" fill="rgb(199,199,255)"/>
<rect x="484.00" y="155.91" width="30.30" height="1.79" fill="rgb(208,208,255)"/>
<rect x="484.00" y="157.55" width="30.30" height="0.56" fill="rgb(190,190,255)"/>
<rect x="484.00" y="157.96" width="30.30" height="0.97" fill="rgb(202,202,255)"/>
<rect x="484.00" y="158.78" width="30.30" height="1.79" fill="rgb(193,193,255)"/>
<rect x="484.00" y="160.42" width="30.30" height="0.56" fill="rgb(213,213,255)"/>
<rect x="484.00" y="160.83" width="30.30" height="1.79" fill="rgb(232,232,255)"/>
<rect x="484.00" y="162.47" width="30.30" height="2.20" fill="rgb(198,198,255)"/>
<rect x="484.00" y="164.52" width="30.30" height="1.38" fill="rgb(174,174,255)"/>
<rect x="484.00" y="165.75" width="30.30" height="0.56" fill="rgb(220,220,255)"/>
<rect x="484.00" y="166.16" width="30.30" height="1.79" fill="rgb(255,154,154)"/>
<rect x="484.00" y="167.80" width="30.30" height="0.56" fill="rgb(255,178,178)"/>
<rect x="484.00" y="168.21" width="30.30" height="0.56" fill="rgb(255,163,163)"/>
<rect x="484.00" y="168.62" width="30.30" height="1.38" fill="rgb(255,154,154)"/>
<rect x="484.00" y="169.85" width="30.30" height="1.38" fill="rgb(255,152,152)"/>
<rect x="484.00" y="171.08" width="30.30" height="0.56" fill="rgb(255,153,153)"/>
<rect x="484.00" y="171.49" width="30.30" height="1.79" fill="rgb(255,158,158)"/>
<rect x="484.00" y="173.13" width="30.30" height="0.56" fill="rgb(255,137,137)"/>
<rect x="484.00" y="173.54" width="30.30" height="0.97" fill="rgb(255,125,125)"/>
<rect x="484.00" y="174.36" width="30.30" height="0.97" fill="rgb(182,182,255)"/>
<rect x="484.00" y="175.18" width="30.30" height="0.56" fill="rgb(188,188,255)"/>
<rect x="484.00" y="175.59" width="30.30" height="0.56" fill="rgb(224,224,255)"/>
<rect x="484.00" y="176.00" width="30.30" height="0.97" fill="rgb(244,244,255)"/>
<rect x="484.00" y="176.82" width="30.30" height="0.97" fill="rgb(212,212,255)"/>
<rect x="484.00" y="177.64" width="30.30" height="0.97" fill="rgb(159,159,255)"/>
<rect x="484.00" y="178.46" width="30.30" height="2.20" fill="rgb(204,204,255)"/>
<rect x="484.00" y="180.51" width="30.30" height="0.97" fill="rgb(213,213,255)"/>
<rect x="484.00" y="181.33" width="30.30" height="2.20" fill="rgb(195,195,255)"/>
<rect x="484.00" y="183.38" width="30.30" height="1.79" fill="rgb(214,214,255)"/>
<rect x="484.00" y="185.02" width="30.30" height="2.20" fill="rgb(196,196,255)"/>
<rect x="484.00" y="187.07" width="30.30" height="2.20" fill="rgb(191,191,255)"/>
<rect x="484.00" y="189.12" width="30.30" height="0.56" fill="rgb(221,221,255)"/>
<rect x="484.00" y="189.53" width="30.30" height="1.79" fill="rgb(255,237,237)"/>
<rect x="484.00" y="191.17" width="30.30" height="0.56" fill="rgb(184,184,255)"/>
<rect x="484.00" y="191.58" width="30.30" height="1.38" fill="rgb(219,219,255)"/>
<rect x="484.00" y="192.81" width="30.30" height="0.56" fill="rgb(218,218,255)"/>
<rect x="484.00" y="193.22" width="30.30" height="1.79" fill="rgb(251,251,255)"/>
<rect x="484.00" y="194.86" width="30.30" height="0.97" fill="rgb(246,246,255)"/>
<rect x="484.00" y="195.68" width="30.30" height="0.97" fill="rgb(248,248,255)"/>
<rect x="484.00" y="196.50" width="30.30" height="0.56" fill="rgb(205,205,255)"/>
<rect x="484.00" y="196.91" width="30.30" height="0.97" fill="rgb(212,212,255)"/>
<rect x="484.00" y="197.73" width="30.30" height="0.97" fill="rgb(184,184,255)"/>
<rect x="484.00" y="198.55" width="30.30" height="0.97" fill="rgb(239,239,255)"/>
<rect x="484.00" y="199.37" width="30.30" height="0.97" fill="rgb(233,233,255)"/>
<rect x="484.00" y="200.19" width="30.30" height="0.56" fill="rgb(224,224,255)"/>
<rect x="484.00" y="200.60" width="30.30" height="0.56" fill="rgb(215,215,255)"/>
<rect x="484.00" y="201.01" width="30.30" height="1.79" fill="rgb(230,230,255)"/>
<rect x="484.00" y="202.65" width="30.30" height="2.20" fill="rgb(255,255,255)"/>
<rect x="484.00" y="204.70" width="30.30" height="0.97" fill="rgb(207,207,255)"/>
<rect x="484.00" y="205.52" width="30.30" height="0.56" fill="rgb(247,247,255)"/>
<rect x="484.00" y="205.93" width="30.30" height="1.38" fill="rgb(145,145,255)"/>
<rect x="484.00" y="207.16" width="30.30" height="0.56" fill="rgb(192,192,255)"/>
<rect x="484.00" y="207.57" width="30.30" height="1.79" fill="rgb(199,199,255)"/>
<rect x="484.00" y="209.21" width="30.30" height="1.79" fill="rgb(208,208,255)"/>
<rect x="484.00" y="210.85" width="30.30" height="0.56" fill="rgb(190,190,255)"/>
<rect x="484.00" y="211.26" width="30.30" height="1.38" fill="rgb(199,199,255)"/>
<rect x="484.00" y="212.49" width="30.30" height="0.56" fill="rgb(192,192,255)"/>
<rect x="484.00" y="212.90" width="30.30" height="1.38" fill="rgb(197,197,255)"/>
<rect x="484.00" y="214.13" width="30.30" height="1.38" fill="rgb(194,194,255)"/>
<rect x="484.00" y="215.36" width="30.30" height="2.20" fill="rgb(212,212,255)"/>
<rect x="484.00" y="217.41" width="30.30" height="1.38" fill="rgb(211,211,255)"/>
<rect x="484.00" y="218.64" width="30.30" height="2.20" fill="rgb(206,206,255)"/>
<rect x="484.00" y="220.69" width="30.30" height="0.56" fill="rgb(198,198,255)"/>
<rect x="484.00" y="221.10" width="30.30" height="1.38" fill="rgb(213,213,255)"/>
<rect x="484.00" y="222.33" width="30.30" height="0.56" fill="rgb(214,214,255)"/>
<rect x="484.00" y="222.74" width="30.30" height="0.56" fill="rgb(235,235,255)"/>
<rect x="484.00" y="223.15" width="30.30" height="1.38" fill="rgb(167,167,255)"/>
<rect x="484.00" y="224.38" width="30.30" height="0.97" fill="rgb(205,205,255)"/>
<rect x="484.00" y="225.20" width="30.30" height="0.56" fill="rgb(218,218,255)"/>
<rect x="484.00" y="225.61" width="30.30" height="0.56" fill="rgb(188,188,255)"/>
<rect x="484.00" y="226.02" width="30.30" height="0.56" fill="rgb(172,172,255)"/>
<rect x="484.00" y="226.43" width="30.30" height="0.97" fill="rgb(188,188,255)"/>
<rect x="484.00" y="227.25" width="30.30" height="0.97" fill="rgb(179,179,255)"/>
<rect x="484.00" y="228.07" width="30.30" height="1.38" fill="rgb(170,170,255)"/>
<rect x="484.00" y="229.30" width="30.30" height="0.97" fill="rgb(161,161,255)"/>
<rect x="484.00" y="230.12" width="30.30" height="1.79" fill="rgb(196,196,255)"/>
<rect x="484.00" y="231.76" width="30.30" height="1.38" fill="rgb(197,197,255)"/>
<rect x="484.00" y="232.99" width="30.30" height="1.38" fill="rgb(174,174,255)"/>
<rect x="484.00" y="234.22" width="30.30" height="2.20" fill="rgb(199,199,255)"/>
<rect x="484.00" y="236.27" width="30.30" height="0.97" fill="rgb(188,188,255)"/>
<rect x="484.00" y="237.09" width="30.30" height="0.56" fill="rgb(186,186,255)"/>
<rect x="484.00" y="237.50" width="30.30" height="0.97" fill="rgb(177,177,255)"/>
<rect x="484.00" y="238.32" width="30.30" height="2.20" fill="rgb(191,191,255)"/>
<rect x="484.00" y="240.37" width="30.30" height="0.97" fill="rgb(168,168,255)"/>
<rect x="484.00" y="241.19" width="30.30" height="0.97" fill="rgb(162,162,255)"/>
<rect x="484.00" y="242.01" width="30.30" height="1.38" fill="rgb(187,187,255)"/>
<rect x="484.00" y="243.24" width="30.30" height="0.97" fill="rgb(197,197,255)"/>
<rect x="484.00" y="244.06" width="30.30" height="1.79" fill="rgb(210,210,255)"/>
<rect x="484.00" y="245.70" width="30.30" height="0.56" fill="rgb(163,163,255)"/>
<rect x="484.00" y="246.11" width="30.30" height="0.56" fill="rgb(181,181,255)"/>
<rect x="484.00" y="246.52" width="30.30" height="0.97" fill="rgb(200,200,255)"/>
<rect x="484.00" y="247.34" width="30.30" height="0.97" fill="rgb(252,252,255)"/>
<rect x="484.00" y="248.16" width="30.30" height="2.20" fill="rgb(172,172,255)"/>
<rect x="484.00" y="250.21" width="30.30" height="0.97" fill="rgb(199,199,255)"/>
<rect x="484.00" y="251.03" width="30.30" height="2.20" fill="rgb(193,193,255)"/>
<rect x="484.00" y="253.08" width="30.30" height="0.56" fill="rgb(184,184,255)"/>
<rect x="484.00" y="253.49" width="30.30" height="1.38" fill="rgb(175,175,255)"/>
<rect x="484.00" y="254.72" width="30.30" height="1.79" fill="rgb(172,172,255)"/>
<rect x="484.00" y="256.36" width="30.30" height="0.56" fill="rgb(187,187,255)"/>
<rect x="484.00" y="256.77" width="30.30" height="0.97" fill="rgb(187,187,255)"/>
<rect x="484.00" y="257.59" width="30.30" height="0.56" fill="rgb(179,179,255)"/>
<rect x="484.00" y="258.00" width="30.30" height="1.79" fill="rgb(158,158,255)"/>
<rect x="484.00" y="259.64" width="30.30" height="1.38" fill="rgb(197,197,255)"/>
<rect x="484.00" y="260.87" width="30.30" height="0.97" fill="rgb(159,159,255)"/>
<rect x="484.00" y="261.69" width="30.30" height="0.56" fill="rgb(178,178,255)"/>
<rect x="484.00" y="262.10" width="30.30" height="0.97" fill="rgb(173,173,255)"/>
<rect x="484.00" y="262.92" width="30.30" height="0.97" fill="rgb(192,192,255)"/>
<rect x="484.00" y="263.74" width="30.30" height="1.79" fill="rgb(214,214,255)"/>
<rect x="484.00" y="265.38" width="30.30" height="2.20" fill="rgb(174,174,255)"/>
<rect x="484.00" y="267.43" width="30.30" height="0.97" fill="rgb(179,179,255)"/>
<rect x="484.00" y="268.25" width="30.30" height="0.97" fill="rgb(162,162,255)"/>
<rect x="484.00" y="269.07" width="30.30" height="1.79" fill="rgb(197,197,255)"/>
<rect x="484.00" y="270.71" width="30.30" height="0.56" fill="rgb(213,213,255)"/>
<rect x="484.00" y="271.12" width="30.30" height="1.38" fill="rgb(214,214,255)"/>
<rect x="484.00" y="272.35" width="30.30" height="0.56" fill="rgb(204,204,255)"/>
<rect x="484.00" y="272.76" width="30.30" height="1.79" fill="rgb(208,208,255)"/>
<rect x="484.00" y="274.40" width="30.30" height="0.56" fill="rgb(211,211,255)"/>
<rect x="484.00" y="274.81" width="30.30" height="1.38" fill="rgb(192,192,255)"/>
<rect x="484.00" y="276.04" width="30.30" height="0.56" fill="rgb(212,212,255)"/>
<rect x="484.00" y="276.45" width="30.30" height="0.97" fill="rgb(204,204,255)"/>
<rect x="484.00" y="277.27" width="30.30" height="0.97" fill="rgb(238,238,255)"/>
<rect x="484.00" y="278.09" width="30.30" height="1.79" fill="rgb(171,171,255)"/>
<rect x="484.00" y="279.73" width="30.30" height="1.79" fill="rgb(194,194,255)"/>
<rect x="484.00" y="281.37" width="30.30" height="0.56" fill="rgb(160,160,255)"/>
<rect x="484.00" y="281.78" width="30.30" height="0.97" fill="rgb(191,191,255)"/>
<rect x="484.00" y="282.60" width="30.30" height="0.56" fill="rgb(215,215,255)"/>
<rect x="484.00" y="283.01" width="30.30" height="0.97" fill="rgb(148,148,255)"/>
<rect x="484.00" y="283.83" width="30.30" height="0.97" fill="rgb(202,202,255)"/>
<rect x="484.00" y="284.65" width="30.30" height="0.97" fill="rgb(163,163,255)"/>
<rect x="484.00" y="285.47" width="30.30" height="1.38" fill="rgb(237,237,255)"/>
<rect x="484.00" y="286.70" width="30.30" height="0.56" fill="rgb(210,210,255)"/>
<rect x="484.00" y="287.11" width="30.30" height="1.79" fill="rgb(196,196,255)"/>
<rect x="484.00" y="288.75" width="30.30" height="0.56" fill="rgb(189,189,255)"/>
<rect x="484.00" y="289.16" width="30.30" height="2.20" fill="rgb(154,154,255)"/>
<rect x="484.00" y="291.21" width="30.30" height="1.38" fill="rgb(189,189,255)"/>
<rect x="484.00" y="292.44" width="30.30" height="2.20" fill="rgb(173,173,255)"/>
<rect x="484.00" y="294.49" width="30.30" height="0.97" fill="rgb(191,191,255)"/>
<rect x="484.00" y="295.31" width="30.30" height="0.97" fill="rgb(173,173,255)"/>
<rect x="484.00" y="296.13" width="30.30" height="2.20" fill="rgb(197,197,255)"/>
<rect x="484.00" y="298.18" width="30.30" height="0.56" fill="rgb(185,185,255)"/>
<rect x="484.00" y="298.59" width="30.30" height="0.56" fill="rgb(188,188,255)"/>
<rect x="484.00" y="299.00" width="30.30" height="0.97" fill="rgb(145,145,255)"/>
<rect x="484.00" y="299.82" width="30.30" height="0.56" fill="rgb(158,158,255)"/>
<rect x="484.00" y="300.23" width="30.30" height="2.20" fill="rgb(194,194,255)"/>
<rect x="484.00" y="302.28" width="30.30" height="0.97" fill="rgb(157,157,255)"/>
<rect x="484.00" y="303.10" width="30.30" height="1.79" fill="rgb(182,182,255)"/>
<rect x="484.00" y="304.74" width="30.30" height="1.79" fill="rgb(188,188,255)"/>
<rect x="484.00" y="306.38" width="30.30" height="1.38" fill="rgb(199,199,255)"/>
<rect x="484.00" y="307.61" width="30.30" height="0.97" fill="rgb(173,173,255)"/>
<rect x="484.00" y="308.43" width="30.30" height="0.97" fill="rgb(181,181,255)"/>
<rect x="484.00" y="309.25" width="30.30" height="0.97" fill="rgb(204,204,255)"/>
<rect x="484.00" y="310.07" width="30.30" height="1.38" fill="rgb(170,170,255)"/>
<rect x="484.00" y="311.30" width="30.30" height="0.56" fill="rgb(177,177,255)"/>
<rect x="484.00" y="311.71" width="30.30" height="1.38" fill="rgb(156,156,255)"/>
<rect x="484.00" y="312.94" width="30.30" height="1.79" fill="rgb(175,175,255)"/>
<rect x="484.00" y="314.58" width="30.30" height="0.97" fill="rgb(164,164,255)"/>
<rect x="484.00" y="315.40" width="30.30" height="0.56" fill="rgb(204,204,255)"/>
<rect x="484.00" y="315.81" width="30.30" height="0.97" fill="rgb(215,215,255)"/>
<rect x="484.00" y="316.63" width="30.30" height="0.56" fill="rgb(182,182,255)"/>
<rect x="484.00" y="317.04" width="30.30" height="0.56" fill="rgb(148,148,255)"/>
<rect x="484.00" y="317.45" width="30.30" height="0.56" fill="rgb(215,215,255)"/>
<rect x="484.00" y="317.86" width="30.30" height="0.97" fill="rgb(178,178,255)"/>
<rect x="484.00" y="318.68" width="30.30" height="0.56" fill="rgb(190,190,255)"/>
<rect x="484.00" y="319.09" width="30.30" height="0.97" fill="rgb(164,164,255)"/>
<rect x="484.00" y="319.91" width="30.30" height="2.20" fill="rgb(199,199,255)"/>
<rect x="484.00" y="321.96" width="30.30" height="0.97" fill="rgb(159,159,255)"/>
<rect x="484.00" y="322.78" width="30.30" height="0.97" fill="rgb(161,161,255)"/>
<rect x="484.00" y="323.60" width="30.30" height="0.56" fill="rgb(165,165,255)"/>
<rect x="484.00" y="324.01" width="30.30" height="0.56" fill="rgb(169,169,255)"/>
<rect x="484.00" y="324.42" width="30.30" height="0.56" fill="rgb(178,178,255)"/>
<rect x="484.00" y="324.83" width="30.30" height="0.97" fill="rgb(160,160,255)"/>
<rect x="484.00" y="325.65" width="30.30" height="1.79" fill="rgb(190,190,255)"/>
<rect x="484.00" y="327.29" width="30.30" height="0.56" fill="rgb(155,155,255)"/>
<rect x="484.00" y="327.70" width="30.30" height="0.97" fill="rgb(176,176,255)"/>
<rect x="484.00" y="328.52" width="30.30" height="1.79" fill="rgb(161,161,255)"/>
<rect x="484.00" y="330.16" width="30.30" height="0.56" fill="rgb(184,184,255)"/>
<rect x="484.00" y="330.57" width="30.30" height="2.20" fill="rgb(173,173,255)"/>
<rect x="484.00" y="332.62" width="30.30" height="0.97" fill="rgb(208,208,255)"/>
<rect x="484.00" y="333.44" width="30.30" height="0.56" fill="rgb(149,149,255)"/>
<rect x="484.00" y="333.85" width="30.30" height="0.56" fill="rgb(204,204,255)"/>
<rect x="484.00" y="334.26" width="30.30" height="0.56" fill="rgb(174,174,255)"/>
<rect x="484.00" y="334.67" width="30.30" height="0.56" fill="rgb(195,195,255)"/>
<rect x="484.00" y="335.08" width="30.30" height="0.56" fill="rgb(183,183,255)"/>
<rect x="484.00" y="335.49" width="30.30" height="0.16" fill="rgb(180,180,255)"/>
<rect x="514.00" y="40.70" width="30.30" height="0.97" fill="rgb(255,108,108)"/>
<rect x="514.00" y="41.52" width="30.30" height="1.79" fill="rgb(255,91,91)"/>
<rect x="514.00" y="43.16" width="30.30" height="0.97" fill="rgb(255,80,80)"/>
<rect x="514.00" y="43.98" width="30.30" height="2.20" fill="rgb(255,83,83)"/>
<rect x="514.00" y="46.03" width="30.30" height="0.56" fill="rgb(255,93,93)"/>
<rect x="514.00" y="46.44" width="30.30" height="0.56" fill="rgb(255,83,83)"/>
<rect x="514.00" y="46.85" width="30.30" height="2.20" fill="rgb(255,67,67)"/>
<rect x="514.00" y="48.90" width="30.30" height="1.79" fill="rgb(255,87,87)"/>
<rect x="514.00" y="50.54" width="30.30" height="0.97" fill="rgb(255,59,59)"/>
<rect x="514.00" y="51.36" width="30.30" height="0.97" fill="rgb(255,66,66)"/>
<rect x="514.00" y="52.18" width="30.30" height="0.97" fill="rgb(255,59,59)"/>
<rect x="514.00" y="53.00" width="30.30" height="0.97" fill="rgb(255,70,70)"/>
<rect x="514.00" y="53.82" width="30.30" height="0.97" fill="rgb(255,0,0)"/>
<rect x="514.00" y="54.64" width="30.30" height="0.56" fill="rgb(255,0,0)"/>
<rect x="514.00" y="55.05" width="30.30" height="0.97" fill="rgb(255,0,0)"/>
<rect x="514.00" y="55.87" width="30.30" height="0.97" fill="rgb(255,0,0)"/>
<rect x="514.00" y="56.69" width="30.30" height="1.79" fill="rgb(255,82,82)"/>
<rect x="514.00" y="58.33" width="30.30" height="1.79" fill="rgb(255,99,99)"/>
<rect x="514.00" y="59.97" width="30.30" height="0.97" fill="rgb(255,48,48)"/>
<rect x="514.00" y="60.79" width="30.30" height="0.97" fill="rgb(255,95,95)"/>
<rect x="514.00" y="61.61" width="30.30" height="1.38" fill="rgb(255,78,78)"/>
<rect x="514.00" y="62.84" width="30.30" height="0.97" fill="rgb(255,39,39)"/>
<rect x="514.00" y="63.66" width="30.30" height="1.79" fill="rgb(255,0,0)"/>
<rect x="514.00" y="65.30" width="30.30" height="0.56" fill="rgb(255,0,0)"/>
<rect x="514.00" y="65.71" width="30.30" height="0.97" fill="rgb(255,0,0)"/>
<rect x="514.00" y="66.53" width="30.30" height="0.97" fill="rgb(255,0,0)"/>
<rect x="514.00" y="67.35" width="30.30" height="0.56" fill="rgb(255,1,1)"/>
<rect x="514.00" y="67.76" width="30.30" height="0.97" fill="rgb(255,0,0)"/>
<rect x="514.00" y="68.58" width="30.30" height="0.97" fill="rgb(255,0,0)"/>
<rect x="514.00" y="69.40" width="30.30" height="0.56" fill="rgb(255,14,14)"/>
<rect x="514.00" y="69.81" width="30.30" height="0.56" fill="rgb(255,0,0)"/>
<rect x="514.00" y="70.22" width="30.30" height="0.97" fill="rgb(255,0,0)"/>
<rect x="514.00" y="71.04" width="30.30" height="1.38" fill="rgb(255,0,0)"/>
<rect x="514.00" y="72.27" width="30.30" height="0.56" fill="rgb(255,0,0)"/>
<rect x="514.00" y="72.68" width="30.30" height="1.79" fill="rgb(255,0,0)"/>
<rect x="514.00" y="74.32" width="30.30" height="0.97" fill="rgb(255,0,0)"/>
<rect x="514.00" y="75.14" width="30.30" height="0.56" fill="rgb(255,15,15)"/>
<rect x="514.00" y="75.55" width="30.30" height="2.20" fill="rgb(255,0,0)"/>
<rect x="514.00" y="77.60" width="30.30" height="0.56" fill="rgb(255,0,0)"/>
<rect x="514.00" y="78.01" width="30.30" height="0.97" fill="rgb(255,0,0)"/>
<rect x="514.00" y="78.83" width="30.30" height="1.38" fill="rgb(255,0,0)"/>
<rect x="514.00" y="80.06" width="30.30" height="2.20" fill="rgb(255,0,0)"/>
<rect x="514.00" y="82.11" width="30.30" height="0.97" fill="rgb(255,0,0)"/>
<rect x="514.00" y="82.93" width="30.30" height="0.97" fill="rgb(255,0,0)"/>
<rect x="514.00" y="83.75" width="30.30" height="0.56" fill="rgb(255,0,0)"/>
<rect x="514.00" y="84.16" width="30.30" height="0.97" fill="rgb(255,2,2)"/>
<rect x="514.00" y="84.98" width="30.30" height="0.97" fill="rgb(255,0,0)"/>
<rect x="514.00" y="85.80" width="30.30" height="0.56" fill="rgb(255,0,0)"/>
<rect x="514.00" y="86.21" width="30.30" height="0.56" fill="rgb(255,0,0)"/>
<rect x="514.00" y="86.62" width="30.30" height="0.97" fill="rgb(255,0,0)"/>
<rect x="514.00" y="87.44" width="30.30" height="1.79" fill="rgb(255,0,0)"/>
<rect x="514.00" y="89.08" width="30.30" height="1.38" fill="rgb(255,0,0)"/>
<rect x="514.00" y="90.31" width="30.30" height="0.97" fill="rgb(255,0,0)"/>
<rect x="514.00" y="91.13" width="30.30" height="2.20" fill="rgb(255,0,0)"/>
<rect x="514.00" y="93.18" width="30.30" height="1.79" fill="rgb(255,89,89)"/>
<rect x="514.00" y="94.82" width="30.30" height="2.20" fill="rgb(255,97,97)"/>
<rect x="514.00" y="96.87" width="30.30" height="1.38" fill="rgb(255,67,67)"/>
<rect x="514.00" y="98.10" width="30.30" height="2.20" fill="rgb(255,109,109)"/>
<rect x="514.00" y="100.15" width="30.30" height="0.97" fill="rgb(255,90,90)"/>
<rect x="514.00" y="100.97" width="30.30" height="0.56" fill="rgb(255,80,80)"/>
<rect x="514.00" y="101.38" width="30.30" height="0.97" fill="rgb(255,85,85)"/>
<rect x="514.00" y="102.20" width="30.30" height="0.97" fill="rgb(255,102,102)"/>
<rect x="514.00" y="103.02" width="30.30" height="1.79" fill="rgb(255,82,82)"/>
<rect x="514.00" y="104.66" width="30.30" height="0.56" fill="rgb(255,79,79)"/>
<rect x="514.00" y="105.07" width="30.30" height="0.56" fill="rgb(255,104,104)"/>
<rect x="514.00" y="105.48" width="30.30" height="2.20" fill="rgb(255,64,64)"/>
<rect x="514.00" y="107.53" width="30.30" height="1.38" fill="rgb(255,95,95)"/>
<rect x="514.00" y="108.76" width="30.30" height="0.97" fill="rgb(255,70,70)"/>
<rect x="514.00" y="109.58" width="30.30" height="1.79" fill="rgb(255,100,100)"/>
<rect x="514.00" y="111.22" width="30.30" height="1.79" fill="rgb(210,210,255)"/>
<rect x="514.00" y="112.86" width="30.30" height="0.56" fill="rgb(210,210,255)"/>
<rect x="514.00" y="113.27" width="30.30" height="1.38" fill="rgb(252,252,255)"/>
<rect x="514.00" y="114.50" width="30.30" height="1.79" fill="rgb(234,234,255)"/>
<rect x="514.00" y="116.14" width="30.30" height="0.56" fill="rgb(234,234,255)"/>
<rect x="514.00" y="116.55" width="30.30" height="2.20" fill="rgb(253,253,255)"/>
<rect x="514.00" y="118.60" width="30.30" height="0.56" fill="rgb(247,247,255)"/>
<rect x="514.00" y="119.01" width="30.30" height="2.20" fill="rgb(198,198,255)"/>
<rect x="514.00" y="121.06" width="30.30" height="0.97" fill="rgb(239,239,255)"/>
<rect x="514.00" y="121.88" width="30.30" height="0.56" fill="rgb(255,146,146)"/>
<rect x="514.00" y="122.29" width="30.30" height="2.20" fill="rgb(255,133,133)"/>
<rect x="514.00" y="124.34" width="30.30" height="0.97" fill="rgb(255,152,152)"/>
<rect x="514.00" y="125.16" width="30.30" height="1.38" fill="rgb(255,161,161)"/>
<rect x="514.00" y="126.39" width="30.30" height="1.79" fill="rgb(255,160,160)"/>
<rect x="514.00" y="128.03" width="30.30" height="1.79" fill="rgb(255,184,184)"/>
<rect x="514.00" y="129.67" width="30.30" height="1.79" fill="rgb(255,166,166)"/>
<rect x="514.00" y="131.31" width="30.30" height="0.97" fill="rgb(255,135,135)"/>
<rect x="514.00" y="132.13" width="30.30" height="0.56" fill="rgb(255,182,182)"/>
<rect x="514.00" y="132.54" width="30.30" height="2.20" fill="rgb(255,138,138)"/>
<rect x="514.00" y="134.59" width="30.30" height="1.38" fill="rgb(255,154,154)"/>
<rect x="514.00" y="135.82" width="30.30" height="0.97" fill="rgb(255,188,188)"/>
<rect x="514.00" y="136.64" width="30.30" height="1.79" fill="rgb(255,173,173)"/>
<rect x="514.00" y="138.28" width="30.30" height="2.20" fill="rgb(255,191,191)"/>
<rect x="514.00" y="140.33" width="30.30" height="0.97" fill="rgb(255,175,175)"/>
<rect x="514.00" y="141.15" width="30.30" height="0.97" fill="rgb(255,188,188)"/>
<rect x="514.00" y="141.97" width="30.30" height="1.38" fill="rgb(255,185,185)"/>
<rect x="514.00" y="143.20" width="30.30" height="0.56" fill="rgb(255,191,191)"/>
<rect x="514.00" y="143.61" width="30.30" height="0.56" fill="rgb(255,207,207)"/>
<rect x="514.00" y="144.02" width="30.30" height="2.20" fill="rgb(255,237,237)"/>
<rect x="514.00" y="146.07" width="30.30" height="0.56" fill="rgb(255,244,244)"/>
<rect x="514.00" y="146.48" width="30.30" height="0.97" fill="rgb(255,227,227)"/>
<rect x="514.00" y="147.30" width="30.30" height="1.79" fill="rgb(255,252,252)"/>
<rect x="514.00" y="148.94" width="30.30" height="1.79" fill="rgb(251,251,255)"/>
<rect x="514.00" y="150.58" width="30.30" height="0.56" fill="rgb(255,213,213)"/>
<rect x="514.00" y="150.99" width="30.30" height="0.56" fill="rgb(255,233,233)"/>
<rect x="514.00" y="151.40" width="30.30" height="2.20" fill="rgb(255,227,227)"/>
<rect x="514.00" y="153.45" width="30.30" height="1.79" fill="rgb(255,238,238)"/>
<rect x="514.00" y="155.09" width="30.30" height="1.38" fill="rgb(255,233,233)"/>
<rect x="514.00" y="156.32" width="30.30" height="0.97" fill="rgb(255,243,243)"/>
<rect x="514.00" y="157.14" width="30.30" height="0.56" fill="rgb(255,224,224)"/>
<rect x="514.00" y="157.55" width="30.30" height="0.56" fill="rgb(235,235,255)"/>
<rect x="514.00" y="157.96" width="30.30" height="0.97" fill="rgb(255,224,224)"/>
<rect x="514.00" y="158.78" width="30.30" height="2.20" fill="rgb(255,234,234)"/>
<rect x="514.00" y="160.83" width="30.30" height="2.20" fill="rgb(255,250,250)"/>
<rect x="514.00" y="162.88" width="30.30" height="1.79" fill="rgb(255,253,253)"/>
<rect x="514.00" y="164.52" width="30.30" height="1.38" fill="rgb(255,251,251)"/>
<rect x="514.00" y="165.75" width="30.30" height="1.38" fill="rgb(165,165,255)"/>
<rect x="514.00" y="166.98" width="30.30" height="0.97" fill="rgb(153,153,255)"/>
<rect x="514.00" y="167.80" width="30.30" height="0.97" fill="rgb(147,147,255)"/>
<rect x="514.00" y="168.62" width="30.30" height="2.20" fill="rgb(173,173,255)"/>
<rect x="514.00" y="170.67" width="30.30" height="2.20" fill="rgb(144,144,255)"/>
<rect x="514.00" y="172.72" width="30.30" height="0.56" fill="rgb(121,121,255)"/>
<rect x="514.00" y="173.13" width="30.30" height="0.97" fill="rgb(145,145,255)"/>
<rect x="514.00" y="173.95" width="30.30" height="0.97" fill="rgb(172,172,255)"/>
<rect x="514.00" y="174.77" width="30.30" height="0.56" fill="rgb(171,171,255)"/>
<rect x="514.00" y="175.18" width="30.30" height="0.97" fill="rgb(150,150,255)"/>
<rect x="514.00" y="176.00" width="30.30" height="1.79" fill="rgb(155,155,255)"/>
<rect x="514.00" y="177.64" width="30.30" height="0.97" fill="rgb(157,157,255)"/>
<rect x="514.00" y="178.46" width="30.30" height="0.97" fill="rgb(173,173,255)"/>
<rect x="514.00" y="179.28" width="30.30" height="0.56" fill="rgb(150,150,255)"/>
<rect x="514.00" y="179.69" width="30.30" height="0.56" fill="rgb(170,170,255)"/>
<rect x="514.00" y="180.10" width="30.30" height="0.56" fill="rgb(197,197,255)"/>
<rect x="514.00" y="180.51" width="30.30" height="0.97" fill="rgb(175,175,255)"/>
<rect x="514.00" y="181.33" width="30.30" height="1.79" fill="rgb(170,170,255)"/>
<rect x="514.00" y="182.97" width="30.30" height="0.97" fill="rgb(165,165,255)"/>
<rect x="514.00" y="183.79" width="30.30" height="0.56" fill="rgb(172,172,255)"/>
<rect x="514.00" y="184.20" width="30.30" height="2.20" fill="rgb(159,159,255)"/>
<rect x="514.00" y="186.25" width="30.30" height="0.97" fill="rgb(140,140,255)"/>
<rect x="514.00" y="187.07" width="30.30" height="2.20" fill="rgb(161,161,255)"/>
<rect x="514.00" y="189.12" width="30.30" height="1.38" fill="rgb(154,154,255)"/>
<rect x="514.00" y="190.35" width="30.30" height="1.38" fill="rgb(163,163,255)"/>
<rect x="514.00" y="191.58" width="30.30" height="1.38" fill="rgb(145,145,255)"/>
<rect x="514.00" y="192.81" width="30.30" height="0.97" fill="rgb(137,137,255)"/>
<rect x="514.00" y="193.63" width="30.30" height="0.56" fill="rgb(195,195,255)"/>
<rect x="514.00" y="194.04" width="30.30" height="2.20" fill="rgb(145,145,255)"/>
<rect x="514.00" y="196.09" width="30.30" height="0.97" fill="rgb(118,118,255)"/>
<rect x="514.00" y="196.91" width="30.30" height="0.56" fill="rgb(140,140,255)"/>
<rect x="514.00" y="197.32" width="30.30" height="0.56" fill="rgb(188,188,255)"/>
<rect x="514.00" y="197.73" width="30.30" height="1.38" fill="rgb(123,123,255)"/>
<rect x="514.00" y="198.96" width="30.30" height="0.56" fill="rgb(152,152,255)"/>
<rect x="514.00" y="199.37" width="30.30" height="0.56" fill="rgb(146,146,255)"/>
<rect x="514.00" y="199.78" width="30.30" height="2.20" fill="rgb(153,153,255)"/>
<rect x="514.00" y="201.83" width="30.30" height="0.97" fill="rgb(157,157,255)"/>
<rect x="514.00" y="202.65" width="30.30" height="0.56" fill="rgb(165,165,255)"/>
<rect x="514.00" y="203.06" width="30.30" height="0.97" fill="rgb(155,155,255)"/>
<rect x="514.00" y="203.88" width="30.30" height="0.56" fill="rgb(161,161,255)"/>
<rect x="514.00" y="204.29" width="30.30" height="0.56" fill="rgb(144,144,255)"/>
<rect x="514.00" y="204.70" width="30.30" height="2.20" fill="rgb(179,179,255)"/>
<rect x="514.00" y="206.75" width="30.30" height="0.97" fill="rgb(149,149,255)"/>
<rect x="514.00" y="207.57" width="30.30" height="2.20" fill="rgb(132,132,255)"/>
<rect x="514.00" y="209.62" width="30.30" height="2.20" fill="rgb(154,154,255)"/>
<rect x="514.00" y="211.67" width="30.30" height="2.20" fill="rgb(197,197,255)"/>
<rect x="514.00" y="213.72" width="30.30" height="0.97" fill="rgb(187,187,255)"/>
<rect x="514.00" y="214.54" width="30.30" height="2.20" fill="rgb(155,155,255)"/>
<rect x="514.00" y="216.59" width="30.30" height="1.38" fill="rgb(145,145,255)"/>
<rect x="514.00" y="217.82" width="30.30" height="0.56" fill="rgb(170,170,255)"/>
<rect x="514.00" y="218.23" width="30.30" height="0.97" fill="rgb(160,160,255)"/>
<rect x="514.00" y="219.05" width="30.30" height="0.97" fill="rgb(156,156,255)"/>
<rect x="514.00" y="219.87" width="30.30" height="0.97" fill="rgb(137,137,255)"/>
<rect x="514.00" y="220.69" width="30.30" height="2.20" fill="rgb(161,161,255)"/>
<rect x="514.00" y="222.74" width="30.30" height="0.97" fill="rgb(133,133,255)"/>
<rect x="514.00" y="223.56" width="30.30" height="0.97" fill="rgb(131,131,255)"/>
<rect x="514.00" y="224.38" width="30.30" height="1.79" fill="rgb(140,140,255)"/>
<rect x="514.00" y="226.02" width="30.30" height="0.97" fill="rgb(121,121,255)"/>
<rect x="514.00" y="226.84" width="30.30" height="0.56" fill="rgb(151,151,255)"/>
<rect x="514.00" y="227.25" width="30.30" height="1.79" fill="rgb(162,162,255)"/>
<rect x="514.00" y="228.89" width="30.30" height="0.56" fill="rgb(165,165,255)"/>
<rect x="514.00" y="229.30" width="30.30" height="1.38" fill="rgb(155,155,255)"/>
<rect x="514.00" y="230.53" width="30.30" height="0.97" fill="rgb(172,172,255)"/>
<rect x="514.00" y="231.35" width="30.30" height="0.56" fill="rgb(170,170,255)"/>
<rect x="514.00" y="231.76" width="30.30" height="0.56" fill="rgb(175,175,255)"/>
<rect x="514.00" y="232.17" width="30.30" height="0.97" fill="rgb(179,179,255)"/>
<rect x="514.00" y="232.99" width="30.30" height="0.56" fill="rgb(162,162,255)"/>
<rect x="514.00" y="233.40" width="30.30" height="0.97" fill="rgb(198,198,255)"/>
<rect x="514.00" y="234.22" width="30.30" height="2.20" fill="rgb(186,186,255)"/>
<rect x="514.00" y="236.27" width="30.30" height="2.20" fill="rgb(170,170,255)"/>
<rect x="514.00" y="238.32" width="30.30" height="0.97" fill="rgb(197,197,255)"/>
<rect x="514.00" y="239.14" width="30.30" height="0.56" fill="rgb(160,160,255)"/>
<rect x="514.00" y="239.55" width="30.30" height="0.97" fill="rgb(150,150,255)"/>
<rect x="514.00" y="240.37" width="30.30" height="0.97" fill="rgb(115,115,255)"/>
<rect x="514.00" y="241.19" width="30.30" height="0.97" fill="rgb(167,167,255)"/>
<rect x="514.00" y="242.01" width="30.30" height="0.97" fill="rgb(167,167,255)"/>
<rect x="514.00" y="242.83" width="30.30" height="2.20" fill="rgb(120,120,255)"/>
<rect x="514.00" y="244.88" width="30.30" height="0.97" fill="rgb(177,177,255)"/>
<rect x="514.00" y="245.70" width="30.30" height="0.97" fill="rgb(167,167,255)"/>
<rect x="514.00" y="246.52" width="30.30" height="0.56" fill="rgb(163,163,255)"/>
<rect x="514.00" y="246.93" width="30.30" height="0.56" fill="rgb(136,136,255)"/>
<rect x="514.00" y="247.34" width="30.30" height="0.56" fill="rgb(156,156,255)"/>
<rect x="514.00" y="247.75" width="30.30" height="1.79" fill="rgb(131,131,255)"/>
<rect x="514.00" y="249.39" width="30.30" height="0.56" fill="rgb(210,210,255)"/>
<rect x="514.00" y="249.80" width="30.30" height="0.97" fill="rgb(230,230,255)"/>
<rect x="514.00" y="250.62" width="30.30" height="2.20" fill="rgb(200,200,255)"/>
<rect x="514.00" y="252.67" width="30.30" height="1.38" fill="rgb(184,184,255)"/>
<rect x="514.00" y="253.90" width="30.30" height="0.56" fill="rgb(227,227,255)"/>
<rect x="514.00" y="254.31" width="30.30" height="1.79" fill="rgb(175,175,255)"/>
<rect x="514.00" y="255.95" width="30.30" height="0.97" fill="rgb(133,133,255)"/>
<rect x="514.00" y="256.77" width="30.30" height="2.20" fill="rgb(161,161,255)"/>
<rect x="514.00" y="258.82" width="30.30" height="0.97" fill="rgb(134,134,255)"/>
<rect x="514.00" y="259.64" width="30.30" height="1.38" fill="rgb(153,153,255)"/>
<rect x="514.00" y="260.87" width="30.30" height="1.38" fill="rgb(194,194,255)"/>
<rect x="514.00" y="262.10" width="30.30" height="1.38" fill="rgb(164,164,255)"/>
<rect x="514.00" y="263.33" width="30.30" height="1.79" fill="rgb(138,138,255)"/>
<rect x="514.00" y="264.97" width="30.30" height="0.56" fill="rgb(158,158,255)"/>
<rect x="514.00" y="265.38" width="30.30" height="1.38" fill="rgb(169,169,255)"/>
<rect x="514.00" y="266.61" width="30.30" height="1.38" fill="rgb(159,159,255)"/>
<rect x="514.00" y="267.84" width="30.30" height="0.97" fill="rgb(146,146,255)"/>
<rect x="514.00" y="268.66" width="30.30" height="1.38" fill="rgb(166,166,255)"/>
<rect x="514.00" y="269.89" width="30.30" height="0.97" fill="rgb(161,161,255)"/>
<rect x="514.00" y="270.71" width="30.30" height="1.38" fill="rgb(173,173,255)"/>
<rect x="514.00" y="271.94" width="30.30" height="0.97" fill="rgb(201,201,255)"/>
<rect x="514.00" y="272.76" width="30.30" height="2.20" fill="rgb(169,169,255)"/>
<rect x="514.00" y="274.81" width="30.30" height="0.97" fill="rgb(162,162,255)"/>
<rect x="514.00" y="275.63" width="30.30" height="1.79" fill="rgb(161,161,255)"/>
<rect x="514.00" y="277.27" width="30.30" height="2.20" fill="rgb(186,186,255)"/>
<rect x="514.00" y="279.32" width="30.30" height="2.20" fill="rgb(139,139,255)"/>
<rect x="514.00" y="281.37" width="30.30" height="0.56" fill="rgb(92,92,255)"/>
<rect x="514.00" y="281.78" width="30.30" height="0.56" fill="rgb(149,149,255)"/>
<rect x="514.00" y="282.19" width="30.30" height="0.56" fill="rgb(174,174,255)"/>
<rect x="514.00" y="282.60" width="30.30" height="0.97" fill="rgb(131,131,255)"/>
<rect x="514.00" y="283.42" width="30.30" height="1.38" fill="rgb(160,160,255)"/>
<rect x="514.00" y="284.65" width="30.30" height="1.38" fill="rgb(133,133,255)"/>
<rect x="514.00" y="285.88" width="30.30" height="0.56" fill="rgb(161,161,255)"/>
<rect x="514.00" y="286.29" width="30.30" height="0.97" fill="rgb(144,144,255)"/>
<rect x="514.00" y="287.11" width="30.30" height="1.79" fill="rgb(154,154,255)"/>
<rect x="514.00" y="288.75" width="30.30" height="0.97" fill="rgb(162,162,255)"/>
<rect x="514.00" y="289.57" width="30.30" height="2.20" fill="rgb(155,155,255)"/>
<rect x="514.00" y="291.62" width="30.30" height="0.56" fill="rgb(114,114,255)"/>
<rect x="514.00" y="292.03" width="30.30" height="2.20" fill="rgb(147,147,255)"/>
<rect x="514.00" y="294.08" width="30.30" height="2.20" fill="rgb(153,153,255)"/>
<rect x="514.00" y="296.13" width="30.30" height="1.38" fill="rgb(160,160,255)"/>
<rect x="514.00" y="297.36" width="30.30" height="0.56" fill="rgb(152,152,255)"/>
<rect x="514.00" y="297.77" width="30.30" height="2.20" fill="rgb(147,147,255)"/>
<rect x="514.00" y="299.82" width="30.30" height="0.56" fill="rgb(160,160,255)"/>
<rect x="514.00" y="300.23" width="30.30" height="0.97" fill="rgb(166,166,255)"/>
<rect x="514.00" y="301.05" width="30.30" height="0.97" fill="rgb(149,149,255)"/>
<rect x="514.00" y="301.87" width="30.30" height="0.56" fill="rgb(130,130,255)"/>
<rect x="514.00" y="302.28" width="30.30" height="0.56" fill="rgb(166,166,255)"/>
<rect x="514.00" y="302.69" width="30.30" height="2.20" fill="rgb(144,144,255)"/>
<rect x="514.00" y="304.74" width="30.30" height="0.97" fill="rgb(134,134,255)"/>
<rect x="514.00" y="305.56" width="30.30" height="0.56" fill="rgb(177,177,255)"/>
<rect x="514.00" y="305.97" width="30.30" height="1.38" fill="rgb(168,168,255)"/>
<rect x="514.00" y="307.20" width="30.30" height="1.79" fill="rgb(134,134,255)"/>
<rect x="514.00" y="308.84" width="30.30" height="0.56" fill="rgb(197,197,255)"/>
<rect x="514.00" y="309.25" width="30.30" height="1.38" fill="rgb(143,143,255)"/>
<rect x="514.00" y="310.48" width="30.30" height="0.56" fill="rgb(135,135,255)"/>
<rect x="514.00" y="310.89" width="30.30" height="2.20" fill="rgb(144,144,255)"/>
<rect x="514.00" y="312.94" width="30.30" height="1.79" fill="rgb(167,167,255)"/>
<rect x="514.00" y="314.58" width="30.30" height="0.97" fill="rgb(146,146,255)"/>
<rect x="514.00" y="315.40" width="30.30" height="0.56" fill="rgb(142,142,255)"/>
<rect x="514.00" y="315.81" width="30.30" height="0.56" fill="rgb(154,154,255)"/>
<rect x="514.00" y="316.22" width="30.30" height="1.38" fill="rgb(141,141,255)"/>
<rect x="514.00" y="317.45" width="30.30" height="0.97" fill="rgb(168,168,255)"/>
<rect x="514.00" y="318.27" width="30.30" height="0.97" fill="rgb(157,157,255)"/>
<rect x="514.00" y="319.09" width="30.30" height="0.97" fill="rgb(139,139,255)"/>
<rect x="514.00" y="319.91" width="30.30" height="0.56" fill="rgb(142,142,255)"/>
<rect x="514.00" y="320.32" width="30.30" height="0.56" fill="rgb(182,182,255)"/>
<rect x="514.00" y="320.73" width="30.30" height="1.79" fill="rgb(152,152,255)"/>
<rect x="514.00" y="322.37" width="30.30" height="1.79" fill="rgb(142,142,255)"/>
<rect x="514.00" y="324.01" width="30.30" height="0.97" fill="rgb(166,166,255)"/>
<rect x="514.00" y="324.83" width="30.30" height="0.56" fill="rgb(169,169,255)"/>
<rect x="514.00" y="325.24" width="30.30" height="0.97" fill="rgb(174,174,255)"/>
<rect x="514.00" y="326.06" width="30.30" height="0.97" fill="rgb(161,161,255)"/>
<rect x="514.00" y="326.88" width="30.30" height="0.97" fill="rgb(135,135,255)"/>
<rect x="514.00" y="327.70" width="30.30" height="0.56" fill="rgb(107,107,255)"/>
<rect x="514.00" y="328.11" width="30.30" height="0.97" fill="rgb(151,151,255)"/>
<rect x="514.00" y="328.93" width="30.30" height="1.38" fill="rgb(149,149,255)"/>
<rect x="514.00" y="330.16" width="30.30" height="1.38" fill="rgb(140,140,255)"/>
<rect x="514.00" y="331.39" width="30.30" height="0.56" fill="rgb(145,145,255)"/>
<rect x="514.00" y="331.80" width="30.30" height="0.97" fill="rgb(191,191,255)"/>
<rect x="514.00" y="332.62" width="30.30" height="2.20" fill="rgb(177,177,255)"/>
<rect x="514.00" y="334.67" width="30.30" height="0.56" fill="rgb(166,166,255)"/>
<rect x="514.00" y="335.08" width="30.30" height="0.57" fill="rgb(129,129,255)"/>
<rect x="544.00" y="40.70" width="30.30" height="1.38" fill="rgb(122,122,255)"/>
<rect x="544.00" y="41.93" width="30.30" height="0.56" fill="rgb(95,95,255)"/>
<rect x="544.00" y="42.34" width="30.30" height="0.97" fill="rgb(104,104,255)"/>
<rect x="544.00" y="43.16" width="30.30" height="0.97" fill="rgb(98,98,255)"/>
<rect x="544.00" y="43.98" width="30.30" height="0.97" fill="rgb(122,122,255)"/>
<rect x="544.00" y="44.80" width="30.30" height="0.97" fill="rgb(100,100,255)"/>
<rect x="544.00" y="45.62" width="30.30" height="1.38" fill="rgb(99,99,255)"/>
<rect x="544.00" y="46.85" width="30.30" height="0.56" fill="rgb(120,120,255)"/>
<rect x="544.00" y="47.26" width="30.30" height="1.38" fill="rgb(104,104,255)"/>
<rect x="544.00" y="48.49" width="30.30" height="2.20" fill="rgb(102,102,255)"/>
<rect x="544.00" y="50.54" width="30.30" height="0.97" fill="rgb(122,122,255)"/>
<rect x="544.00" y="51.36" width="30.30" height="0.56" fill="rgb(118,118,255)"/>
<rect x="544.00" y="51.77" width="30.30" height="1.38" fill="rgb(68,68,255)"/>
<rect x="544.00" y="53.00" width="30.30" height="0.56" fill="rgb(94,94,255)"/>
<rect x="544.00" y="53.41" width="30.30" height="0.56" fill="rgb(100,100,255)"/>
<rect x="544.00" y="53.82" width="30.30" height="0.56" fill="rgb(103,103,255)"/>
<rect x="544.00" y="54.23" width="30.30" height="0.56" fill="rgb(99,99,255)"/>
<rect x="544.00" y="54.64" width="30.30" height="1.79" fill="rgb(77,77,255)"/>
<rect x="544.00" y="56.28" width="30.30" height="2.20" fill="rgb(86,86,255)"/>
<rect x="544.00" y="58.33" width="30.30" height="2.20" fill="rgb(129,129,255)"/>
<rect x="544.00" y="60.38" width="30.30" height="0.97" fill="rgb(106,106,255)"/>
<rect x="544.00" y="61.20" width="30.30" height="0.56" fill="rgb(88,88,255)"/>
<rect x="544.00" y="61.61" width="30.30" height="0.97" fill="rgb(118,118,255)"/>
<rect x="544.00" y="62.43" width="30.30" height="0.97" fill="rgb(90,90,255)"/>
<rect x="544.00" y="63.25" width="30.30" height="0.56" fill="rgb(79,79,255)"/>
<rect x="544.00" y="63.66" width="30.30" height="0.56" fill="rgb(121,121,255)"/>
<rect x="544.00" y="64.07" width="30.30" height="2.20" fill="rgb(178,178,255)"/>
<rect x="544.00" y="66.12" width="30.30" height="0.56" fill="rgb(161,161,255)"/>
<rect x="544.00" y="66.53" width="30.30" height="0.56" fill="rgb(154,154,255)"/>
<rect x="544.00" y="66.94" width="30.30" height="0.56" fill="rgb(206,206,255)"/>
<rect x="544.00" y="67.35" width="30.30" height="2.20" fill="rgb(178,178,255)"/>
<rect x="544.00" y="69.40" width="30.30" height="1.79" fill="rgb(200,200,255)"/>
<rect x="544.00" y="71.04" width="30.30" height="1.38" fill="rgb(169,169,255)"/>
<rect x="544.00" y="72.27" width="30.30" height="0.56" fill="rgb(142,142,255)"/>
<rect x="544.00" y="72.68" width="30.30" height="1.38" fill="rgb(179,179,255)"/>
<rect x="544.00" y="73.91" width="30.30" height="0.97" fill="rgb(207,207,255)"/>
<rect x="544.00" y="74.73" width="30.30" height="0.56" fill="rgb(198,198,255)"/>
<rect x="544.00" y="75.14" width="30.30" height="0.56" fill="rgb(207,207,255)"/>
<rect x="544.00" y="75.55" width="30.30" height="2.20" fill="rgb(171,171,255)"/>
<rect x="544.00" y="77.60" width="30.30" height="1.79" fill="rgb(202,202,255)"/>
<rect x="544.00" y="79.24" width="30.30" height="1.79" fill="rgb(163,163,255)"/>
<rect x="544.00" y="80.88" width="30.30" height="0.97" fill="rgb(180,180,255)"/>
<rect x="544.00" y="81.70" width="30.30" height="0.97" fill="rgb(169,169,255)"/>
<rect x="544.00" y="82.52" width="30.30" height="0.56" fill="rgb(216,216,255)"/>
<rect x="544.00" y="82.93" width="30.30" height="2.20" fill="rgb(182,182,255)"/>
<rect x="544.00" y="84.98" width="30.30" height="0.56" fill="rgb(194,194,255)"/>
<rect x="544.00" y="85.39" width="30.30" height="1.38" fill="rgb(191,191,255)"/>
<rect x="544.00" y="86.62" width="30.30" height="1.38" fill="rgb(211,211,255)"/>
<rect x="544.00" y="87.85" width="30.30" height="0.56" fill="rgb(173,173,255)"/>
<rect x="544.00" y="88.26" width="30.30" height="0.97" fill="rgb(203,203,255)"/>
<rect x="544.00" y="89.08" width="30.30" height="0.56" fill="rgb(178,178,255)"/>
<rect x="544.00" y="89.49" width="30.30" height="1.38" fill="rgb(130,130,255)"/>
<rect x="544.00" y="90.72" width="30.30" height="1.38" fill="rgb(156,156,255)"/>
<rect x="544.00" y="91.95" width="30.30" height="1.38" fill="rgb(121,121,255)"/>
<rect x="544.00" y="93.18" width="30.30" height="0.56" fill="rgb(144,144,255)"/>
<rect x="544.00" y="93.59" width="30.30" height="0.56" fill="rgb(109,109,255)"/>
<rect x="544.00" y="94.00" width="30.30" height="0.56" fill="rgb(116,116,255)"/>
<rect x="544.00" y="94.41" width="30.30" height="1.38" fill="rgb(104,104,255)"/>
<rect x="544.00" y="95.64" width="30.30" height="0.97" fill="rgb(135,135,255)"/>
<rect x="544.00" y="96.46" width="30.30" height="0.56" fill="rgb(133,133,255)"/>
<rect x="544.00" y="96.87" width="30.30" height="2.20" fill="rgb(120,120,255)"/>
<rect x="544.00" y="98.92" width="30.30" height="1.38" fill="rgb(156,156,255)"/>
<rect x="544.00" y="100.15" width="30.30" height="1.38" fill="rgb(169,169,255)"/>
<rect x="544.00" y="101.38" width="30.30" height="0.56" fill="rgb(106,106,255)"/>
<rect x="544.00" y="101.79" width="30.30" height="2.20" fill="rgb(142,142,255)"/>
<rect x="544.00" y="103.84" width="30.30" height="1.79" fill="rgb(147,147,255)"/>
<rect x="544.00" y="105.48" width="30.30" height="0.56" fill="rgb(123,123,255)"/>
<rect x="544.00" y="105.89" width="30.30" height="0.56" fill="rgb(148,148,255)"/>
<rect x="544.00" y="106.30" width="30.30" height="1.79" fill="rgb(157,157,255)"/>
<rect x="544.00" y="107.94" width="30.30" height="1.79" fill="rgb(125,125,255)"/>
<rect x="544.00" y="109.58" width="30.30" height="1.38" fill="rgb(117,117,255)"/>
<rect x="544.00" y="110.81" width="30.30" height="1.38" fill="rgb(137,137,255)"/>
<rect x="544.00" y="112.04" width="30.30" height="0.97" fill="rgb(129,129,255)"/>
<rect x="544.00" y="112.86" width="30.30" height="1.38" fill="rgb(104,104,255)"/>
<rect x="544.00" y="114.09" width="30.30" height="0.56" fill="rgb(98,98,255)"/>
<rect x="544.00" y="114.50" width="30.30" height="0.97" fill="rgb(121,121,255)"/>
<rect x="544.00" y="115.32" width="30.30" height="0.97" fill="rgb(131,131,255)"/>
<rect x="544.00" y="116.14" width="30.30" height="1.38" fill="rgb(160,160,255)"/>
<rect x="544.00" y="117.37" width="30.30" height="0.97" fill="rgb(155,155,255)"/>
<rect x="544.00" y="118.19" width="30.30" height="0.97" fill="rgb(145,145,255)"/>
<rect x="544.00" y="119.01" width="30.30" height="1.38" fill="rgb(185,185,255)"/>
<rect x="544.00" y="120.24" width="30.30" height="0.56" fill="rgb(107,107,255)"/>
<rect x="544.00" y="120.65" width="30.30" height="0.56" fill="rgb(118,118,255)"/>
<rect x="544.00" y="121.06" width="30.30" height="0.97" fill="rgb(117,117,255)"/>
<rect x="544.00" y="121.88" width="30.30" height="1.38" fill="rgb(79,79,255)"/>
<rect x="544.00" y="123.11" width="30.30" height="0.97" fill="rgb(91,91,255)"/>
<rect x="544.00" y="123.93" width="30.30" height="2.20" fill="rgb(97,97,255)"/>
<rect x="544.00" y="125.98" width="30.30" height="0.97" fill="rgb(69,69,255)"/>
<rect x="544.00" y="126.80" width="30.30" height="0.97" fill="rgb(108,108,255)"/>
<rect x="544.00" y="127.62" width="30.30" height="0.97" fill="rgb(102,102,255)"/>
<rect x="544.00" y="128.44" width="30.30" height="1.38" fill="rgb(100,100,255)"/>
<rect x="544.00" y="129.67" width="30.30" height="0.56" fill="rgb(99,99,255)"/>
<rect x="544.00" y="130.08" width="30.30" height="0.97" fill="rgb(105,105,255)"/>
<rect x="544.00" y="130.90" width="30.30" height="0.97" fill="rgb(101,101,255)"/>
<rect x="544.00" y="131.72" width="30.30" height="1.79" fill="rgb(63,63,255)"/>
<rect x="544.00" y="133.36" width="30.30" height="0.97" fill="rgb(107,107,255)"/>
<rect x="544.00" y="134.18" width="30.30" height="0.56" fill="rgb(93,93,255)"/>
<rect x="544.00" y="134.59" width="30.30" height="1.38" fill="rgb(89,89,255)"/>
<rect x="544.00" y="135.82" width="30.30" height="0.56" fill="rgb(67,67,255)"/>
<rect x="544.00" y="136.23" width="30.30" height="0.97" fill="rgb(48,48,255)"/>
<rect x="544.00" y="137.05" width="30.30" height="0.56" fill="rgb(117,117,255)"/>
<rect x="544.00" y="137.46" width="30.30" height="1.79" fill="rgb(49,49,255)"/>
<rect x="544.00" y="139.10" width="30.30" height="0.97" fill="rgb(62,62,255)"/>
<rect x="544.00" y="139.92" width="30.30" height="1.38" fill="rgb(115,115,255)"/>
<rect x="544.00" y="141.15" width="30.30" height="0.56" fill="rgb(93,93,255)"/>
<rect x="544.00" y="141.56" width="30.30" height="1.38" fill="rgb(128,128,255)"/>
<rect x="544.00" y="142.79" width="30.30" height="0.56" fill="rgb(121,121,255)"/>
<rect x="544.00" y="143.20" width="30.30" height="0.97" fill="rgb(151,151,255)"/>
<rect x="544.00" y="144.02" width="30.30" height="0.97" fill="rgb(149,149,255)"/>
<rect x="544.00" y="144.84" width="30.30" height="0.56" fill="rgb(136,136,255)"/>
<rect x="544.00" y="145.25" width="30.30" height="1.38" fill="rgb(117,117,255)"/>
<rect x="544.00" y="146.48" width="30.30" height="0.97" fill="rgb(144,144,255)"/>
<rect x="544.00" y="147.30" width="30.30" height="1.79" fill="rgb(85,85,255)"/>
<rect x="544.00" y="148.94" width="30.30" height="2.20" fill="rgb(122,122,255)"/>
<rect x="544.00" y="150.99" width="30.30" height="1.38" fill="rgb(133,133,255)"/>
<rect x="544.00" y="152.22" width="30.30" height="1.79" fill="rgb(143,143,255)"/>
<rect x="544.00" y="153.86" width="30.30" height="0.56" fill="rgb(139,139,255)"/>
<rect x="544.00" y="154.27" width="30.30" height="2.20" fill="rgb(127,127,255)"/>
<rect x="544.00" y="156.32" width="30.30" height="0.56" fill="rgb(132,132,255)"/>
<rect x="544.00" y="156.73" width="30.30" height="2.20" fill="rgb(136,136,255)"/>
<rect x="544.00" y="158.78" width="30.30" height="0.97" fill="rgb(141,141,255)"/>
<rect x="544.00" y="159.60" width="30.30" height="0.56" fill="rgb(150,150,255)"/>
<rect x="544.00" y="160.01" width="30.30" height="0.97" fill="rgb(127,127,255)"/>
<rect x="544.00" y="160.83" width="30.30" height="1.38" fill="rgb(137,137,255)"/>
<rect x="544.00" y="162.06" width="30.30" height="0.97" fill="rgb(133,133,255)"/>
<rect x="544.00" y="162.88" width="30.30" height="1.79" fill="rgb(122,122,255)"/>
<rect x="544.00" y="164.52" width="30.30" height="1.79" fill="rgb(102,102,255)"/>
<rect x="544.00" y="166.16" width="30.30" height="2.20" fill="rgb(255,173,173)"/>
<rect x="544.00" y="168.21" width="30.30" height="2.20" fill="rgb(255,155,155)"/>
<rect x="544.00" y="170.26" width="30.30" height="1.79" fill="rgb(255,196,196)"/>
<rect x="544.00" y="171.90" width="30.30" height="1.79" fill="rgb(255,0,0)"/>
<rect x="544.00" y="173.54" width="30.30" height="2.20" fill="rgb(255,0,0)"/>
<rect x="544.00" y="175.59" width="30.30" height="0.97" fill="rgb(255,0,0)"/>
<rect x="544.00" y="176.41" width="30.30" height="1.79" fill="rgb(255,0,0)"/>
<rect x="544.00" y="178.05" width="30.30" height="0.97" fill="rgb(255,0,0)"/>
<rect x="544.00" y="178.87" width="30.30" height="1.79" fill="rgb(255,0,0)"/>
<rect x="544.00" y="180.51" width="30.30" height="0.97" fill="rgb(255,0,0)"/>
<rect x="544.00" y="181.33" width="30.30" height="1.79" fill="rgb(255,0,0)"/>
<rect x="544.00" y="182.97" width="30.30" height="2.20" fill="rgb(255,10,10)"/>
<rect x="544.00" y="185.02" width="30.30" height="0.97" fill="rgb(255,0,0)"/>
<rect x="544.00" y="185.84" width="30.30" height="0.56" fill="rgb(255,0,0)"/>
<rect x="544.00" y="186.25" width="30.30" height="1.79" fill="rgb(255,90,90)"/>
<rect x="544.00" y="187.89" width="30.30" height="1.79" fill="rgb(255,91,91)"/>
<rect x="544.00" y="189.53" width="30.30" height="1.38" fill="rgb(255,111,111)"/>
<rect x="544.00" y="190.76" width="30.30" height="0.56" fill="rgb(255,115,115)"/>
<rect x="544.00" y="191.17" width="30.30" height="0.97" fill="rgb(255,145,145)"/>
<rect x="544.00" y="191.99" width="30.30" height="0.56" fill="rgb(255,131,131)"/>
<rect x="544.00" y="192.40" width="30.30" height="0.56" fill="rgb(255,125,125)"/>
<rect x="544.00" y="192.81" width="30.30" height="0.56" fill="rgb(255,156,156)"/>
<rect x="544.00" y="193.22" width="30.30" height="0.97" fill="rgb(255,129,129)"/>
<rect x="544.00" y="194.04" width="30.30" height="1.79" fill="rgb(255,146,146)"/>
<rect x="544.00" y="195.68" width="30.30" height="0.97" fill="rgb(255,169,169)"/>
<rect x="544.00" y="196.50" width="30.30" height="0.97" fill="rgb(255,139,139)"/>
<rect x="544.00" y="197.32" width="30.30" height="1.38" fill="rgb(255,139,139)"/>
<rect x="544.00" y="198.55" width="30.30" height="1.79" fill="rgb(255,226,226)"/>
<rect x="544.00" y="200.19" width="30.30" height="2.20" fill="rgb(255,38,38)"/>
<rect x="544.00" y="202.24" width="30.30" height="0.56" fill="rgb(255,29,29)"/>
<rect x="544.00" y="202.65" width="30.30" height="0.56" fill="rgb(255,58,58)"/>
<rect x="544.00" y="203.06" width="30.30" height="0.97" fill="rgb(255,42,42)"/>
<rect x="544.00" y="203.88" width="30.30" height="0.97" fill="rgb(255,70,70)"/>
<rect x="544.00" y="204.70" width="30.30" height="0.97" fill="rgb(255,64,64)"/>
<rect x="544.00" y="205.52" width="30.30" height="0.97" fill="rgb(255,84,84)"/>
<rect x="544.00" y="206.34" width="30.30" height="0.97" fill="rgb(255,68,68)"/>
<rect x="544.00" y="207.16" width="30.30" height="2.20" fill="rgb(255,70,70)"/>
<rect x="544.00" y="209.21" width="30.30" height="0.97" fill="rgb(255,62,62)"/>
<rect x="544.00" y="210.03" width="30.30" height="0.97" fill="rgb(255,32,32)"/>
<rect x="544.00" y="210.85" width="30.30" height="1.79" fill="rgb(255,39,39)"/>
<rect x="544.00" y="212.49" width="30.30" height="0.97" fill="rgb(255,63,63)"/>
<rect x="544.00" y="213.31" width="30.30" height="0.56" fill="rgb(255,35,35)"/>
<rect x="544.00" y="213.72" width="30.30" height="0.97" fill="rgb(255,21,21)"/>
<rect x="544.00" y="214.54" width="30.30" height="0.97" fill="rgb(255,67,67)"/>
<rect x="544.00" y="215.36" width="30.30" height="0.97" fill="rgb(255,50,50)"/>
<rect x="544.00" y="216.18" width="30.30" height="1.38" fill="rgb(255,38,38)"/>
<rect x="544.00" y="217.41" width="30.30" height="0.56" fill="rgb(255,100,100)"/>
<rect x="544.00" y="217.82" width="30.30" height="1.38" fill="rgb(255,70,70)"/>
<rect x="544.00" y="219.05" width="30.30" height="0.97" fill="rgb(255,58,58)"/>
<rect x="544.00" y="219.87" width="30.30" height="0.56" fill="rgb(255,45,45)"/>
<rect x="544.00" y="220.28" width="30.30" height="2.20" fill="rgb(255,72,72)"/>
<rect x="544.00" y="222.33" width="30.30" height="1.38" fill="rgb(255,71,71)"/>
<rect x="544.00" y="223.56" width="30.30" height="2.20" fill="rgb(255,15,15)"/>
<rect x="544.00" y="225.61" width="30.30" height="0.97" fill="rgb(255,2,2)"/>
<rect x="544.00" y="226.43" width="30.30" height="1.38" fill="rgb(255,96,96)"/>
<rect x="544.00" y="227.66" width="30.30" height="0.97" fill="rgb(255,90,90)"/>
<rect x="544.00" y="228.48" width="30.30" height="0.56" fill="rgb(255,156,156)"/>
<rect x="544.00" y="228.89" width="30.30" height="0.97" fill="rgb(255,92,92)"/>
<rect x="544.00" y="229.71" width="30.30" height="2.20" fill="rgb(255,113,113)"/>
<rect x="544.00" y="231.76" width="30.30" height="0.56" fill="rgb(255,95,95)"/>
<rect x="544.00" y="232.17" width="30.30" height="0.56" fill="rgb(255,71,71)"/>
<rect x="544.00" y="232.58" width="30.30" height="1.79" fill="rgb(255,112,112)"/>
<rect x="544.00" y="234.22" width="30.30" height="1.38" fill="rgb(255,115,115)"/>
<rect x="544.00" y="235.45" width="30.30" height="0.56" fill="rgb(255,99,99)"/>
<rect x="544.00" y="235.86" width="30.30" height="1.38" fill="rgb(255,77,77)"/>
<rect x="544.00" y="237.09" width="30.30" height="0.97" fill="rgb(255,53,53)"/>
<rect x="544.00" y="237.91" width="30.30" height="1.79" fill="rgb(255,113,113)"/>
<rect x="544.00" y="239.55" width="30.30" height="2.20" fill="rgb(255,100,100)"/>
<rect x="544.00" y="241.60" width="30.30" height="1.79" fill="rgb(255,99,99)"/>
<rect x="544.00" y="243.24" width="30.30" height="2.20" fill="rgb(255,133,133)"/>
<rect x="544.00" y="245.29" width="30.30" height="1.79" fill="rgb(255,99,99)"/>
<rect x="544.00" y="246.93" width="30.30" height="0.97" fill="rgb(255,109,109)"/>
<rect x="544.00" y="247.75" width="30.30" height="0.56" fill="rgb(255,90,90)"/>
<rect x="544.00" y="248.16" width="30.30" height="1.79" fill="rgb(255,245,245)"/>
<rect x="544.00" y="249.80" width="30.30" height="0.97" fill="rgb(224,224,255)"/>
<rect x="544.00" y="250.62" width="30.30" height="0.97" fill="rgb(253,253,255)"/>
<rect x="544.00" y="251.44" width="30.30" height="0.97" fill="rgb(234,234,255)"/>
<rect x="544.00" y="252.26" width="30.30" height="2.20" fill="rgb(255,215,215)"/>
<rect x="544.00" y="254.31" width="30.30" height="0.97" fill="rgb(255,206,206)"/>
<rect x="544.00" y="255.13" width="30.30" height="0.97" fill="rgb(255,221,221)"/>
<rect x="544.00" y="255.95" width="30.30" height="0.56" fill="rgb(255,206,206)"/>
<rect x="544.00" y="256.36" width="30.30" height="0.56" fill="rgb(255,238,238)"/>
<rect x="544.00" y="256.77" width="30.30" height="1.38" fill="rgb(255,188,188)"/>
<rect x="544.00" y="258.00" width="30.30" height="0.56" fill="rgb(255,198,198)"/>
<rect x="544.00" y="258.41" width="30.30" height="1.38" fill="rgb(255,217,217)"/>
<rect x="544.00" y="259.64" width="30.30" height="1.38" fill="rgb(255,247,247)"/>
<rect x="544.00" y="260.87" width="30.30" height="2.20" fill="rgb(255,227,227)"/>
<rect x="544.00" y="262.92" width="30.30" height="0.97" fill="rgb(255,229,229)"/>
<rect x="544.00" y="263.74" width="30.30" height="2.20" fill="rgb(255,239,239)"/>
<rect x="544.00" y="265.79" width="30.30" height="0.56" fill="rgb(255,223,223)"/>
<rect x="544.00" y="266.20" width="30.30" height="0.97" fill="rgb(244,244,255)"/>
<rect x="544.00" y="267.02" width="30.30" height="1.79" fill="rgb(255,243,243)"/>
<rect x="544.00" y="268.66" width="30.30" height="0.56" fill="rgb(255,227,227)"/>
<rect x="544.00" y="269.07" width="30.30" height="1.38" fill="rgb(254,254,255)"/>
<rect x="544.00" y="270.30" width="30.30" height="1.79" fill="rgb(253,253,255)"/>
<rect x="544.00" y="271.94" width="30.30" height="1.38" fill="rgb(255,237,237)"/>
<rect x="544.00" y="273.17" width="30.30" height="0.56" fill="rgb(222,222,255)"/>
<rect x="544.00" y="273.58" width="30.30" height="1.79" fill="rgb(242,242,255)"/>
<rect x="544.00" y="275.22" width="30.30" height="0.56" fill="rgb(255,249,249)"/>
<rect x="544.00" y="275.63" width="30.30" height="1.38" fill="rgb(255,247,247)"/>
<rect x="544.00" y="276.86" width="30.30" height="0.56" fill="rgb(255,198,198)"/>
<rect x="544.00" y="277.27" width="30.30" height="0.97" fill="rgb(255,187,187)"/>
<rect x="544.00" y="278.09" width="30.30" height="2.20" fill="rgb(255,174,174)"/>
<rect x="544.00" y="280.14" width="30.30" height="1.79" fill="rgb(255,168,168)"/>
<rect x="544.00" y="281.78" width="30.30" height="0.56" fill="rgb(255,191,191)"/>
<rect x="544.00" y="282.19" width="30.30" height="0.56" fill="rgb(255,189,189)"/>
<rect x="544.00" y="282.60" width="30.30" height="1.79" fill="rgb(255,153,153)"/>
<rect x="544.00" y="284.24" width="30.30" height="1.38" fill="rgb(255,212,212)"/>
<rect x="544.00" y="285.47" width="30.30" height="1.38" fill="rgb(255,183,183)"/>
<rect x="544.00" y="286.70" width="30.30" height="0.56" fill="rgb(255,193,193)"/>
<rect x="544.00" y="287.11" width="30.30" height="0.56" fill="rgb(255,222,222)"/>
<rect x="544.00" y="287.52" width="30.30" height="0.97" fill="rgb(255,207,207)"/>
<rect x="544.00" y="288.34" width="30.30" height="0.56" fill="rgb(255,198,198)"/>
<rect x="544.00" y="288.75" width="30.30" height="0.56" fill="rgb(255,210,210)"/>
<rect x="544.00" y="289.16" width="30.30" height="0.97" fill="rgb(255,194,194)"/>
<rect x="544.00" y="289.98" width="30.30" height="0.56" fill="rgb(255,125,125)"/>
<rect x="544.00" y="290.39" width="30.30" height="1.38" fill="rgb(255,115,115)"/>
<rect x="544.00" y="291.62" width="30.30" height="0.56" fill="rgb(255,168,168)"/>
<rect x="544.00" y="292.03" width="30.30" height="0.56" fill="rgb(255,141,141)"/>
<rect x="544.00" y="292.44" width="30.30" height="0.56" fill="rgb(255,162,162)"/>
<rect x="544.00" y="292.85" width="30.30" height="1.79" fill="rgb(255,155,155)"/>
<rect x="544.00" y="294.49" width="30.30" height="1.38" fill="rgb(255,142,142)"/>
<rect x="544.00" y="295.72" width="30.30" height="2.20" fill="rgb(255,119,119)"/>
<rect x="544.00" y="297.77" width="30.30" height="2.20" fill="rgb(255,170,170)"/>
<rect x="544.00" y="299.82" width="30.30" height="0.56" fill="rgb(255,179,179)"/>
<rect x="544.00" y="300.23" width="30.30" height="1.79" fill="rgb(255,175,175)"/>
<rect x="544.00" y="301.87" width="30.30" height="1.38" fill="rgb(255,173,173)"/>
<rect x="544.00" y="303.10" width="30.30" height="0.56" fill="rgb(255,196,196)"/>
<rect x="544.00" y="303.51" width="30.30" height="0.56" fill="rgb(255,177,177)"/>
<rect x="544.00" y="303.92" width="30.30" height="0.56" fill="rgb(255,190,190)"/>
<rect x="544.00" y="304.33" width="30.30" height="0.56" fill="rgb(255,149,149)"/>
<rect x="544.00" y="304.74" width="30.30" height="0.56" fill="rgb(255,154,154)"/>
<rect x="544.00" y="305.15" width="30.30" height="0.97" fill="rgb(255,143,143)"/>
<rect x="544.00" y="305.97" width="30.30" height="1.79" fill="rgb(255,171,171)"/>
<rect x="544.00" y="307.61" width="30.30" height="1.38" fill="rgb(255,203,203)"/>
<rect x="544.00" y="308.84" width="30.30" height="2.20" fill="rgb(255,182,182)"/>
<rect x="544.00" y="310.89" width="30.30" height="1.79" fill="rgb(255,178,178)"/>
<rect x="544.00" y="312.53" width="30.30" height="0.56" fill="rgb(255,179,179)"/>
<rect x="544.00" y="312.94" width="30.30" height="2.20" fill="rgb(255,174,174)"/>
<rect x="544.00" y="314.99" width="30.30" height="0.56" fill="rgb(255,160,160)"/>
<rect x="544.00" y="315.40" width="30.30" height="0.97" fill="rgb(255,186,186)"/>
<rect x="544.00" y="316.22" width="30.30" height="0.97" fill="rgb(255,168,168)"/>
<rect x="544.00" y="317.04" width="30.30" height="0.56" fill="rgb(255,167,167)"/>
<rect x="544.00" y="317.45" width="30.30" height="0.56" fill="rgb(255,187,187)"/>
<rect x="544.00" y="317.86" width="30.30" height="1.38" fill="rgb(255,199,199)"/>
<rect x="544.00" y="319.09" width="30.30" height="1.38" fill="rgb(255,182,182)"/>
<rect x="544.00" y="320.32" width="30.30" height="1.79" fill="rgb(255,221,221)"/>
<rect x="544.00" y="321.96" width="30.30" height="0.97" fill="rgb(255,182,182)"/>
<rect x="544.00" y="322.78" width="30.30" height="0.56" fill="rgb(255,200,200)"/>
<rect x="544.00" y="323.19" width="30.30" height="0.97" fill="rgb(255,191,191)"/>
<rect x="544.00" y="324.01" width="30.30" height="0.97" fill="rgb(255,196,196)"/>
<rect x="544.00" y="324.83" width="30.30" height="0.56" fill="rgb(255,162,162)"/>
<rect x="544.00" y="325.24" width="30.30" height="0.56" fill="rgb(255,215,215)"/>
<rect x="544.00" y="325.65" width="30.30" height="1.38" fill="rgb(255,228,228)"/>
<rect x="544.00" y="326.88" width="30.30" height="1.38" fill="rgb(255,226,226)"/>
<rect x="544.00" y="328.11" width="30.30" height="0.56" fill="rgb(255,215,215)"/>
<rect x="544.00" y="328.52" width="30.30" height="0.56" fill="rgb(255,207,207)"/>
<rect x="544.00" y="328.93" width="30.30" height="1.38" fill="rgb(255,197,197)"/>
<rect x="544.00" y="330.16" width="30.30" height="0.97" fill="rgb(255,205,205)"/>
<rect x="544.00" y="330.98" width="30.30" height="0.56" fill="rgb(255,217,217)"/>
<rect x="544.00" y="331.39" width="30.30" height="2.20" fill="rgb(255,204,204)"/>
<rect x="544.00" y="333.44" width="30.30" height="1.79" fill="rgb(255,196,196)"/>
<rect x="544.00" y="335.08" width="30.30" height="0.57" fill="rgb(255,225,225)"/>
<rect x="574.00" y="40.70" width="30.30" height="0.56" fill="rgb(127,127,255)"/>
<rect x="574.00" y="41.11" width="30.30" height="0.97" fill="rgb(118,118,255)"/>
<rect x="574.00" y="41.93" width="30.30" height="1.79" fill="rgb(124,124,255)"/>
<rect x="574.00" y="43.57" width="30.30" height="0.97" fill="rgb(134,134,255)"/>
<rect x="574.00" y="44.39" width="30.30" height="2.20" fill="rgb(131,131,255)"/>
<rect x="574.00" y="46.44" width="30.30" height="0.97" fill="rgb(147,147,255)"/>
<rect x="574.00" y="47.26" width="30.30" height="1.79" fill="rgb(127,127,255)"/>
<rect x="574.00" y="48.90" width="30.30" height="2.20" fill="rgb(134,134,255)"/>
<rect x="574.00" y="50.95" width="30.30" height="0.56" fill="rgb(187,187,255)"/>
<rect x="574.00" y="51.36" width="30.30" height="0.97" fill="rgb(148,148,255)"/>
<rect x="574.00" y="52.18" width="30.30" height="1.79" fill="rgb(114,114,255)"/>
<rect x="574.00" y="53.82" width="30.30" height="0.56" fill="rgb(93,93,255)"/>
<rect x="574.00" y="54.23" width="30.30" height="0.56" fill="rgb(133,133,255)"/>
<rect x="574.00" y="54.64" width="30.30" height="0.56" fill="rgb(109,109,255)"/>
<rect x="574.00" y="55.05" width="30.30" height="0.56" fill="rgb(128,128,255)"/>
<rect x="574.00" y="55.46" width="30.30" height="0.97" fill="rgb(137,137,255)"/>
<rect x="574.00" y="56.28" width="30.30" height="0.56" fill="rgb(122,122,255)"/>
<rect x="574.00" y="56.69" width="30.30" height="0.56" fill="rgb(163,163,255)"/>
<rect x="574.00" y="57.10" width="30.30" height="0.97" fill="rgb(94,94,255)"/>
<rect x="574.00" y="57.92" width="30.30" height="0.97" fill="rgb(134,134,255)"/>
<rect x="574.00" y="58.74" width="30.30" height="2.20" fill="rgb(135,135,255)"/>
<rect x="574.00" y="60.79" width="30.30" height="1.79" fill="rgb(125,125,255)"/>
<rect x="574.00" y="62.43" width="30.30" height="0.56" fill="rgb(133,133,255)"/>
<rect x="574.00" y="62.84" width="30.30" height="0.56" fill="rgb(123,123,255)"/>
<rect x="574.00" y="63.25" width="30.30" height="2.20" fill="rgb(178,178,255)"/>
<rect x="574.00" y="65.30" width="30.30" height="1.79" fill="rgb(213,213,255)"/>
<rect x="574.00" y="66.94" width="30.30" height="0.97" fill="rgb(173,173,255)"/>
<rect x="574.00" y="67.76" width="30.30" height="0.97" fill="rgb(185,185,255)"/>
<rect x="574.00" y="68.58" width="30.30" height="0.56" fill="rgb(148,148,255)"/>
<rect x="574.00" y="68.99" width="30.30" height="2.20" fill="rgb(202,202,255)"/>
<rect x="574.00" y="71.04" width="30.30" height="0.97" fill="rgb(197,197,255)"/>
<rect x="574.00" y="71.86" width="30.30" height="1.79" fill="rgb(207,207,255)"/>
<rect x="574.00" y="73.50" width="30.30" height="0.56" fill="rgb(196,196,255)"/>
<rect x="574.00" y="73.91" width="30.30" height="1.38" fill="rgb(208,208,255)"/>
<rect x="574.00" y="75.14" width="30.30" height="1.38" fill="rgb(208,208,255)"/>
<rect x="574.00" y="76.37" width="30.30" height="2.20" fill="rgb(162,162,255)"/>
<rect x="574.00" y="78.42" width="30.30" height="1.38" fill="rgb(178,178,255)"/>
<rect x="574.00" y="79.65" width="30.30" height="0.97" fill="rgb(199,199,255)"/>
<rect x="574.00" y="80.47" width="30.30" height="0.56" fill="rgb(189,189,255)"/>
<rect x="574.00" y="80.88" width="30.30" height="0.56" fill="rgb(206,206,255)"/>
<rect x="574.00" y="81.29" width="30.30" height="2.20" fill="rgb(199,199,255)"/>
<rect x="574.00" y="83.34" width="30.30" height="1.79" fill="rgb(180,180,255)"/>
<rect x="574.00" y="84.98" width="30.30" height="0.97" fill="rgb(191,191,255)"/>
<rect x="574.00" y="85.80" width="30.30" height="1.79" fill="rgb(177,177,255)"/>
<rect x="574.00" y="87.44" width="30.30" height="2.20" fill="rgb(185,185,255)"/>
<rect x="574.00" y="89.49" width="30.30" height="1.38" fill="rgb(141,141,255)"/>
<rect x="574.00" y="90.72" width="30.30" height="2.20" fill="rgb(172,172,255)"/>
<rect x="574.00" y="92.77" width="30.30" height="0.97" fill="rgb(154,154,255)"/>
<rect x="574.00" y="93.59" width="30.30" height="0.97" fill="rgb(168,168,255)"/>
<rect x="574.00" y="94.41" width="30.30" height="1.79" fill="rgb(198,198,255)"/>
<rect x="574.00" y="96.05" width="30.30" height="0.97" fill="rgb(171,171,255)"/>
<rect x="574.00" y="96.87" width="30.30" height="1.38" fill="rgb(177,177,255)"/>
<rect x="574.00" y="98.10" width="30.30" height="0.56" fill="rgb(131,131,255)"/>
<rect x="574.00" y="98.51" width="30.30" height="0.97" fill="rgb(126,126,255)"/>
<rect x="574.00" y="99.33" width="30.30" height="0.56" fill="rgb(114,114,255)"/>
<rect x="574.00" y="99.74" width="30.30" height="0.56" fill="rgb(134,134,255)"/>
<rect x="574.00" y="100.15" width="30.30" height="0.97" fill="rgb(161,161,255)"/>
<rect x="574.00" y="100.97" width="30.30" height="1.38" fill="rgb(115,115,255)"/>
<rect x="574.00" y="102.20" width="30.30" height="0.56" fill="rgb(110,110,255)"/>
<rect x="574.00" y="102.61" width="30.30" height="0.97" fill="rgb(144,144,255)"/>
<rect x="574.00" y="103.43" width="30.30" height="0.56" fill="rgb(129,129,255)"/>
<rect x="574.00" y="103.84" width="30.30" height="0.97" fill="rgb(126,126,255)"/>
<rect x="574.00" y="104.66" width="30.30" height="0.97" fill="rgb(154,154,255)"/>
<rect x="574.00" y="105.48" width="30.30" height="1.79" fill="rgb(101,101,255)"/>
<rect x="574.00" y="107.12" width="30.30" height="0.97" fill="rgb(132,132,255)"/>
<rect x="574.00" y="107.94" width="30.30" height="0.56" fill="rgb(103,103,255)"/>
<rect x="574.00" y="108.35" width="30.30" height="1.38" fill="rgb(159,159,255)"/>
<rect x="574.00" y="109.58" width="30.30" height="1.38" fill="rgb(107,107,255)"/>
<rect x="574.00" y="110.81" width="30.30" height="0.97" fill="rgb(139,139,255)"/>
<rect x="574.00" y="111.63" width="30.30" height="0.97" fill="rgb(107,107,255)"/>
<rect x="574.00" y="112.45" width="30.30" height="0.56" fill="rgb(164,164,255)"/>
<rect x="574.00" y="112.86" width="30.30" height="1.79" fill="rgb(162,162,255)"/>
<rect x="574.00" y="114.50" width="30.30" height="1.79" fill="rgb(113,113,255)"/>
<rect x="574.00" y="116.14" width="30.30" height="0.56" fill="rgb(103,103,255)"/>
<rect x="574.00" y="116.55" width="30.30" height="0.97" fill="rgb(132,132,255)"/>
<rect x="574.00" y="117.37" width="30.30" height="2.20" fill="rgb(142,142,255)"/>
<rect x="574.00" y="119.42" width="30.30" height="0.56" fill="rgb(154,154,255)"/>
<rect x="574.00" y="119.83" width="30.30" height="1.38" fill="rgb(118,118,255)"/>
<rect x="574.00" y="121.06" width="30.30" height="0.97" fill="rgb(122,122,255)"/>
<rect x="574.00" y="121.88" width="30.30" height="0.97" fill="rgb(110,110,255)"/>
<rect x="574.00" y="122.70" width="30.30" height="0.56" fill="rgb(107,107,255)"/>
<rect x="574.00" y="123.11" width="30.30" height="0.97" fill="rgb(118,118,255)"/>
<rect x="574.00" y="123.93" width="30.30" height="1.79" fill="rgb(129,129,255)"/>
<rect x="574.00" y="125.57" width="30.30" height="2.20" fill="rgb(109,109,255)"/>
<rect x="574.00" y="127.62" width="30.30" height="0.56" fill="rgb(126,126,255)"/>
<rect x="574.00" y="128.03" width="30.30" height="1.79" fill="rgb(112,112,255)"/>
<rect x="574.00" y="129.67" width="30.30" height="1.38" fill="rgb(128,128,255)"/>
<rect x="574.00" y="130.90" width="30.30" height="2.20" fill="rgb(113,113,255)"/>
<rect x="574.00" y="132.95" width="30.30" height="0.56" fill="rgb(112,112,255)"/>
<rect x="574.00" y="133.36" width="30.30" height="0.97" fill="rgb(106,106,255)"/>
<rect x="574.00" y="134.18" width="30.30" height="1.79" fill="rgb(128,128,255)"/>
<rect x="574.00" y="135.82" width="30.30" height="0.56" fill="rgb(143,143,255)"/>
<rect x="574.00" y="136.23" width="30.30" height="0.97" fill="rgb(125,125,255)"/>
<rect x="574.00" y="137.05" width="30.30" height="0.56" fill="rgb(157,157,255)"/>
<rect x="574.00" y="137.46" width="30.30" height="0.56" fill="rgb(145,145,255)"/>
<rect x="574.00" y="137.87" width="30.30" height="1.38" fill="rgb(144,144,255)"/>
<rect x="574.00" y="139.10" width="30.30" height="0.97" fill="rgb(97,97,255)"/>
<rect x="574.00" y="139.92" width="30.30" height="0.56" fill="rgb(159,159,255)"/>
<rect x="574.00" y="140.33" width="30.30" height="0.97" fill="rgb(127,127,255)"/>
<rect x="574.00" y="141.15" width="30.30" height="0.97" fill="rgb(97,97,255)"/>
<rect x="574.00" y="141.97" width="30.30" height="0.97" fill="rgb(125,125,255)"/>
<rect x="574.00" y="142.79" width="30.30" height="2.20" fill="rgb(125,125,255)"/>
<rect x="574.00" y="144.84" width="30.30" height="2.20" fill="rgb(142,142,255)"/>
<rect x="574.00" y="146.89" width="30.30" height="1.79" fill="rgb(123,123,255)"/>
<rect x="574.00" y="148.53" width="30.30" height="0.56" fill="rgb(140,140,255)"/>
<rect x="574.00" y="148.94" width="30.30" height="1.79" fill="rgb(148,148,255)"/>
<rect x="574.00" y="150.58" width="30.30" height="2.20" fill="rgb(176,176,255)"/>
<rect x="574.00" y="152.63" width="30.30" height="0.97" fill="rgb(183,183,255)"/>
<rect x="574.00" y="153.45" width="30.30" height="1.79" fill="rgb(135,135,255)"/>
<rect x="574.00" y="155.09" width="30.30" height="0.56" fill="rgb(149,149,255)"/>
<rect x="574.00" y="155.50" width="30.30" height="2.20" fill="rgb(111,111,255)"/>
<rect x="574.00" y="157.55" width="30.30" height="0.97" fill="rgb(144,144,255)"/>
<rect x="574.00" y="158.37" width="30.30" height="2.20" fill="rgb(129,129,255)"/>
<rect x="574.00" y="160.42" width="30.30" height="0.97" fill="rgb(136,136,255)"/>
<rect x="574.00" y="161.24" width="30.30" height="2.20" fill="rgb(154,154,255)"/>
<rect x="574.00" y="163.29" width="30.30" height="0.56" fill="rgb(167,167,255)"/>
<rect x="574.00" y="163.70" width="30.30" height="0.97" fill="rgb(133,133,255)"/>
<rect x="574.00" y="164.52" width="30.30" height="2.20" fill="rgb(123,123,255)"/>
<rect x="574.00" y="166.57" width="30.30" height="0.97" fill="rgb(194,194,255)"/>
<rect x="574.00" y="167.39" width="30.30" height="1.79" fill="rgb(251,251,255)"/>
<rect x="574.00" y="169.03" width="30.30" height="0.56" fill="rgb(178,178,255)"/>
<rect x="574.00" y="169.44" width="30.30" height="0.56" fill="rgb(216,216,255)"/>
<rect x="574.00" y="169.85" width="30.30" height="0.97" fill="rgb(232,232,255)"/>
<rect x="574.00" y="170.67" width="30.30" height="0.97" fill="rgb(216,216,255)"/>
<rect x="574.00" y="171.49" width="30.30" height="2.20" fill="rgb(255,101,101)"/>
<rect x="574.00" y="173.54" width="30.30" height="2.20" fill="rgb(255,251,251)"/>
<rect x="574.00" y="175.59" width="30.30" height="1.79" fill="rgb(255,219,219)"/>
<rect x="574.00" y="177.23" width="30.30" height="0.56" fill="rgb(255,249,249)"/>
<rect x="574.00" y="177.64" width="30.30" height="0.97" fill="rgb(233,233,255)"/>
<rect x="574.00" y="178.46" width="30.30" height="2.20" fill="rgb(245,245,255)"/>
<rect x="574.00" y="180.51" width="30.30" height="2.20" fill="rgb(255,238,238)"/>
<rect x="574.00" y="182.56" width="30.30" height="2.20" fill="rgb(255,234,234)"/>
<rect x="574.00" y="184.61" width="30.30" height="0.97" fill="rgb(255,248,248)"/>
<rect x="574.00" y="185.43" width="30.30" height="1.79" fill="rgb(255,236,236)"/>
<rect x="574.00" y="187.07" width="30.30" height="1.79" fill="rgb(255,255,255)"/>
<rect x="574.00" y="188.71" width="30.30" height="0.97" fill="rgb(255,210,210)"/>
<rect x="574.00" y="189.53" width="30.30" height="0.97" fill="rgb(255,239,239)"/>
<rect x="574.00" y="190.35" width="30.30" height="2.20" fill="rgb(255,63,63)"/>
<rect x="574.00" y="192.40" width="30.30" height="1.38" fill="rgb(255,78,78)"/>
<rect x="574.00" y="193.63" width="30.30" height="2.20" fill="rgb(255,68,68)"/>
<rect x="574.00" y="195.68" width="30.30" height="0.97" fill="rgb(255,69,69)"/>
<rect x="574.00" y="196.50" width="30.30" height="0.97" fill="rgb(255,105,105)"/>
<rect x="574.00" y="197.32" width="30.30" height="0.56" fill="rgb(255,70,70)"/>
<rect x="574.00" y="197.73" width="30.30" height="1.79" fill="rgb(255,80,80)"/>
<rect x="574.00" y="199.37" width="30.30" height="0.56" fill="rgb(255,120,120)"/>
<rect x="574.00" y="199.78" width="30.30" height="0.97" fill="rgb(255,156,156)"/>
<rect x="574.00" y="200.60" width="30.30" height="0.56" fill="rgb(255,147,147)"/>
<rect x="574.00" y="201.01" width="30.30" height="0.97" fill="rgb(255,178,178)"/>
<rect x="574.00" y="201.83" width="30.30" height="0.97" fill="rgb(255,158,158)"/>
<rect x="574.00" y="202.65" width="30.30" height="0.97" fill="rgb(255,150,150)"/>
<rect x="574.00" y="203.47" width="30.30" height="0.97" fill="rgb(255,170,170)"/>
<rect x="574.00" y="204.29" width="30.30" height="0.56" fill="rgb(255,175,175)"/>
<rect x="574.00" y="204.70" width="30.30" height="0.56" fill="rgb(255,156,156)"/>
<rect x="574.00" y="205.11" width="30.30" height="0.56" fill="rgb(255,138,138)"/>
<rect x="574.00" y="205.52" width="30.30" height="0.97" fill="rgb(255,171,171)"/>
<rect x="574.00" y="206.34" width="30.30" height="2.20" fill="rgb(255,192,192)"/>
<rect x="574.00" y="208.39" width="30.30" height="0.56" fill="rgb(255,206,206)"/>
<rect x="574.00" y="208.80" width="30.30" height="1.38" fill="rgb(255,205,205)"/>
<rect x="574.00" y="210.03" width="30.30" height="0.97" fill="rgb(255,176,176)"/>
<rect x="574.00" y="210.85" width="30.30" height="0.56" fill="rgb(255,217,217)"/>
<rect x="574.00" y="211.26" width="30.30" height="0.97" fill="rgb(255,150,150)"/>
<rect x="574.00" y="212.08" width="30.30" height="1.38" fill="rgb(255,167,167)"/>
<rect x="574.00" y="213.31" width="30.30" height="1.38" fill="rgb(255,220,220)"/>
<rect x="574.00" y="214.54" width="30.30" height="0.97" fill="rgb(255,182,182)"/>
<rect x="574.00" y="215.36" width="30.30" height="2.20" fill="rgb(255,149,149)"/>
<rect x="574.00" y="217.41" width="30.30" height="0.97" fill="rgb(255,185,185)"/>
<rect x="574.00" y="218.23" width="30.30" height="0.97" fill="rgb(255,195,195)"/>
<rect x="574.00" y="219.05" width="30.30" height="0.97" fill="rgb(255,211,211)"/>
<rect x="574.00" y="219.87" width="30.30" height="1.79" fill="rgb(255,188,188)"/>
<rect x="574.00" y="221.51" width="30.30" height="1.38" fill="rgb(255,125,125)"/>
<rect x="574.00" y="222.74" width="30.30" height="1.38" fill="rgb(255,181,181)"/>
<rect x="574.00" y="223.97" width="30.30" height="0.97" fill="rgb(255,157,157)"/>
<rect x="574.00" y="224.79" width="30.30" height="0.56" fill="rgb(255,151,151)"/>
<rect x="574.00" y="225.20" width="30.30" height="1.38" fill="rgb(255,130,130)"/>
<rect x="574.00" y="226.43" width="30.30" height="0.56" fill="rgb(255,134,134)"/>
<rect x="574.00" y="226.84" width="30.30" height="1.38" fill="rgb(255,126,126)"/>
<rect x="574.00" y="228.07" width="30.30" height="0.97" fill="rgb(255,121,121)"/>
<rect x="574.00" y="228.89" width="30.30" height="2.20" fill="rgb(255,146,146)"/>
<rect x="574.00" y="230.94" width="30.30" height="0.97" fill="rgb(255,170,170)"/>
<rect x="574.00" y="231.76" width="30.30" height="0.97" fill="rgb(255,137,137)"/>
<rect x="574.00" y="232.58" width="30.30" height="1.79" fill="rgb(255,168,168)"/>
<rect x="574.00" y="234.22" width="30.30" height="0.56" fill="rgb(255,160,160)"/>
<rect x="574.00" y="234.63" width="30.30" height="0.56" fill="rgb(255,135,135)"/>
<rect x="574.00" y="235.04" width="30.30" height="0.97" fill="rgb(255,135,135)"/>
<rect x="574.00" y="235.86" width="30.30" height="0.56" fill="rgb(255,127,127)"/>
<rect x="574.00" y="236.27" width="30.30" height="1.38" fill="rgb(255,127,127)"/>
<rect x="574.00" y="237.50" width="30.30" height="1.79" fill="rgb(255,134,134)"/>
<rect x="574.00" y="239.14" width="30.30" height="1.38" fill="rgb(255,149,149)"/>
<rect x="574.00" y="240.37" width="30.30" height="0.97" fill="rgb(255,85,85)"/>
<rect x="574.00" y="241.19" width="30.30" height="0.97" fill="rgb(255,118,118)"/>
<rect x="574.00" y="242.01" width="30.30" height="0.97" fill="rgb(255,103,103)"/>
<rect x="574.00" y="242.83" width="30.30" height="2.20" fill="rgb(255,106,106)"/>
<rect x="574.00" y="244.88" width="30.30" height="1.38" fill="rgb(255,113,113)"/>
<rect x="574.00" y="246.11" width="30.30" height="0.97" fill="rgb(255,60,60)"/>
<rect x="574.00" y="246.93" width="30.30" height="0.56" fill="rgb(255,81,81)"/>
<rect x="574.00" y="247.34" width="30.30" height="0.56" fill="rgb(255,69,69)"/>
<rect x="574.00" y="247.75" width="30.30" height="0.56" fill="rgb(255,82,82)"/>
<rect x="574.00" y="248.16" width="30.30" height="0.97" fill="rgb(255,0,0)"/>
<rect x="574.00" y="248.98" width="30.30" height="0.97" fill="rgb(255,0,0)"/>
<rect x="574.00" y="249.80" width="30.30" height="1.38" fill="rgb(255,0,0)"/>
<rect x="574.00" y="251.03" width="30.30" height="2.20" fill="rgb(255,0,0)"/>
<rect x="574.00" y="253.08" width="30.30" height="1.79" fill="rgb(255,13,13)"/>
<rect x="574.00" y="254.72" width="30.30" height="0.97" fill="rgb(255,0,0)"/>
<rect x="574.00" y="255.54" width="30.30" height="1.79" fill="rgb(255,0,0)"/>
<rect x="574.00" y="257.18" width="30.30" height="0.56" fill="rgb(255,0,0)"/>
<rect x="574.00" y="257.59" width="30.30" height="2.20" fill="rgb(255,0,0)"/>
<rect x="574.00" y="259.64" width="30.30" height="0.97" fill="rgb(255,4,4)"/>
<rect x="574.00" y="260.46" width="30.30" height="1.79" fill="rgb(255,19,19)"/>
<rect x="574.00" y="262.10" width="30.30" height="0.97" fill="rgb(255,0,0)"/>
<rect x="574.00" y="262.92" width="30.30" height="0.56" fill="rgb(255,0,0)"/>
<rect x="574.00" y="263.33" width="30.30" height="0.97" fill="rgb(255,16,16)"/>
<rect x="574.00" y="264.15" width="30.30" height="0.56" fill="rgb(255,1,1)"/>
<rect x="574.00" y="264.56" width="30.30" height="0.97" fill="rgb(255,0,0)"/>
<rect x="574.00" y="265.38" width="30.30" height="0.97" fill="rgb(255,0,0)"/>
<rect x="574.00" y="266.20" width="30.30" height="0.97" fill="rgb(255,0,0)"/>
<rect x="574.00" y="267.02" width="30.30" height="2.20" fill="rgb(255,0,0)"/>
<rect x="574.00" y="269.07" width="30.30" height="0.97" fill="rgb(255,0,0)"/>
<rect x="574.00" y="269.89" width="30.30" height="1.79" fill="rgb(255,26,26)"/>
<rect x="574.00" y="271.53" width="30.30" height="0.97" fill="rgb(255,0,0)"/>
<rect x="574.00" y="272.35" width="30.30" height="1.79" fill="rgb(255,16,16)"/>
<rect x="574.00" y="273.99" width="30.30" height="2.20" fill="rgb(255,0,0)"/>
<rect x="574.00" y="276.04" width="30.30" height="2.20" fill="rgb(255,0,0)"/>
<rect x="574.00" y="278.09" width="30.30" height="0.56" fill="rgb(255,4,4)"/>
<rect x="574.00" y="278.50" width="30.30" height="1.79" fill="rgb(255,0,0)"/>
<rect x="574.00" y="280.14" width="30.30" height="1.38" fill="rgb(255,0,0)"/>
<rect x="574.00" y="281.37" width="30.30" height="1.38" fill="rgb(255,3,3)"/>
<rect x="574.00" y="282.60" width="30.30" height="0.97" fill="rgb(255,11,11)"/>
<rect x="574.00" y="283.42" width="30.30" height="0.56" fill="rgb(255,0,0)"/>
<rect x="574.00" y="283.83" width="30.30" height="2.20" fill="rgb(255,0,0)"/>
<rect x="574.00" y="285.88" width="30.30" height="0.56" fill="rgb(255,39,39)"/>
<rect x="574.00" y="286.29" width="30.30" height="0.97" fill="rgb(255,0,0)"/>
<rect x="574.00" y="287.11" width="30.30" height="1.38" fill="rgb(255,0,0)"/>
<rect x="574.00" y="288.34" width="30.30" height="0.97" fill="rgb(255,0,0)"/>
<rect x="574.00" y="289.16" width="30.30" height="0.97" fill="rgb(255,0,0)"/>
<rect x="574.00" y="289.98" width="30.30" height="1.38" fill="rgb(255,2,2)"/>
<rect x="574.00" y="291.21" width="30.30" height="0.97" fill="rgb(255,0,0)"/>
<rect x="574.00" y="292.03" width="30.30" height="0.56" fill="rgb(255,0,0)"/>
<rect x="574.00" y="292.44" width="30.30" height="1.79" fill="rgb(255,0,0)"/>
<rect x="574.00" y="294.08" width="30.30" height="1.38" fill="rgb(255,0,0)"/>
<rect x="574.00" y="295.31" width="30.30" height="0.56" fill="rgb(255,0,0)"/>
<rect x="574.00" y="295.72" width="30.30" height="0.97" fill="rgb(255,20,20)"/>
<rect x="574.00" y="296.54" width="30.30" height="0.56" fill="rgb(255,13,13)"/>
<rect x="574.00" y="296.95" width="30.30" height="2.20" fill="rgb(255,3,3)"/>
<rect x="574.00" y="299.00" width="30.30" height="0.97" fill="rgb(255,0,0)"/>
<rect x="574.00" y="299.82" width="30.30" height="0.97" fill="rgb(255,12,12)"/>
<rect x="574.00" y="300.64" width="30.30" height="0.97" fill="rgb(255,0,0)"/>
<rect x="574.00" y="301.46" width="30.30" height="1.38" fill="rgb(255,11,11)"/>
<rect x="574.00" y="302.69" width="30.30" height="0.56" fill="rgb(255,0,0)"/>
<rect x="574.00" y="303.10" width="30.30" height="2.20" fill="rgb(255,0,0)"/>
<rect x="574.00" y="305.15" width="30.30" height="1.38" fill="rgb(255,1,1)"/>
<rect x="574.00" y="306.38" width="30.30" height="0.56" fill="rgb(255,0,0)"/>
<rect x="574.00" y="306.79" width="30.30" height="0.97" fill="rgb(255,0,0)"/>
<rect x="574.00" y="307.61" width="30.30" height="0.97" fill="rgb(255,5,5)"/>
<rect x="574.00" y="308.43" width="30.30" height="0.97" fill="rgb(255,0,0)"/>
<rect x="574.00" y="309.25" width="30.30" height="0.97" fill="rgb(255,0,0)"/>
<rect x="574.00" y="310.07" width="30.30" height="1.79" fill="rgb(255,29,29)"/>
<rect x="574.00" y="311.71" width="30.30" height="0.97" fill="rgb(255,0,0)"/>
<rect x="574.00" y="312.53" width="30.30" height="1.79" fill="rgb(255,0,0)"/>
<rect x="574.00" y="314.17" width="30.30" height="0.97" fill="rgb(255,0,0)"/>
<rect x="574.00" y="314.99" width="30.30" height="0.97" fill="rgb(255,45,45)"/>
<rect x="574.00" y="315.81" width="30.30" height="1.38" fill="rgb(255,0,0)"/>
<rect x="574.00" y="317.04" width="30.30" height="0.56" fill="rgb(255,0,0)"/>
<rect x="574.00" y="317.45" width="30.30" height="2.20" fill="rgb(255,0,0)"/>
<rect x="574.00" y="319.50" width="30.30" height="0.56" fill="rgb(255,0,0)"/>
<rect x="574.00" y="319.91" width="30.30" height="1.79" fill="rgb(255,0,0)"/>
<rect x="574.00" y="321.55" width="30.30" height="0.56" fill="rgb(255,0,0)"/>
<rect x="574.00" y="321.96" width="30.30" height="0.97" fill="rgb(255,21,21)"/>
<rect x="574.00" y="322.78" width="30.30" height="1.79" fill="rgb(255,0,0)"/>
<rect x="574.00" y="324.42" width="30.30" height="1.38" fill="rgb(255,0,0)"/>
<rect x="574.00" y="325.65" width="30.30" height="1.38" fill="rgb(255,0,0)"/>
<rect x="574.00" y="326.88" width="30.30" height="1.79" fill="rgb(255,0,0)"/>
<rect x="574.00" y="328.52" width="30.30" height="0.97" fill="rgb(255,0,0)"/>
<rect x="574.00" y="329.34" width="30.30" height="2.20" fill="rgb(255,0,0)"/>
<rect x="574.00" y="331.39" width="30.30" height="2.20" fill="rgb(255,0,0)"/>
<rect x="574.00" y="333.44" width="30.30" height="0.56" fill="rgb(255,0,0)"/>
<rect x="574.00" y="333.85" width="30.30" height="0.56" fill="rgb(255,0,0)"/>
<rect x="574.00" y="334.26" width="30.30" height="1.39" fill="rgb(255,0,0)"/>
<rect x="424.00" y="32.0" width="30.30" height="7.0" fill="#fe8b82"/>
<rect x="454.00" y="32.0" width="30.30" height="7.0" fill="#fe8b82"/>
<rect x="484.00" y="32.0" width="30.30" height="7.0" fill="#00d4dc"/>
<rect x="514.00" y="32.0" width="30.30" height="7.0" fill="#fe8b82"/>
<rect x="544.00" y="32.0" width="30.30" height="7.0" fill="#00d4dc"/>
<rect x="574.00" y="32.0" width="30.30" height="7.0" fill="#00d4dc"/>
<path d="M439.00 31.30L439.00 19.40M469.00 31.30L469.00 19.40M439.00 19.40L469.00 19.40M454.00 19.40L454.00 19.40M499.00 31.30L499.00 19.40M454.00 19.40L499.00 19.40M476.50 19.40L476.50 15.50M529.00 31.30L529.00 15.50M476.50 15.50L529.00 15.50M559.00 31.30L559.00 17.10M589.00 31.30L589.00 17.10M559.00 17.10L589.00 17.10M502.75 15.50L502.75 1.10M574.00 17.10L574.00 1.10M502.75 1.10L574.00 1.10" fill="none" stroke="#505050" stroke-width="1.0"/>
<path d="M423.13 40.91L423.13 41.32M423.13 40.91L424.00 40.91M423.13 41.32L424.00 41.32M423.21 41.73L423.21 42.14M423.21 41.73L424.00 41.73M423.21 42.14L424.00 42.14M422.90 41.11L422.90 41.93M422.90 41.11L423.13 41.11M422.90 41.93L423.21 41.93M423.29 42.55L423.29 42.96M423.29 42.55L424.00 42.55M423.29 42.96L424.00 42.96M423.25 43.37L423.25 43.78M423.25 43.37L424.00 43.37M423.25 43.78L424.00 43.78M423.06 42.75L423.06 43.57M423.06 42.75L423.29 42.75M423.06 43.57L423.25 43.57M422.47 41.52L422.47 43.16M422.47 41.52L422.90 41.52M422.47 43.16L423.06 43.16M423.31 44.19L423.31 44.60M423.31 44.19L424.00 44.19M423.31 44.60L424.00 44.60M423.38 45.42L423.38 45.83M423.38 45.42L424.00 45.42M423.38 45.83L424.00 45.83M423.18 45.01L423.18 45.62M423.18 45.01L424.00 45.01M423.18 45.62L423.38 45.62M422.53 44.39L422.53 45.31M422.53 44.39L423.31 44.39M422.53 45.31L423.18 45.31M421.59 44.85L421.59 46.24M421.59 44.85L422.53 44.85M421.59 46.24L424.00 46.24M420.83 42.34L420.83 45.54M420.83 42.34L422.47 42.34M420.83 45.54L421.59 45.54M423.57 46.65L423.57 47.06M423.57 46.65L424.00 46.65M423.57 47.06L424.00 47.06M423.63 47.47L423.63 47.88M423.63 47.47L424.00 47.47M423.63 47.88L424.00 47.88M423.33 46.85L423.33 47.67M423.33 46.85L423.57 46.85M423.33 47.67L423.63 47.67M423.70 48.70L423.70 49.11M423.70 48.70L424.00 48.70M423.70 49.11L424.00 49.11M423.59 48.90L423.59 49.52M423.59 48.90L423.70 48.90M423.59 49.52L424.00 49.52M423.44 48.29L423.44 49.21M423.44 48.29L424.00 48.29M423.44 49.21L423.59 49.21M423.50 49.93L423.50 50.34M423.50 49.93L424.00 49.93M423.50 50.34L424.00 50.34M423.17 48.75L423.17 50.13M423.17 48.75L423.44 48.75M423.17 50.13L423.50 50.13M422.69 47.26L422.69 49.44M422.69 47.26L423.33 47.26M422.69 49.44L423.17 49.44M423.54 50.75L423.54 51.16M423.54 50.75L424.00 50.75M423.54 51.16L424.00 51.16M423.80 51.98L423.80 52.39M423.80 51.98L424.00 51.98M423.80 52.39L424.00 52.39M423.73 51.57L423.73 52.18M423.73 51.57L424.00 51.57M423.73 52.18L423.80 52.18M423.83 53.21L423.83 53.62M423.83 53.21L424.00 53.21M423.83 53.62L424.00 53.62M423.73 52.80L423.73 53.41M423.73 52.80L424.00 52.80M423.73 53.41L423.83 53.41M423.60 51.87L423.60 53.10M423.60 51.87L423.73 51.87M423.60 53.10L423.73 53.10M423.33 50.95L423.33 52.49M423.33 50.95L423.54 50.95M423.33 52.49L423.60 52.49M423.74 54.03L423.74 54.44M423.74 54.03L424.00 54.03M423.74 54.44L424.00 54.44M423.60 54.23L423.60 54.85M423.60 54.23L423.74 54.23M423.60 54.85L424.00 54.85M423.14 51.72L423.14 54.54M423.14 51.72L423.33 51.72M423.14 54.54L423.60 54.54M423.92 55.26L423.92 55.67M423.92 55.26L424.00 55.26M423.92 55.67L424.00 55.67M423.96 56.08L423.96 56.49M423.96 56.08L424.00 56.08M423.96 56.49L424.00 56.49M423.93 56.28L423.93 56.90M423.93 56.28L423.96 56.28M423.93 56.90L424.00 56.90M423.90 56.59L423.90 57.31M423.90 56.59L423.93 56.59M423.90 57.31L424.00 57.31M423.85 55.46L423.85 56.95M423.85 55.46L423.92 55.46M423.85 56.95L423.90 56.95M423.94 57.72L423.94 58.13M423.94 57.72L424.00 57.72M423.94 58.13L424.00 58.13M423.87 57.92L423.87 58.54M423.87 57.92L423.94 57.92M423.87 58.54L424.00 58.54M423.80 56.20L423.80 58.23M423.80 56.20L423.85 56.20M423.80 58.23L423.87 58.23M423.87 58.95L423.87 59.36M423.87 58.95L424.00 58.95M423.87 59.36L424.00 59.36M423.93 59.77L423.93 60.18M423.93 59.77L424.00 59.77M423.93 60.18L424.00 60.18M423.88 59.97L423.88 60.59M423.88 59.97L423.93 59.97M423.88 60.59L424.00 60.59M423.76 59.15L423.76 60.28M423.76 59.15L423.87 59.15M423.76 60.28L423.88 60.28M423.58 57.22L423.58 59.71M423.58 57.22L423.80 57.22M423.58 59.71L423.76 59.71M423.88 61.00L423.88 61.41M423.88 61.00L424.00 61.00M423.88 61.41L424.00 61.41M423.84 61.20L423.84 61.82M423.84 61.20L423.88 61.20M423.84 61.82L424.00 61.82M423.94 62.64L423.94 63.05M423.94 62.64L424.00 62.64M423.94 63.05L424.00 63.05M423.89 62.23L423.89 62.84M423.89 62.23L424.00 62.23M423.89 62.84L423.94 62.84M423.81 62.53L423.81 63.46M423.81 62.53L423.89 62.53M423.81 63.46L424.00 63.46M423.67 61.51L423.67 62.99M423.67 61.51L423.84 61.51M423.67 62.99L423.81 62.99M423.97 64.28L423.97 64.69M423.97 64.28L424.00 64.28M423.97 64.69L424.00 64.69M423.97 65.10L423.97 65.51M423.97 65.10L424.00 65.10M423.97 65.51L424.00 65.51M423.94 64.48L423.94 65.30M423.94 64.48L423.97 64.48M423.94 65.30L423.97 65.30M423.88 63.87L423.88 64.89M423.88 63.87L424.00 63.87M423.88 64.89L423.94 64.89M423.80 64.38L423.80 65.92M423.80 64.38L423.88 64.38M423.80 65.92L424.00 65.92M423.84 66.33L423.84 66.74M423.84 66.33L424.00 66.33M423.84 66.74L424.00 66.74M423.65 65.15L423.65 66.53M423.65 65.15L423.80 65.15M423.65 66.53L423.84 66.53M423.37 62.25L423.37 65.84M423.37 62.25L423.67 62.25M423.37 65.84L423.65 65.84M423.17 58.47L423.17 64.05M423.17 58.47L423.58 58.47M423.17 64.05L423.37 64.05M422.41 53.13L422.41 61.26M422.41 53.13L423.14 53.13M422.41 61.26L423.17 61.26M421.66 48.35L421.66 57.19M421.66 48.35L422.69 48.35M421.66 57.19L422.41 57.19M419.03 43.94L419.03 52.77M419.03 43.94L420.83 43.94M419.03 52.77L421.66 52.77M423.17 67.15L423.17 67.56M423.17 67.15L424.00 67.15M423.17 67.56L424.00 67.56M423.10 67.97L423.10 68.38M423.10 67.97L424.00 67.97M423.10 68.38L424.00 68.38M422.85 67.35L422.85 68.17M422.85 67.35L423.17 67.35M422.85 68.17L423.10 68.17M422.44 68.79L422.44 69.20M422.44 68.79L424.00 68.79M422.44 69.20L424.00 69.20M422.02 67.76L422.02 68.99M422.02 67.76L422.85 67.76M422.02 68.99L422.44 68.99M422.79 69.61L422.79 70.02M422.79 69.61L424.00 69.61M422.79 70.02L424.00 70.02M422.97 71.25L422.97 71.66M422.97 71.25L424.00 71.25M422.97 71.66L424.00 71.66M422.66 70.84L422.66 71.45M422.66 70.84L424.00 70.84M422.66 71.45L422.97 71.45M422.00 70.43L422.00 71.14M422.00 70.43L424.00 70.43M422.00 71.14L422.66 71.14M421.49 69.81L421.49 70.78M421.49 69.81L422.79 69.81M421.49 70.78L422.00 70.78M420.54 68.38L420.54 70.30M420.54 68.38L422.02 68.38M420.54 70.30L421.49 70.30M423.42 72.48L423.42 72.89M423.42 72.48L424.00 72.48M423.42 72.89L424.00 72.89M423.04 72.07L423.04 72.68M423.04 72.07L424.00 72.07M423.04 72.68L423.42 72.68M422.88 73.30L422.88 73.71M422.88 73.30L424.00 73.30M422.88 73.71L424.00 73.71M422.33 72.37L422.33 73.50M422.33 72.37L423.04 72.37M422.33 73.50L422.88 73.50M421.87 74.12L421.87 74.53M421.87 74.12L424.00 74.12M421.87 74.53L424.00 74.53M420.74 72.94L420.74 74.32M420.74 72.94L422.33 72.94M420.74 74.32L421.87 74.32M419.62 69.34L419.62 73.63M419.62 69.34L420.54 69.34M419.62 73.63L420.74 73.63M414.81 48.36L414.81 71.48M414.81 48.36L419.03 48.36M414.81 71.48L419.62 71.48M423.26 74.94L423.26 75.35M423.26 74.94L424.00 74.94M423.26 75.35L424.00 75.35M422.47 75.14L422.47 75.76M422.47 75.14L423.26 75.14M422.47 75.76L424.00 75.76M422.47 76.17L422.47 76.58M422.47 76.17L424.00 76.17M422.47 76.58L424.00 76.58M423.35 77.40L423.35 77.81M423.35 77.40L424.00 77.40M423.35 77.81L424.00 77.81M422.99 76.99L422.99 77.60M422.99 76.99L424.00 76.99M422.99 77.60L423.35 77.60M421.77 76.37L421.77 77.29M421.77 76.37L422.47 76.37M421.77 77.29L422.99 77.29M420.66 75.45L420.66 76.83M420.66 75.45L422.47 75.45M420.66 76.83L421.77 76.83M421.73 78.22L421.73 78.63M421.73 78.22L424.00 78.22M421.73 78.63L424.00 78.63M422.77 79.45L422.77 79.86M422.77 79.45L424.00 79.45M422.77 79.86L424.00 79.86M422.05 79.04L422.05 79.65M422.05 79.04L424.00 79.04M422.05 79.65L422.77 79.65M423.44 80.68L423.44 81.09M423.44 80.68L424.00 80.68M423.44 81.09L424.00 81.09M423.43 81.50L423.43 81.91M423.43 81.50L424.00 81.50M423.43 81.91L424.00 81.91M423.18 80.88L423.18 81.70M423.18 80.88L423.44 80.88M423.18 81.70L423.43 81.70M422.82 80.27L422.82 81.29M422.82 80.27L424.00 80.27M422.82 81.29L423.18 81.29M421.39 79.34L421.39 80.78M421.39 79.34L422.05 79.34M421.39 80.78L422.82 80.78M420.29 78.42L420.29 80.06M420.29 78.42L421.73 78.42M420.29 80.06L421.39 80.06M418.86 76.14L418.86 79.24M418.86 76.14L420.66 76.14M418.86 79.24L420.29 79.24M423.69 82.32L423.69 82.73M423.69 82.32L424.00 82.32M423.69 82.73L424.00 82.73M423.58 82.52L423.58 83.14M423.58 82.52L423.69 82.52M423.58 83.14L424.00 83.14M423.36 82.83L423.36 83.55M423.36 82.83L423.58 82.83M423.36 83.55L424.00 83.55M423.55 83.96L423.55 84.37M423.55 83.96L424.00 83.96M423.55 84.37L424.00 84.37M423.31 84.16L423.31 84.78M423.31 84.16L423.55 84.16M423.31 84.78L424.00 84.78M422.90 83.19L422.90 84.47M422.90 83.19L423.36 83.19M422.90 84.47L423.31 84.47M423.39 85.19L423.39 85.60M423.39 85.19L424.00 85.19M423.39 85.60L424.00 85.60M423.37 86.01L423.37 86.42M423.37 86.01L424.00 86.01M423.37 86.42L424.00 86.42M422.99 85.39L422.99 86.21M422.99 85.39L423.39 85.39M422.99 86.21L423.37 86.21M422.31 83.83L422.31 85.80M422.31 83.83L422.90 83.83M422.31 85.80L422.99 85.80M423.47 87.24L423.47 87.65M423.47 87.24L424.00 87.24M423.47 87.65L424.00 87.65M422.85 86.83L422.85 87.44M422.85 86.83L424.00 86.83M422.85 87.44L423.47 87.44M421.80 87.13L421.80 88.06M421.80 87.13L422.85 87.13M421.80 88.06L424.00 88.06M421.23 84.81L421.23 87.60M421.23 84.81L422.31 84.81M421.23 87.60L421.80 87.60M423.80 88.47L423.80 88.88M423.80 88.47L424.00 88.47M423.80 88.88L424.00 88.88M423.74 88.67L423.74 89.29M423.74 88.67L423.80 88.67M423.74 89.29L424.00 89.29M423.84 89.70L423.84 90.11M423.84 89.70L424.00 89.70M423.84 90.11L424.00 90.11M423.71 89.90L423.71 90.52M423.71 89.90L423.84 89.90M423.71 90.52L424.00 90.52M423.60 88.98L423.60 90.21M423.60 88.98L423.74 88.98M423.60 90.21L423.71 90.21M423.70 90.93L423.70 91.34M423.70 90.93L424.00 90.93M423.70 91.34L424.00 91.34M423.87 91.75L423.87 92.16M423.87 91.75L424.00 91.75M423.87 92.16L424.00 92.16M423.78 91.95L423.78 92.57M423.78 91.95L423.87 91.95M423.78 92.57L424.00 92.57M423.61 91.13L423.61 92.26M423.61 91.13L423.70 91.13M423.61 92.26L423.78 92.26M423.90 93.39L423.90 93.80M423.90 93.39L424.00 93.39M423.90 93.80L424.00 93.80M423.82 92.98L423.82 93.59M423.82 92.98L424.00 92.98M423.82 93.59L423.90 93.59M423.71 93.28L423.71 94.21M423.71 93.28L423.82 93.28M423.71 94.21L424.00 94.21M423.38 91.70L423.38 93.75M423.38 91.70L423.61 91.70M423.38 93.75L423.71 93.75M423.17 89.59L423.17 92.72M423.17 89.59L423.60 89.59M423.17 92.72L423.38 92.72M423.61 95.44L423.61 95.85M423.61 95.44L424.00 95.44M423.61 95.85L424.00 95.85M423.38 95.64L423.38 96.26M423.38 95.64L423.61 95.64M423.38 96.26L424.00 96.26M423.13 95.03L423.13 95.95M423.13 95.03L424.00 95.03M423.13 95.95L423.38 95.95M422.87 94.62L422.87 95.49M422.87 94.62L424.00 94.62M422.87 95.49L423.13 95.49M422.50 91.16L422.50 95.05M422.50 91.16L423.17 91.16M422.50 95.05L422.87 95.05M423.11 96.67L423.11 97.08M423.11 96.67L424.00 96.67M423.11 97.08L424.00 97.08M423.91 98.72L423.91 99.13M423.91 98.72L424.00 98.72M423.91 99.13L424.00 99.13M423.88 98.31L423.88 98.92M423.88 98.31L424.00 98.31M423.88 98.92L423.91 98.92M423.79 97.90L423.79 98.61M423.79 97.90L424.00 97.90M423.79 98.61L423.88 98.61M423.68 97.49L423.68 98.26M423.68 97.49L424.00 97.49M423.68 98.26L423.79 98.26M423.72 99.54L423.72 99.95M423.72 99.54L424.00 99.54M423.72 99.95L424.00 99.95M423.44 97.87L423.44 99.74M423.44 97.87L423.68 97.87M423.44 99.74L423.72 99.74M422.81 96.87L422.81 98.81M422.81 96.87L423.11 96.87M422.81 98.81L423.44 98.81M421.93 93.10L421.93 97.84M421.93 93.10L422.50 93.10M421.93 97.84L422.81 97.84M419.67 86.21L419.67 95.47M419.67 86.21L421.23 86.21M419.67 95.47L421.93 95.47M415.13 77.69L415.13 90.84M415.13 77.69L418.86 77.69M415.13 90.84L419.67 90.84M407.00 59.92L407.00 84.26M407.00 59.92L414.81 59.92M407.00 84.26L415.13 84.26M420.43 100.36L420.43 100.77M420.43 100.36L424.00 100.36M420.43 100.77L424.00 100.77M418.66 101.18L418.66 101.59M418.66 101.18L424.00 101.18M418.66 101.59L424.00 101.59M417.32 100.56L417.32 101.38M417.32 100.56L420.43 100.56M417.32 101.38L418.66 101.38M421.69 102.41L421.69 102.82M421.69 102.41L424.00 102.41M421.69 102.82L424.00 102.82M420.91 102.00L420.91 102.61M420.91 102.00L424.00 102.00M420.91 102.61L421.69 102.61M422.01 103.23L422.01 103.64M422.01 103.23L424.00 103.23M422.01 103.64L424.00 103.64M423.26 104.46L423.26 104.87M423.26 104.46L424.00 104.46M423.26 104.87L424.00 104.87M423.02 104.05L423.02 104.66M423.02 104.05L424.00 104.05M423.02 104.66L423.26 104.66M422.25 104.35L422.25 105.28M422.25 104.35L423.02 104.35M422.25 105.28L424.00 105.28M421.22 103.43L421.22 104.82M421.22 103.43L422.01 103.43M421.22 104.82L422.25 104.82M419.85 102.30L419.85 104.12M419.85 102.30L420.91 102.30M419.85 104.12L421.22 104.12M415.51 100.97L415.51 103.21M415.51 100.97L417.32 100.97M415.51 103.21L419.85 103.21M419.33 105.69L419.33 106.10M419.33 105.69L424.00 105.69M419.33 106.10L424.00 106.10M422.25 106.51L422.25 106.92M422.25 106.51L424.00 106.51M422.25 106.92L424.00 106.92M420.81 106.71L420.81 107.33M420.81 106.71L422.25 106.71M420.81 107.33L424.00 107.33M422.80 108.15L422.80 108.56M422.80 108.15L424.00 108.15M422.80 108.56L424.00 108.56M421.72 107.74L421.72 108.35M421.72 107.74L424.00 107.74M421.72 108.35L422.80 108.35M422.39 108.97L422.39 109.38M422.39 108.97L424.00 108.97M422.39 109.38L424.00 109.38M420.48 108.04L420.48 109.17M420.48 108.04L421.72 108.04M420.48 109.17L422.39 109.17M418.98 107.02L418.98 108.61M418.98 107.02L420.81 107.02M418.98 108.61L420.48 108.61M417.51 105.89L417.51 107.81M417.51 105.89L419.33 105.89M417.51 107.81L418.98 107.81M419.06 109.79L419.06 110.20M419.06 109.79L424.00 109.79M419.06 110.20L424.00 110.20M422.65 111.43L422.65 111.84M422.65 111.43L424.00 111.43M422.65 111.84L424.00 111.84M421.95 111.02L421.95 111.63M421.95 111.02L424.00 111.02M421.95 111.63L422.65 111.63M420.90 110.61L420.90 111.32M420.90 110.61L424.00 110.61M420.90 111.32L421.95 111.32M417.62 109.99L417.62 110.97M417.62 109.99L419.06 109.99M417.62 110.97L420.90 110.97M415.26 106.85L415.26 110.48M415.26 106.85L417.51 106.85M415.26 110.48L417.62 110.48M412.91 102.09L412.91 108.67M412.91 102.09L415.51 102.09M412.91 108.67L415.26 108.67M421.96 112.25L421.96 112.66M421.96 112.25L424.00 112.25M421.96 112.66L424.00 112.66M420.55 112.45L420.55 113.07M420.55 112.45L421.96 112.45M420.55 113.07L424.00 113.07M422.34 113.48L422.34 113.89M422.34 113.48L424.00 113.48M422.34 113.89L424.00 113.89M423.06 114.71L423.06 115.12M423.06 114.71L424.00 114.71M423.06 115.12L424.00 115.12M422.15 114.30L422.15 114.91M422.15 114.30L424.00 114.30M422.15 114.91L423.06 114.91M421.24 113.68L421.24 114.61M421.24 113.68L422.34 113.68M421.24 114.61L422.15 114.61M419.47 112.76L419.47 114.14M419.47 112.76L420.55 112.76M419.47 114.14L421.24 114.14M421.68 115.94L421.68 116.35M421.68 115.94L424.00 115.94M421.68 116.35L424.00 116.35M420.99 115.53L420.99 116.14M420.99 115.53L424.00 115.53M420.99 116.14L421.68 116.14M422.37 116.76L422.37 117.17M422.37 116.76L424.00 116.76M422.37 117.17L424.00 117.17M422.48 117.58L422.48 117.99M422.48 117.58L424.00 117.58M422.48 117.99L424.00 117.99M421.92 116.96L421.92 117.78M421.92 116.96L422.37 116.96M421.92 117.78L422.48 117.78M422.90 118.40L422.90 118.81M422.90 118.40L424.00 118.40M422.90 118.81L424.00 118.81M421.73 118.60L421.73 119.22M421.73 118.60L422.90 118.60M421.73 119.22L424.00 119.22M421.08 117.37L421.08 118.91M421.08 117.37L421.92 117.37M421.08 118.91L421.73 118.91M418.32 115.84L418.32 118.14M418.32 115.84L420.99 115.84M418.32 118.14L421.08 118.14M416.62 113.45L416.62 116.99M416.62 113.45L419.47 113.45M416.62 116.99L418.32 116.99M422.03 119.63L422.03 120.04M422.03 119.63L424.00 119.63M422.03 120.04L424.00 120.04M420.45 119.83L420.45 120.45M420.45 119.83L422.03 119.83M420.45 120.45L424.00 120.45M421.10 120.86L421.10 121.27M421.10 120.86L424.00 120.86M421.10 121.27L424.00 121.27M417.78 120.14L417.78 121.06M417.78 120.14L420.45 120.14M417.78 121.06L421.10 121.06M413.99 115.22L413.99 120.60M413.99 115.22L416.62 115.22M413.99 120.60L417.78 120.60M405.50 105.38L405.50 117.91M405.50 105.38L412.91 105.38M405.50 117.91L413.99 117.91M398.90 72.09L398.90 111.65M398.90 72.09L407.00 72.09M398.90 111.65L405.50 111.65M422.27 121.68L422.27 122.09M422.27 121.68L424.00 121.68M422.27 122.09L424.00 122.09M423.28 122.50L423.28 122.91M423.28 122.50L424.00 122.50M423.28 122.91L424.00 122.91M423.02 122.70L423.02 123.32M423.02 122.70L423.28 122.70M423.02 123.32L424.00 123.32M422.21 123.01L422.21 123.73M422.21 123.01L423.02 123.01M422.21 123.73L424.00 123.73M421.34 121.88L421.34 123.37M421.34 121.88L422.27 121.88M421.34 123.37L422.21 123.37M422.40 124.55L422.40 124.96M422.40 124.55L424.00 124.55M422.40 124.96L424.00 124.96M420.67 124.14L420.67 124.75M420.67 124.14L424.00 124.14M420.67 124.75L422.40 124.75M418.31 122.63L418.31 124.45M418.31 122.63L421.34 122.63M418.31 124.45L420.67 124.45M423.82 125.78L423.82 126.19M423.82 125.78L424.00 125.78M423.82 126.19L424.00 126.19M423.74 125.98L423.74 126.60M423.74 125.98L423.82 125.98M423.74 126.60L424.00 126.60M423.64 125.37L423.64 126.29M423.64 125.37L424.00 125.37M423.64 126.29L423.74 126.29M423.84 127.01L423.84 127.42M423.84 127.01L424.00 127.01M423.84 127.42L424.00 127.42M423.75 127.21L423.75 127.83M423.75 127.21L423.84 127.21M423.75 127.83L424.00 127.83M423.51 127.52L423.51 128.24M423.51 127.52L423.75 127.52M423.51 128.24L424.00 128.24M423.27 125.83L423.27 127.88M423.27 125.83L423.64 125.83M423.27 127.88L423.51 127.88M423.44 128.65L423.44 129.06M423.44 128.65L424.00 128.65M423.44 129.06L424.00 129.06M423.07 126.85L423.07 128.85M423.07 126.85L423.27 126.85M423.07 128.85L423.44 128.85M423.54 129.47L423.54 129.88M423.54 129.47L424.00 129.47M423.54 129.88L424.00 129.88M423.60 130.29L423.60 130.70M423.60 130.29L424.00 130.29M423.60 130.70L424.00 130.70M423.19 129.67L423.19 130.49M423.19 129.67L423.54 129.67M423.19 130.49L423.60 130.49M422.89 130.08L422.89 131.11M422.89 130.08L423.19 130.08M422.89 131.11L424.00 131.11M422.58 127.85L422.58 130.60M422.58 127.85L423.07 127.85M422.58 130.60L422.89 130.60M423.16 132.34L423.16 132.75M423.16 132.34L424.00 132.34M423.16 132.75L424.00 132.75M422.74 131.93L422.74 132.54M422.74 131.93L424.00 131.93M422.74 132.54L423.16 132.54M422.16 131.52L422.16 132.24M422.16 131.52L424.00 131.52M422.16 132.24L422.74 132.24M421.60 129.22L421.60 131.88M421.60 129.22L422.58 129.22M421.60 131.88L422.16 131.88M423.62 133.16L423.62 133.57M423.62 133.16L424.00 133.16M423.62 133.57L424.00 133.57M423.39 133.36L423.39 133.98M423.39 133.36L423.62 133.36M423.39 133.98L424.00 133.98M423.46 134.39L423.46 134.80M423.46 134.39L424.00 134.39M423.46 134.80L424.00 134.80M423.09 133.67L423.09 134.59M423.09 133.67L423.39 133.67M423.09 134.59L423.46 134.59M423.31 135.62L423.31 136.03M423.31 135.62L424.00 135.62M423.31 136.03L424.00 136.03M423.02 135.21L423.02 135.82M423.02 135.21L424.00 135.21M423.02 135.82L423.31 135.82M422.39 134.13L422.39 135.52M422.39 134.13L423.09 134.13M422.39 135.52L423.02 135.52M422.51 136.44L422.51 136.85M422.51 136.44L424.00 136.44M422.51 136.85L424.00 136.85M420.88 134.82L420.88 136.64M420.88 134.82L422.39 134.82M420.88 136.64L422.51 136.64M418.91 130.55L418.91 135.73M418.91 130.55L421.60 130.55M418.91 135.73L420.88 135.73M416.46 123.54L416.46 133.14M416.46 123.54L418.31 123.54M416.46 133.14L418.91 133.14M423.02 137.67L423.02 138.08M423.02 137.67L424.00 137.67M423.02 138.08L424.00 138.08M422.28 137.26L422.28 137.87M422.28 137.26L424.00 137.26M422.28 137.87L423.02 137.87M421.92 138.49L421.92 138.90M421.92 138.49L424.00 138.49M421.92 138.90L424.00 138.90M421.40 137.57L421.40 138.69M421.40 137.57L422.28 137.57M421.40 138.69L421.92 138.69M422.34 139.31L422.34 139.72M422.34 139.31L424.00 139.31M422.34 139.72L424.00 139.72M420.37 138.13L420.37 139.51M420.37 138.13L421.40 138.13M420.37 139.51L422.34 139.51M423.42 140.95L423.42 141.36M423.42 140.95L424.00 140.95M423.42 141.36L424.00 141.36M422.91 140.54L422.91 141.15M422.91 140.54L424.00 140.54M422.91 141.15L423.42 141.15M421.76 140.13L421.76 140.85M421.76 140.13L424.00 140.13M421.76 140.85L422.91 140.85M420.91 140.49L420.91 141.77M420.91 140.49L421.76 140.49M420.91 141.77L424.00 141.77M419.01 138.82L419.01 141.13M419.01 138.82L420.37 138.82M419.01 141.13L420.91 141.13M422.29 142.18L422.29 142.59M422.29 142.18L424.00 142.18M422.29 142.59L424.00 142.59M423.25 143.00L423.25 143.41M423.25 143.00L424.00 143.00M423.25 143.41L424.00 143.41M422.38 143.20L422.38 143.82M422.38 143.20L423.25 143.20M422.38 143.82L424.00 143.82M421.37 142.38L421.37 143.51M421.37 142.38L422.29 142.38M421.37 143.51L422.38 143.51M421.09 144.23L421.09 144.64M421.09 144.23L424.00 144.23M421.09 144.64L424.00 144.64M418.67 142.95L418.67 144.43M418.67 142.95L421.37 142.95M418.67 144.43L421.09 144.43M414.15 139.97L414.15 143.69M414.15 139.97L419.01 139.97M414.15 143.69L418.67 143.69M411.54 128.34L411.54 141.83M411.54 128.34L416.46 128.34M411.54 141.83L414.15 141.83M423.08 145.05L423.08 145.46M423.08 145.05L424.00 145.05M423.08 145.46L424.00 145.46M423.52 146.28L423.52 146.69M423.52 146.28L424.00 146.28M423.52 146.69L424.00 146.69M423.38 146.48L423.38 147.10M423.38 146.48L423.52 146.48M423.38 147.10L424.00 147.10M423.16 145.87L423.16 146.79M423.16 145.87L424.00 145.87M423.16 146.79L423.38 146.79M422.35 145.25L422.35 146.33M422.35 145.25L423.08 145.25M422.35 146.33L423.16 146.33M423.35 147.51L423.35 147.92M423.35 147.51L424.00 147.51M423.35 147.92L424.00 147.92M422.63 147.71L422.63 148.33M422.63 147.71L423.35 147.71M422.63 148.33L424.00 148.33M421.12 145.79L421.12 148.02M421.12 145.79L422.35 145.79M421.12 148.02L422.63 148.02M422.26 149.56L422.26 149.97M422.26 149.56L424.00 149.56M422.26 149.97L424.00 149.97M420.90 149.15L420.90 149.76M420.90 149.15L424.00 149.15M420.90 149.76L422.26 149.76M419.74 148.74L419.74 149.46M419.74 148.74L424.00 148.74M419.74 149.46L420.90 149.46M417.82 146.91L417.82 149.10M417.82 146.91L421.12 146.91M417.82 149.10L419.74 149.10M421.76 150.38L421.76 150.79M421.76 150.38L424.00 150.38M421.76 150.79L424.00 150.79M422.12 151.20L422.12 151.61M422.12 151.20L424.00 151.20M422.12 151.61L424.00 151.61M420.65 150.58L420.65 151.40M420.65 150.58L421.76 150.58M420.65 151.40L422.12 151.40M421.12 152.02L421.12 152.43M421.12 152.02L424.00 152.02M421.12 152.43L424.00 152.43M421.60 152.84L421.60 153.25M421.60 152.84L424.00 152.84M421.60 153.25L424.00 153.25M420.20 152.22L420.20 153.04M420.20 152.22L421.12 152.22M420.20 153.04L421.60 153.04M418.99 150.99L418.99 152.63M418.99 150.99L420.65 150.99M418.99 152.63L420.20 152.63M416.06 148.00L416.06 151.81M416.06 148.00L417.82 148.00M416.06 151.81L418.99 151.81M421.84 153.66L421.84 154.07M421.84 153.66L424.00 153.66M421.84 154.07L424.00 154.07M422.20 154.48L422.20 154.89M422.20 154.48L424.00 154.48M422.20 154.89L424.00 154.89M421.24 153.86L421.24 154.68M421.24 153.86L421.84 153.86M421.24 154.68L422.20 154.68M423.46 155.71L423.46 156.12M423.46 155.71L424.00 155.71M423.46 156.12L424.00 156.12M423.24 155.30L423.24 155.91M423.24 155.30L424.00 155.30M423.24 155.91L423.46 155.91M423.04 155.61L423.04 156.53M423.04 155.61L423.24 155.61M423.04 156.53L424.00 156.53M422.76 156.07L422.76 156.94M422.76 156.07L423.04 156.07M422.76 156.94L424.00 156.94M421.96 156.50L421.96 157.35M421.96 156.50L422.76 156.50M421.96 157.35L424.00 157.35M419.95 154.27L419.95 156.93M419.95 154.27L421.24 154.27M419.95 156.93L421.96 156.93M422.65 158.17L422.65 158.58M422.65 158.17L424.00 158.17M422.65 158.58L424.00 158.58M422.72 158.99L422.72 159.40M422.72 158.99L424.00 158.99M422.72 159.40L424.00 159.40M422.36 159.19L422.36 159.81M422.36 159.19L422.72 159.19M422.36 159.81L424.00 159.81M421.88 158.37L421.88 159.50M421.88 158.37L422.65 158.37M421.88 159.50L422.36 159.50M419.37 157.76L419.37 158.94M419.37 157.76L424.00 157.76M419.37 158.94L421.88 158.94M416.27 155.60L416.27 158.35M416.27 155.60L419.95 155.60M416.27 158.35L419.37 158.35M410.16 149.91L410.16 156.97M410.16 149.91L416.06 149.91M410.16 156.97L416.27 156.97M406.20 135.09L406.20 153.44M406.20 135.09L411.54 135.09M406.20 153.44L410.16 153.44M421.40 160.63L421.40 161.04M421.40 160.63L424.00 160.63M421.40 161.04L424.00 161.04M418.91 160.22L418.91 160.83M418.91 160.22L424.00 160.22M418.91 160.83L421.40 160.83M423.58 161.86L423.58 162.27M423.58 161.86L424.00 161.86M423.58 162.27L424.00 162.27M423.45 162.06L423.45 162.68M423.45 162.06L423.58 162.06M423.45 162.68L424.00 162.68M423.21 161.45L423.21 162.37M423.21 161.45L424.00 161.45M423.21 162.37L423.45 162.37M422.91 161.91L422.91 163.09M422.91 161.91L423.21 161.91M422.91 163.09L424.00 163.09M423.23 163.50L423.23 163.91M423.23 163.50L424.00 163.50M423.23 163.91L424.00 163.91M422.34 162.50L422.34 163.70M422.34 162.50L422.91 162.50M422.34 163.70L423.23 163.70M423.11 164.73L423.11 165.14M423.11 164.73L424.00 164.73M423.11 165.14L424.00 165.14M422.82 164.93L422.82 165.55M422.82 164.93L423.11 164.93M422.82 165.55L424.00 165.55M421.45 164.32L421.45 165.24M421.45 164.32L424.00 164.32M421.45 165.24L422.82 165.24M420.59 163.10L420.59 164.78M420.59 163.10L422.34 163.10M420.59 164.78L421.45 164.78M417.57 160.53L417.57 163.94M417.57 160.53L418.91 160.53M417.57 163.94L420.59 163.94M419.80 165.96L419.80 166.37M419.80 165.96L424.00 165.96M419.80 166.37L424.00 166.37M421.90 167.19L421.90 167.60M421.90 167.19L424.00 167.19M421.90 167.60L424.00 167.60M419.43 166.78L419.43 167.39M419.43 166.78L424.00 166.78M419.43 167.39L421.90 167.39M417.53 166.16L417.53 167.09M417.53 166.16L419.80 166.16M417.53 167.09L419.43 167.09M412.80 162.23L412.80 166.63M412.80 162.23L417.57 162.23M412.80 166.63L417.53 166.63M404.00 144.26L404.00 164.43M404.00 144.26L406.20 144.26M404.00 164.43L412.80 164.43M398.70 91.87L398.70 154.35M398.70 91.87L398.90 91.87M398.70 154.35L404.00 154.35M419.14 168.42L419.14 168.83M419.14 168.42L424.00 168.42M419.14 168.83L424.00 168.83M417.14 168.01L417.14 168.62M417.14 168.01L424.00 168.01M417.14 168.62L419.14 168.62M419.76 169.65L419.76 170.06M419.76 169.65L424.00 169.65M419.76 170.06L424.00 170.06M418.69 169.24L418.69 169.85M418.69 169.24L424.00 169.24M418.69 169.85L419.76 169.85M412.50 168.32L412.50 169.55M412.50 168.32L417.14 168.32M412.50 169.55L418.69 169.55M417.97 170.47L417.97 170.88M417.97 170.47L424.00 170.47M417.97 170.88L424.00 170.88M414.99 171.29L414.99 171.70M414.99 171.29L424.00 171.29M414.99 171.70L424.00 171.70M412.46 170.67L412.46 171.49M412.46 170.67L417.97 170.67M412.46 171.49L414.99 171.49M406.80 168.93L406.80 171.08M406.80 168.93L412.50 168.93M406.80 171.08L412.46 171.08M423.19 172.52L423.19 172.93M423.19 172.52L424.00 172.52M423.19 172.93L424.00 172.93M423.42 173.34L423.42 173.75M423.42 173.34L424.00 173.34M423.42 173.75L424.00 173.75M422.77 172.72L422.77 173.54M422.77 172.72L423.19 172.72M422.77 173.54L423.42 173.54M421.74 172.11L421.74 173.13M421.74 172.11L424.00 172.11M421.74 173.13L422.77 173.13M423.49 174.98L423.49 175.39M423.49 174.98L424.00 174.98M423.49 175.39L424.00 175.39M423.28 174.57L423.28 175.18M423.28 174.57L424.00 174.57M423.28 175.18L423.49 175.18M422.95 174.16L422.95 174.88M422.95 174.16L424.00 174.16M422.95 174.88L423.28 174.88M423.46 176.21L423.46 176.62M423.46 176.21L424.00 176.21M423.46 176.62L424.00 176.62M423.07 175.80L423.07 176.41M423.07 175.80L424.00 175.80M423.07 176.41L423.46 176.41M422.55 174.52L422.55 176.11M422.55 174.52L422.95 174.52M422.55 176.11L423.07 176.11M420.95 172.62L420.95 175.31M420.95 172.62L421.74 172.62M420.95 175.31L422.55 175.31M422.59 177.44L422.59 177.85M422.59 177.44L424.00 177.44M422.59 177.85L424.00 177.85M422.08 177.64L422.08 178.26M422.08 177.64L422.59 177.64M422.08 178.26L424.00 178.26M421.04 177.03L421.04 177.95M421.04 177.03L424.00 177.03M421.04 177.95L422.08 177.95M417.48 173.97L417.48 177.49M417.48 173.97L420.95 173.97M417.48 177.49L421.04 177.49M421.73 178.67L421.73 179.08M421.73 178.67L424.00 178.67M421.73 179.08L424.00 179.08M421.89 179.49L421.89 179.90M421.89 179.49L424.00 179.49M421.89 179.90L424.00 179.90M420.39 179.69L420.39 180.31M420.39 179.69L421.89 179.69M420.39 180.31L424.00 180.31M419.41 178.87L419.41 180.00M419.41 178.87L421.73 178.87M419.41 180.00L420.39 180.00M423.23 180.72L423.23 181.13M423.23 180.72L424.00 180.72M423.23 181.13L424.00 181.13M422.98 180.92L422.98 181.54M422.98 180.92L423.23 180.92M422.98 181.54L424.00 181.54M423.24 181.95L423.24 182.36M423.24 181.95L424.00 181.95M423.24 182.36L424.00 182.36M422.69 181.23L422.69 182.15M422.69 181.23L422.98 181.23M422.69 182.15L423.24 182.15M423.17 182.77L423.17 183.18M423.17 182.77L424.00 182.77M423.17 183.18L424.00 183.18M423.37 184.00L423.37 184.41M423.37 184.00L424.00 184.00M423.37 184.41L424.00 184.41M423.19 183.59L423.19 184.20M423.19 183.59L424.00 183.59M423.19 184.20L423.37 184.20M422.88 182.97L422.88 183.90M422.88 182.97L423.17 182.97M422.88 183.90L423.19 183.90M421.71 181.69L421.71 183.44M421.71 181.69L422.69 181.69M421.71 183.44L422.88 183.44M422.26 184.82L422.26 185.23M422.26 184.82L424.00 184.82M422.26 185.23L424.00 185.23M423.33 185.64L423.33 186.05M423.33 185.64L424.00 185.64M423.33 186.05L424.00 186.05M423.47 186.46L423.47 186.87M423.47 186.46L424.00 186.46M423.47 186.87L424.00 186.87M422.91 185.84L422.91 186.66M422.91 185.84L423.33 185.84M422.91 186.66L423.47 186.66M422.54 186.25L422.54 187.28M422.54 186.25L422.91 186.25M422.54 187.28L424.00 187.28M421.68 185.02L421.68 186.77M421.68 185.02L422.26 185.02M421.68 186.77L422.54 186.77M421.01 182.56L421.01 185.90M421.01 182.56L421.71 182.56M421.01 185.90L421.68 185.90M418.16 179.44L418.16 184.23M418.16 179.44L419.41 179.44M418.16 184.23L421.01 184.23M413.38 175.73L413.38 181.83M413.38 175.73L417.48 175.73M413.38 181.83L418.16 181.83M423.29 187.69L423.29 188.10M423.29 187.69L424.00 187.69M423.29 188.10L424.00 188.10M422.59 187.89L422.59 188.51M422.59 187.89L423.29 187.89M422.59 188.51L424.00 188.51M422.42 188.92L422.42 189.33M422.42 188.92L424.00 188.92M422.42 189.33L424.00 189.33M421.93 188.20L421.93 189.13M421.93 188.20L422.59 188.20M421.93 189.13L422.42 189.13M421.41 190.15L421.41 190.56M421.41 190.15L424.00 190.15M421.41 190.56L424.00 190.56M420.63 189.74L420.63 190.36M420.63 189.74L424.00 189.74M420.63 190.36L421.41 190.36M419.55 188.66L419.55 190.05M419.55 188.66L421.93 188.66M419.55 190.05L420.63 190.05M421.17 190.97L421.17 191.38M421.17 190.97L424.00 190.97M421.17 191.38L424.00 191.38M420.36 191.18L420.36 191.79M420.36 191.18L421.17 191.18M420.36 191.79L424.00 191.79M417.72 189.36L417.72 191.48M417.72 189.36L419.55 189.36M417.72 191.48L420.36 191.48M423.53 192.61L423.53 193.02M423.53 192.61L424.00 192.61M423.53 193.02L424.00 193.02M423.11 192.20L423.11 192.82M423.11 192.20L424.00 192.20M423.11 192.82L423.53 192.82M423.46 193.43L423.46 193.84M423.46 193.43L424.00 193.43M423.46 193.84L424.00 193.84M423.12 193.64L423.12 194.25M423.12 193.64L423.46 193.64M423.12 194.25L424.00 194.25M422.13 192.51L422.13 193.94M422.13 192.51L423.11 192.51M422.13 193.94L423.12 193.94M422.51 194.66L422.51 195.07M422.51 194.66L424.00 194.66M422.51 195.07L424.00 195.07M423.13 195.48L423.13 195.89M423.13 195.48L424.00 195.48M423.13 195.89L424.00 195.89M422.73 195.69L422.73 196.30M422.73 195.69L423.13 195.69M422.73 196.30L424.00 196.30M421.95 194.87L421.95 195.99M421.95 194.87L422.51 194.87M421.95 195.99L422.73 195.99M421.32 193.23L421.32 195.43M421.32 193.23L422.13 193.23M421.32 195.43L421.95 195.43M423.64 197.12L423.64 197.53M423.64 197.12L424.00 197.12M423.64 197.53L424.00 197.53M423.39 196.71L423.39 197.33M423.39 196.71L424.00 196.71M423.39 197.33L423.64 197.33M423.53 198.35L423.53 198.76M423.53 198.35L424.00 198.35M423.53 198.76L424.00 198.76M423.39 197.94L423.39 198.56M423.39 197.94L424.00 197.94M423.39 198.56L423.53 198.56M423.64 199.17L423.64 199.58M423.64 199.17L424.00 199.17M423.64 199.58L424.00 199.58M423.20 198.25L423.20 199.38M423.20 198.25L423.39 198.25M423.20 199.38L423.64 199.38M422.88 197.02L422.88 198.81M422.88 197.02L423.39 197.02M422.88 198.81L423.20 198.81M422.83 199.99L422.83 200.40M422.83 199.99L424.00 199.99M422.83 200.40L424.00 200.40M422.13 197.91L422.13 200.20M422.13 197.91L422.88 197.91M422.13 200.20L422.83 200.20M422.56 201.22L422.56 201.63M422.56 201.22L424.00 201.22M422.56 201.63L424.00 201.63M422.10 200.81L422.10 201.43M422.10 200.81L424.00 200.81M422.10 201.43L422.56 201.43M421.06 199.06L421.06 201.12M421.06 199.06L422.13 199.06M421.06 201.12L422.10 201.12M420.28 194.33L420.28 200.09M420.28 194.33L421.32 194.33M420.28 200.09L421.06 200.09M422.85 202.45L422.85 202.86M422.85 202.45L424.00 202.45M422.85 202.86L424.00 202.86M422.48 202.04L422.48 202.66M422.48 202.04L424.00 202.04M422.48 202.66L422.85 202.66M421.99 202.35L421.99 203.27M421.99 202.35L422.48 202.35M421.99 203.27L424.00 203.27M421.13 202.81L421.13 203.68M421.13 202.81L421.99 202.81M421.13 203.68L424.00 203.68M422.44 204.50L422.44 204.91M422.44 204.50L424.00 204.50M422.44 204.91L424.00 204.91M421.74 204.09L421.74 204.71M421.74 204.09L424.00 204.09M421.74 204.71L422.44 204.71M419.43 203.24L419.43 204.40M419.43 203.24L421.13 203.24M419.43 204.40L421.74 204.40M418.02 197.21L418.02 203.82M418.02 197.21L420.28 197.21M418.02 203.82L419.43 203.82M415.14 190.42L415.14 200.51M415.14 190.42L417.72 190.42M415.14 200.51L418.02 200.51M405.40 178.78L405.40 195.47M405.40 178.78L413.38 178.78M405.40 195.47L415.14 195.47M402.90 170.01L402.90 187.12M402.90 170.01L406.80 170.01M402.90 187.12L405.40 187.12M423.90 205.73L423.90 206.14M423.90 205.73L424.00 205.73M423.90 206.14L424.00 206.14M423.83 205.32L423.83 205.94M423.83 205.32L424.00 205.32M423.83 205.94L423.90 205.94M423.85 206.55L423.85 206.96M423.85 206.55L424.00 206.55M423.85 206.96L424.00 206.96M423.94 207.78L423.94 208.19M423.94 207.78L424.00 207.78M423.94 208.19L424.00 208.19M423.89 207.37L423.89 207.99M423.89 207.37L424.00 207.37M423.89 207.99L423.94 207.99M423.81 206.76L423.81 207.68M423.81 206.76L423.85 206.76M423.81 207.68L423.89 207.68M423.62 205.63L423.62 207.22M423.62 205.63L423.83 205.63M423.62 207.22L423.81 207.22M423.90 209.42L423.90 209.83M423.90 209.42L424.00 209.42M423.90 209.83L424.00 209.83M423.81 209.01L423.81 209.63M423.81 209.01L424.00 209.01M423.81 209.63L423.90 209.63M423.75 208.60L423.75 209.32M423.75 208.60L424.00 208.60M423.75 209.32L423.81 209.32M423.88 210.65L423.88 211.06M423.88 210.65L424.00 210.65M423.88 211.06L424.00 211.06M423.78 210.24L423.78 210.86M423.78 210.24L424.00 210.24M423.78 210.86L423.88 210.86M423.65 210.55L423.65 211.47M423.65 210.55L423.78 210.55M423.65 211.47L424.00 211.47M423.55 208.96L423.55 211.01M423.55 208.96L423.75 208.96M423.55 211.01L423.65 211.01M423.41 206.42L423.41 209.98M423.41 206.42L423.62 206.42M423.41 209.98L423.55 209.98M423.89 213.11L423.89 213.52M423.89 213.11L424.00 213.11M423.89 213.52L424.00 213.52M423.86 212.70L423.86 213.32M423.86 212.70L424.00 212.70M423.86 213.32L423.89 213.32M423.79 212.29L423.79 213.01M423.79 212.29L424.00 212.29M423.79 213.01L423.86 213.01M423.54 211.88L423.54 212.65M423.54 211.88L424.00 211.88M423.54 212.65L423.79 212.65M423.64 214.34L423.64 214.75M423.64 214.34L424.00 214.34M423.64 214.75L424.00 214.75M423.46 213.93L423.46 214.55M423.46 213.93L424.00 213.93M423.46 214.55L423.64 214.55M423.08 212.27L423.08 214.24M423.08 212.27L423.54 212.27M423.08 214.24L423.46 214.24M422.83 208.20L422.83 213.25M422.83 208.20L423.41 208.20M422.83 213.25L423.08 213.25M423.89 215.16L423.89 215.57M423.89 215.16L424.00 215.16M423.89 215.57L424.00 215.57M423.81 215.37L423.81 215.98M423.81 215.37L423.89 215.37M423.81 215.98L424.00 215.98M423.88 216.39L423.88 216.80M423.88 216.39L424.00 216.39M423.88 216.80L424.00 216.80M423.88 217.21L423.88 217.62M423.88 217.21L424.00 217.21M423.88 217.62L424.00 217.62M423.80 216.60L423.80 217.42M423.80 216.60L423.88 216.60M423.80 217.42L423.88 217.42M423.64 215.67L423.64 217.01M423.64 215.67L423.81 215.67M423.64 217.01L423.80 217.01M423.92 218.44L423.92 218.85M423.92 218.44L424.00 218.44M423.92 218.85L424.00 218.85M423.88 218.03L423.88 218.65M423.88 218.03L424.00 218.03M423.88 218.65L423.92 218.65M423.84 219.26L423.84 219.67M423.84 219.26L424.00 219.26M423.84 219.67L424.00 219.67M423.77 218.34L423.77 219.47M423.77 218.34L423.88 218.34M423.77 219.47L423.84 219.47M423.85 220.49L423.85 220.90M423.85 220.49L424.00 220.49M423.85 220.90L424.00 220.90M423.68 220.08L423.68 220.70M423.68 220.08L424.00 220.08M423.68 220.70L423.85 220.70M423.56 218.90L423.56 220.39M423.56 218.90L423.77 218.90M423.56 220.39L423.68 220.39M423.45 216.34L423.45 219.65M423.45 216.34L423.64 216.34M423.45 219.65L423.56 219.65M423.62 221.31L423.62 221.72M423.62 221.31L424.00 221.31M423.62 221.72L424.00 221.72M423.88 222.13L423.88 222.54M423.88 222.13L424.00 222.13M423.88 222.54L424.00 222.54M423.79 222.34L423.79 222.95M423.79 222.34L423.88 222.34M423.79 222.95L424.00 222.95M423.86 223.36L423.86 223.77M423.86 223.36L424.00 223.36M423.86 223.77L424.00 223.77M423.81 223.57L423.81 224.18M423.81 223.57L423.86 223.57M423.81 224.18L424.00 224.18M423.74 223.87L423.74 224.59M423.74 223.87L423.81 223.87M423.74 224.59L424.00 224.59M423.60 222.64L423.60 224.23M423.60 222.64L423.79 222.64M423.60 224.23L423.74 224.23M423.49 221.52L423.49 223.44M423.49 221.52L423.62 221.52M423.49 223.44L423.60 223.44M423.23 217.99L423.23 222.48M423.23 217.99L423.45 217.99M423.23 222.48L423.49 222.48M422.54 210.73L422.54 220.23M422.54 210.73L422.83 210.73M422.54 220.23L423.23 220.23M423.68 225.00L423.68 225.41M423.68 225.00L424.00 225.00M423.68 225.41L424.00 225.41M423.57 225.82L423.57 226.23M423.57 225.82L424.00 225.82M423.57 226.23L424.00 226.23M423.43 225.21L423.43 226.03M423.43 225.21L423.68 225.21M423.43 226.03L423.57 226.03M423.75 227.05L423.75 227.46M423.75 227.05L424.00 227.05M423.75 227.46L424.00 227.46M423.62 226.64L423.62 227.26M423.62 226.64L424.00 226.64M423.62 227.26L423.75 227.26M423.61 227.87L423.61 228.28M423.61 227.87L424.00 227.87M423.61 228.28L424.00 228.28M423.40 226.95L423.40 228.08M423.40 226.95L423.62 226.95M423.40 228.08L423.61 228.08M422.86 225.62L422.86 227.51M422.86 225.62L423.43 225.62M422.86 227.51L423.40 227.51M423.84 229.10L423.84 229.51M423.84 229.10L424.00 229.10M423.84 229.51L424.00 229.51M423.67 228.69L423.67 229.31M423.67 228.69L424.00 228.69M423.67 229.31L423.84 229.31M423.93 230.33L423.93 230.74M423.93 230.33L424.00 230.33M423.93 230.74L424.00 230.74M423.90 230.54L423.90 231.15M423.90 230.54L423.93 230.54M423.90 231.15L424.00 231.15M423.80 229.92L423.80 230.84M423.80 229.92L424.00 229.92M423.80 230.84L423.90 230.84M423.75 230.38L423.75 231.56M423.75 230.38L423.80 230.38M423.75 231.56L424.00 231.56M423.55 229.00L423.55 230.97M423.55 229.00L423.67 229.00M423.55 230.97L423.75 230.97M423.77 231.97L423.77 232.38M423.77 231.97L424.00 231.97M423.77 232.38L424.00 232.38M423.67 232.18L423.67 232.79M423.67 232.18L423.77 232.18M423.67 232.79L424.00 232.79M423.85 233.20L423.85 233.61M423.85 233.20L424.00 233.20M423.85 233.61L424.00 233.61M423.78 234.02L423.78 234.43M423.78 234.02L424.00 234.02M423.78 234.43L424.00 234.43M423.72 233.41L423.72 234.23M423.72 233.41L423.85 233.41M423.72 234.23L423.78 234.23M423.57 232.48L423.57 233.82M423.57 232.48L423.67 232.48M423.57 233.82L423.72 233.82M423.72 234.84L423.72 235.25M423.72 234.84L424.00 234.84M423.72 235.25L424.00 235.25M423.76 235.66L423.76 236.07M423.76 235.66L424.00 235.66M423.76 236.07L424.00 236.07M423.62 235.87L423.62 236.48M423.62 235.87L423.76 235.87M423.62 236.48L424.00 236.48M423.51 235.05L423.51 236.17M423.51 235.05L423.72 235.05M423.51 236.17L423.62 236.17M423.26 233.15L423.26 235.61M423.26 233.15L423.57 233.15M423.26 235.61L423.51 235.61M423.04 229.99L423.04 234.38M423.04 229.99L423.55 229.99M423.04 234.38L423.26 234.38M423.33 236.89L423.33 237.30M423.33 236.89L424.00 236.89M423.33 237.30L424.00 237.30M423.62 237.71L423.62 238.12M423.62 237.71L424.00 237.71M423.62 238.12L424.00 238.12M423.74 238.53L423.74 238.94M423.74 238.53L424.00 238.53M423.74 238.94L424.00 238.94M423.66 238.74L423.66 239.35M423.66 238.74L423.74 238.74M423.66 239.35L424.00 239.35M423.28 237.92L423.28 239.04M423.28 237.92L423.62 237.92M423.28 239.04L423.66 239.04M422.95 237.10L422.95 238.48M422.95 237.10L423.33 237.10M422.95 238.48L423.28 238.48M422.63 232.18L422.63 237.79M422.63 232.18L423.04 232.18M422.63 237.79L422.95 237.79M421.91 226.56L421.91 234.99M421.91 226.56L422.86 226.56M421.91 234.99L422.63 234.99M421.19 215.48L421.19 230.78M421.19 215.48L422.54 215.48M421.19 230.78L421.91 230.78M423.65 240.17L423.65 240.58M423.65 240.17L424.00 240.17M423.65 240.58L424.00 240.58M423.32 239.76L423.32 240.38M423.32 239.76L424.00 239.76M423.32 240.38L423.65 240.38M423.54 240.99L423.54 241.40M423.54 240.99L424.00 240.99M423.54 241.40L424.00 241.40M423.64 241.81L423.64 242.22M423.64 241.81L424.00 241.81M423.64 242.22L424.00 242.22M423.26 241.20L423.26 242.02M423.26 241.20L423.54 241.20M423.26 242.02L423.64 242.02M422.84 240.07L422.84 241.61M422.84 240.07L423.32 240.07M422.84 241.61L423.26 241.61M423.41 242.63L423.41 243.04M423.41 242.63L424.00 242.63M423.41 243.04L424.00 243.04M423.72 243.45L423.72 243.86M423.72 243.45L424.00 243.45M423.72 243.86L424.00 243.86M423.80 244.68L423.80 245.09M423.80 244.68L424.00 244.68M423.80 245.09L424.00 245.09M423.73 244.27L423.73 244.89M423.73 244.27L424.00 244.27M423.73 244.89L423.80 244.89M423.65 243.66L423.65 244.58M423.65 243.66L423.72 243.66M423.65 244.58L423.73 244.58M423.33 244.12L423.33 245.50M423.33 244.12L423.65 244.12M423.33 245.50L424.00 245.50M423.05 242.84L423.05 244.81M423.05 242.84L423.41 242.84M423.05 244.81L423.33 244.81M422.37 240.84L422.37 243.82M422.37 240.84L422.84 240.84M422.37 243.82L423.05 243.82M423.76 245.91L423.76 246.32M423.76 245.91L424.00 245.91M423.76 246.32L424.00 246.32M423.94 246.73L423.94 247.14M423.94 246.73L424.00 246.73M423.94 247.14L424.00 247.14M423.91 246.94L423.91 247.55M423.91 246.94L423.94 246.94M423.91 247.55L424.00 247.55M423.85 247.24L423.85 247.96M423.85 247.24L423.91 247.24M423.85 247.96L424.00 247.96M423.73 247.60L423.73 248.37M423.73 247.60L423.85 247.60M423.73 248.37L424.00 248.37M423.56 246.12L423.56 247.99M423.56 246.12L423.76 246.12M423.56 247.99L423.73 247.99M423.87 248.78L423.87 249.19M423.87 248.78L424.00 248.78M423.87 249.19L424.00 249.19M423.78 248.99L423.78 249.60M423.78 248.99L423.87 248.99M423.78 249.60L424.00 249.60M423.66 249.29L423.66 250.01M423.66 249.29L423.78 249.29M423.66 250.01L424.00 250.01M423.91 250.83L423.91 251.24M423.91 250.83L424.00 250.83M423.91 251.24L424.00 251.24M423.87 250.42L423.87 251.04M423.87 250.42L424.00 250.42M423.87 251.04L423.91 251.04M423.95 252.06L423.95 252.47M423.95 252.06L424.00 252.06M423.95 252.47L424.00 252.47M423.93 251.65L423.93 252.27M423.93 251.65L424.00 251.65M423.93 252.27L423.95 252.27M423.97 253.29L423.97 253.70M423.97 253.29L424.00 253.29M423.97 253.70L424.00 253.70M423.95 252.88L423.95 253.50M423.95 252.88L424.00 252.88M423.95 253.50L423.97 253.50M423.90 251.96L423.90 253.19M423.90 251.96L423.93 251.96M423.90 253.19L423.95 253.19M423.83 250.73L423.83 252.57M423.83 250.73L423.87 250.73M423.83 252.57L423.90 252.57M423.83 254.52L423.83 254.93M423.83 254.52L424.00 254.52M423.83 254.93L424.00 254.93M423.78 254.11L423.78 254.73M423.78 254.11L424.00 254.11M423.78 254.73L423.83 254.73M423.68 251.65L423.68 254.42M423.68 251.65L423.83 251.65M423.68 254.42L423.78 254.42M423.52 249.65L423.52 253.04M423.52 249.65L423.66 249.65M423.52 253.04L423.68 253.04M423.38 247.05L423.38 251.34M423.38 247.05L423.56 247.05M423.38 251.34L423.52 251.34M423.84 255.75L423.84 256.16M423.84 255.75L424.00 255.75M423.84 256.16L424.00 256.16M423.75 255.34L423.75 255.96M423.75 255.34L424.00 255.34M423.75 255.96L423.84 255.96M423.76 256.57L423.76 256.98M423.76 256.57L424.00 256.57M423.76 256.98L424.00 256.98M423.58 255.65L423.58 256.78M423.58 255.65L423.75 255.65M423.58 256.78L423.76 256.78M423.68 257.80L423.68 258.21M423.68 257.80L424.00 257.80M423.68 258.21L424.00 258.21M423.64 258.62L423.64 259.03M423.64 258.62L424.00 258.62M423.64 259.03L424.00 259.03M423.54 258.01L423.54 258.83M423.54 258.01L423.68 258.01M423.54 258.83L423.64 258.83M423.42 257.39L423.42 258.42M423.42 257.39L424.00 257.39M423.42 258.42L423.54 258.42M423.16 256.21L423.16 257.90M423.16 256.21L423.58 256.21M423.16 257.90L423.42 257.90M422.82 249.20L422.82 257.06M422.82 249.20L423.38 249.20M422.82 257.06L423.16 257.06M421.52 242.33L421.52 253.13M421.52 242.33L422.37 242.33M421.52 253.13L422.82 253.13M419.49 223.13L419.49 247.73M419.49 223.13L421.19 223.13M419.49 247.73L421.52 247.73M423.25 259.44L423.25 259.85M423.25 259.44L424.00 259.44M423.25 259.85L424.00 259.85M422.82 259.65L422.82 260.26M422.82 259.65L423.25 259.65M422.82 260.26L424.00 260.26M423.49 261.08L423.49 261.49M423.49 261.08L424.00 261.08M423.49 261.49L424.00 261.49M423.11 260.67L423.11 261.29M423.11 260.67L424.00 260.67M423.11 261.29L423.49 261.29M422.42 259.95L422.42 260.98M422.42 259.95L422.82 259.95M422.42 260.98L423.11 260.98M423.55 261.90L423.55 262.31M423.55 261.90L424.00 261.90M423.55 262.31L424.00 262.31M423.18 262.11L423.18 262.72M423.18 262.11L423.55 262.11M423.18 262.72L424.00 262.72M423.38 263.13L423.38 263.54M423.38 263.13L424.00 263.13M423.38 263.54L424.00 263.54M423.21 263.34L423.21 263.95M423.21 263.34L423.38 263.34M423.21 263.95L424.00 263.95M422.60 262.42L422.60 263.65M422.60 262.42L423.18 262.42M422.60 263.65L423.21 263.65M421.78 260.47L421.78 263.03M421.78 260.47L422.42 260.47M421.78 263.03L422.60 263.03M423.93 264.36L423.93 264.77M423.93 264.36L424.00 264.36M423.93 264.77L424.00 264.77M423.87 264.57L423.87 265.18M423.87 264.57L423.93 264.57M423.87 265.18L424.00 265.18M423.83 264.88L423.83 265.59M423.83 264.88L423.87 264.88M423.83 265.59L424.00 265.59M423.93 266.41L423.93 266.82M423.93 266.41L424.00 266.41M423.93 266.82L424.00 266.82M423.85 266.00L423.85 266.62M423.85 266.00L424.00 266.00M423.85 266.62L423.93 266.62M423.72 265.23L423.72 266.31M423.72 265.23L423.83 265.23M423.72 266.31L423.85 266.31M423.81 267.23L423.81 267.64M423.81 267.23L424.00 267.23M423.81 267.64L424.00 267.64M423.64 265.77L423.64 267.44M423.64 265.77L423.72 265.77M423.64 267.44L423.81 267.44M423.71 268.05L423.71 268.46M423.71 268.05L424.00 268.05M423.71 268.46L424.00 268.46M423.47 266.60L423.47 268.26M423.47 266.60L423.64 266.60M423.47 268.26L423.71 268.26M423.69 268.87L423.69 269.28M423.69 268.87L424.00 268.87M423.69 269.28L424.00 269.28M423.72 269.69L423.72 270.10M423.72 269.69L424.00 269.69M423.72 270.10L424.00 270.10M423.51 269.08L423.51 269.90M423.51 269.08L423.69 269.08M423.51 269.90L423.72 269.90M423.18 267.43L423.18 269.49M423.18 267.43L423.47 267.43M423.18 269.49L423.51 269.49M423.67 270.92L423.67 271.33M423.67 270.92L424.00 270.92M423.67 271.33L424.00 271.33M423.53 270.51L423.53 271.13M423.53 270.51L424.00 270.51M423.53 271.13L423.67 271.13M423.53 271.74L423.53 272.15M423.53 271.74L424.00 271.74M423.53 272.15L424.00 272.15M423.74 272.97L423.74 273.38M423.74 272.97L424.00 272.97M423.74 273.38L424.00 273.38M423.51 272.56L423.51 273.18M423.51 272.56L424.00 272.56M423.51 273.18L423.74 273.18M423.31 271.95L423.31 272.87M423.31 271.95L423.53 271.95M423.31 272.87L423.51 272.87M423.02 270.82L423.02 272.41M423.02 270.82L423.53 270.82M423.02 272.41L423.31 272.41M422.46 268.46L422.46 271.61M422.46 268.46L423.18 268.46M422.46 271.61L423.02 271.61M420.83 261.75L420.83 270.04M420.83 261.75L421.78 261.75M420.83 270.04L422.46 270.04M422.46 273.79L422.46 274.20M422.46 273.79L424.00 273.79M422.46 274.20L424.00 274.20M423.35 274.61L423.35 275.02M423.35 274.61L424.00 274.61M423.35 275.02L424.00 275.02M423.06 274.82L423.06 275.43M423.06 274.82L423.35 274.82M423.06 275.43L424.00 275.43M423.51 276.25L423.51 276.66M423.51 276.25L424.00 276.25M423.51 276.66L424.00 276.66M422.92 275.84L422.92 276.46M422.92 275.84L424.00 275.84M422.92 276.46L423.51 276.46M422.23 275.13L422.23 276.15M422.23 275.13L423.06 275.13M422.23 276.15L422.92 276.15M421.50 274.00L421.50 275.64M421.50 274.00L422.46 274.00M421.50 275.64L422.23 275.64M423.09 277.07L423.09 277.48M423.09 277.07L424.00 277.07M423.09 277.48L424.00 277.48M422.11 277.28L422.11 277.89M422.11 277.28L423.09 277.28M422.11 277.89L424.00 277.89M422.87 278.30L422.87 278.71M422.87 278.30L424.00 278.30M422.87 278.71L424.00 278.71M423.67 279.94L423.67 280.35M423.67 279.94L424.00 279.94M423.67 280.35L424.00 280.35M423.43 279.53L423.43 280.15M423.43 279.53L424.00 279.53M423.43 280.15L423.67 280.15M423.26 279.12L423.26 279.84M423.26 279.12L424.00 279.12M423.26 279.84L423.43 279.84M423.62 280.76L423.62 281.17M423.62 280.76L424.00 280.76M423.62 281.17L424.00 281.17M423.58 281.58L423.58 281.99M423.58 281.58L424.00 281.58M423.58 281.99L424.00 281.99M423.43 280.97L423.43 281.79M423.43 280.97L423.62 280.97M423.43 281.79L423.58 281.79M422.93 279.48L422.93 281.38M422.93 279.48L423.26 279.48M422.93 281.38L423.43 281.38M422.26 278.51L422.26 280.43M422.26 278.51L422.87 278.51M422.26 280.43L422.93 280.43M421.27 277.59L421.27 279.47M421.27 277.59L422.11 277.59M421.27 279.47L422.26 279.47M419.68 274.82L419.68 278.53M419.68 274.82L421.50 274.82M419.68 278.53L421.27 278.53M418.55 265.89L418.55 276.67M418.55 265.89L420.83 265.89M418.55 276.67L419.68 276.67M416.00 235.43L416.00 271.28M416.00 235.43L419.49 235.43M416.00 271.28L418.55 271.28M422.99 282.81L422.99 283.22M422.99 282.81L424.00 282.81M422.99 283.22L424.00 283.22M421.92 282.40L421.92 283.02M421.92 282.40L424.00 282.40M421.92 283.02L422.99 283.02M423.03 284.04L423.03 284.45M423.03 284.04L424.00 284.04M423.03 284.45L424.00 284.45M423.20 284.86L423.20 285.27M423.20 284.86L424.00 284.86M423.20 285.27L424.00 285.27M422.77 284.25L422.77 285.07M422.77 284.25L423.03 284.25M422.77 285.07L423.20 285.07M421.39 283.63L421.39 284.66M421.39 283.63L424.00 283.63M421.39 284.66L422.77 284.66M419.86 282.71L419.86 284.15M419.86 282.71L421.92 282.71M419.86 284.15L421.39 284.15M423.47 286.50L423.47 286.91M423.47 286.50L424.00 286.50M423.47 286.91L424.00 286.91M423.24 286.09L423.24 286.71M423.24 286.09L424.00 286.09M423.24 286.71L423.47 286.71M422.48 285.68L422.48 286.40M422.48 285.68L424.00 285.68M422.48 286.40L423.24 286.40M421.58 286.04L421.58 287.32M421.58 286.04L422.48 286.04M421.58 287.32L424.00 287.32M423.39 287.73L423.39 288.14M423.39 287.73L424.00 287.73M423.39 288.14L424.00 288.14M423.66 288.55L423.66 288.96M423.66 288.55L424.00 288.55M423.66 288.96L424.00 288.96M423.91 289.78L423.91 290.19M423.91 289.78L424.00 289.78M423.91 290.19L424.00 290.19M423.83 289.99L423.83 290.60M423.83 289.99L423.91 289.99M423.83 290.60L424.00 290.60M423.63 289.37L423.63 290.30M423.63 289.37L424.00 289.37M423.63 290.30L423.83 290.30M423.51 288.76L423.51 289.83M423.51 288.76L423.66 288.76M423.51 289.83L423.63 289.83M423.13 287.94L423.13 289.30M423.13 287.94L423.39 287.94M423.13 289.30L423.51 289.30M423.46 291.42L423.46 291.83M423.46 291.42L424.00 291.42M423.46 291.83L424.00 291.83M423.00 291.01L423.00 291.63M423.00 291.01L424.00 291.01M423.00 291.63L423.46 291.63M422.17 288.62L422.17 291.32M422.17 288.62L423.13 288.62M422.17 291.32L423.00 291.32M420.23 286.68L420.23 289.97M420.23 286.68L421.58 286.68M420.23 289.97L422.17 289.97M418.00 283.43L418.00 288.33M418.00 283.43L419.86 283.43M418.00 288.33L420.23 288.33M423.60 293.06L423.60 293.47M423.60 293.06L424.00 293.06M423.60 293.47L424.00 293.47M423.44 292.65L423.44 293.27M423.44 292.65L424.00 292.65M423.44 293.27L423.60 293.27M422.83 292.24L422.83 292.96M422.83 292.24L424.00 292.24M422.83 292.96L423.44 292.96M423.18 293.88L423.18 294.29M423.18 293.88L424.00 293.88M423.18 294.29L424.00 294.29M423.67 294.70L423.67 295.11M423.67 294.70L424.00 294.70M423.67 295.11L424.00 295.11M423.44 294.91L423.44 295.52M423.44 294.91L423.67 294.91M423.44 295.52L424.00 295.52M423.13 295.22L423.13 295.93M423.13 295.22L423.44 295.22M423.13 295.93L424.00 295.93M422.60 294.09L422.60 295.57M422.60 294.09L423.18 294.09M422.60 295.57L423.13 295.57M421.77 292.60L421.77 294.83M421.77 292.60L422.83 292.60M421.77 294.83L422.60 294.83M422.29 296.75L422.29 297.16M422.29 296.75L424.00 296.75M422.29 297.16L424.00 297.16M421.85 296.34L421.85 296.96M421.85 296.34L424.00 296.34M421.85 296.96L422.29 296.96M420.72 293.72L420.72 296.65M420.72 293.72L421.77 293.72M420.72 296.65L421.85 296.65M423.45 297.57L423.45 297.98M423.45 297.57L424.00 297.57M423.45 297.98L424.00 297.98M423.00 297.78L423.00 298.39M423.00 297.78L423.45 297.78M423.00 298.39L424.00 298.39M423.66 298.80L423.66 299.21M423.66 298.80L424.00 298.80M423.66 299.21L424.00 299.21M423.39 299.01L423.39 299.62M423.39 299.01L423.66 299.01M423.39 299.62L424.00 299.62M423.58 300.03L423.58 300.44M423.58 300.03L424.00 300.03M423.58 300.44L424.00 300.44M423.13 299.32L423.13 300.24M423.13 299.32L423.39 299.32M423.13 300.24L423.58 300.24M422.46 298.09L422.46 299.78M422.46 298.09L423.00 298.09M422.46 299.78L423.13 299.78M423.77 300.85L423.77 301.26M423.77 300.85L424.00 300.85M423.77 301.26L424.00 301.26M423.88 301.67L423.88 302.08M423.88 301.67L424.00 301.67M423.88 302.08L424.00 302.08M423.77 301.88L423.77 302.49M423.77 301.88L423.88 301.88M423.77 302.49L424.00 302.49M423.70 301.06L423.70 302.19M423.70 301.06L423.77 301.06M423.70 302.19L423.77 302.19M423.91 303.31L423.91 303.72M423.91 303.31L424.00 303.31M423.91 303.72L424.00 303.72M423.85 302.90L423.85 303.52M423.85 302.90L424.00 302.90M423.85 303.52L423.91 303.52M423.87 304.13L423.87 304.54M423.87 304.13L424.00 304.13M423.87 304.54L424.00 304.54M423.83 304.34L423.83 304.95M423.83 304.34L423.87 304.34M423.83 304.95L424.00 304.95M423.71 303.21L423.71 304.65M423.71 303.21L423.85 303.21M423.71 304.65L423.83 304.65M423.50 301.62L423.50 303.93M423.50 301.62L423.70 301.62M423.50 303.93L423.71 303.93M423.86 305.36L423.86 305.77M423.86 305.36L424.00 305.36M423.86 305.77L424.00 305.77M423.92 306.18L423.92 306.59M423.92 306.18L424.00 306.18M423.92 306.59L424.00 306.59M423.86 306.39L423.86 307.00M423.86 306.39L423.92 306.39M423.86 307.00L424.00 307.00M423.75 305.57L423.75 306.70M423.75 305.57L423.86 305.57M423.75 306.70L423.86 306.70M423.93 307.41L423.93 307.82M423.93 307.41L424.00 307.41M423.93 307.82L424.00 307.82M423.87 307.62L423.87 308.23M423.87 307.62L423.93 307.62M423.87 308.23L424.00 308.23M423.91 308.64L423.91 309.05M423.91 308.64L424.00 308.64M423.91 309.05L424.00 309.05M423.87 308.85L423.87 309.46M423.87 308.85L423.91 308.85M423.87 309.46L424.00 309.46M423.82 307.93L423.82 309.16M423.82 307.93L423.87 307.93M423.82 309.16L423.87 309.16M423.66 306.13L423.66 308.54M423.66 306.13L423.75 306.13M423.66 308.54L423.82 308.54M423.77 309.87L423.77 310.28M423.77 309.87L424.00 309.87M423.77 310.28L424.00 310.28M423.90 311.10L423.90 311.51M423.90 311.10L424.00 311.10M423.90 311.51L424.00 311.51M423.81 310.69L423.81 311.31M423.81 310.69L424.00 310.69M423.81 311.31L423.90 311.31M423.67 310.08L423.67 311.00M423.67 310.08L423.77 310.08M423.67 311.00L423.81 311.00M423.37 307.34L423.37 310.54M423.37 307.34L423.66 307.34M423.37 310.54L423.67 310.54M422.90 302.78L422.90 308.94M422.90 302.78L423.50 302.78M422.90 308.94L423.37 308.94M422.05 298.93L422.05 305.86M422.05 298.93L422.46 298.93M422.05 305.86L422.90 305.86M419.83 295.18L419.83 302.39M419.83 295.18L420.72 295.18M419.83 302.39L422.05 302.39M423.62 312.33L423.62 312.74M423.62 312.33L424.00 312.33M423.62 312.74L424.00 312.74M423.50 311.92L423.50 312.54M423.50 311.92L424.00 311.92M423.50 312.54L423.62 312.54M423.60 313.15L423.60 313.56M423.60 313.15L424.00 313.15M423.60 313.56L424.00 313.56M423.13 312.23L423.13 313.36M423.13 312.23L423.50 312.23M423.13 313.36L423.60 313.36M423.32 313.97L423.32 314.38M423.32 313.97L424.00 313.97M423.32 314.38L424.00 314.38M423.14 314.79L423.14 315.20M423.14 314.79L424.00 314.79M423.14 315.20L424.00 315.20M422.73 314.18L422.73 315.00M422.73 314.18L423.32 314.18M422.73 315.00L423.14 315.00M422.15 312.80L422.15 314.59M422.15 312.80L423.13 312.80M422.15 314.59L422.73 314.59M423.08 315.61L423.08 316.02M423.08 315.61L424.00 315.61M423.08 316.02L424.00 316.02M423.29 316.43L423.29 316.84M423.29 316.43L424.00 316.43M423.29 316.84L424.00 316.84M422.69 315.82L422.69 316.64M422.69 315.82L423.08 315.82M422.69 316.64L423.29 316.64M421.48 313.69L421.48 316.23M421.48 313.69L422.15 313.69M421.48 316.23L422.69 316.23M423.07 317.66L423.07 318.07M423.07 317.66L424.00 317.66M423.07 318.07L424.00 318.07M422.80 317.25L422.80 317.87M422.80 317.25L424.00 317.25M422.80 317.87L423.07 317.87M423.73 318.48L423.73 318.89M423.73 318.48L424.00 318.48M423.73 318.89L424.00 318.89M423.64 318.69L423.64 319.30M423.64 318.69L423.73 318.69M423.64 319.30L424.00 319.30M423.63 319.71L423.63 320.12M423.63 319.71L424.00 319.71M423.63 320.12L424.00 320.12M423.38 319.00L423.38 319.92M423.38 319.00L423.64 319.00M423.38 319.92L423.63 319.92M423.81 320.53L423.81 320.94M423.81 320.53L424.00 320.53M423.81 320.94L424.00 320.94M423.65 320.74L423.65 321.35M423.65 320.74L423.81 320.74M423.65 321.35L424.00 321.35M423.60 321.76L423.60 322.17M423.60 321.76L424.00 321.76M423.60 322.17L424.00 322.17M423.47 321.05L423.47 321.97M423.47 321.05L423.65 321.05M423.47 321.97L423.60 321.97M423.00 319.46L423.00 321.51M423.00 319.46L423.38 319.46M423.00 321.51L423.47 321.51M422.50 317.56L422.50 320.48M422.50 317.56L422.80 317.56M422.50 320.48L423.00 320.48M423.78 322.99L423.78 323.40M423.78 322.99L424.00 322.99M423.78 323.40L424.00 323.40M423.70 322.58L423.70 323.20M423.70 322.58L424.00 322.58M423.70 323.20L423.78 323.20M423.83 323.81L423.83 324.22M423.83 323.81L424.00 323.81M423.83 324.22L424.00 324.22M423.94 325.04L423.94 325.45M423.94 325.04L424.00 325.04M423.94 325.45L424.00 325.45M423.92 324.63L423.92 325.25M423.92 324.63L424.00 324.63M423.92 325.25L423.94 325.25M423.93 325.86L423.93 326.27M423.93 325.86L424.00 325.86M423.93 326.27L424.00 326.27M423.89 324.94L423.89 326.07M423.89 324.94L423.92 324.94M423.89 326.07L423.93 326.07M423.75 324.02L423.75 325.51M423.75 324.02L423.83 324.02M423.75 325.51L423.89 325.51M423.59 322.89L423.59 324.76M423.59 322.89L423.70 322.89M423.59 324.76L423.75 324.76M423.78 326.68L423.78 327.09M423.78 326.68L424.00 326.68M423.78 327.09L424.00 327.09M423.91 327.91L423.91 328.32M423.91 327.91L424.00 327.91M423.91 328.32L424.00 328.32M423.87 328.12L423.87 328.73M423.87 328.12L423.91 328.12M423.87 328.73L424.00 328.73M423.73 327.50L423.73 328.43M423.73 327.50L424.00 327.50M423.73 328.43L423.87 328.43M423.65 326.89L423.65 327.97M423.65 326.89L423.78 326.89M423.65 327.97L423.73 327.97M423.41 323.83L423.41 327.43M423.41 323.83L423.59 323.83M423.41 327.43L423.65 327.43M423.81 329.14L423.81 329.55M423.81 329.14L424.00 329.14M423.81 329.55L424.00 329.55M423.87 330.37L423.87 330.78M423.87 330.37L424.00 330.37M423.87 330.78L424.00 330.78M423.78 329.96L423.78 330.58M423.78 329.96L424.00 329.96M423.78 330.58L423.87 330.58M423.60 329.35L423.60 330.27M423.60 329.35L423.81 329.35M423.60 330.27L423.78 330.27M423.92 331.19L423.92 331.60M423.92 331.19L424.00 331.19M423.92 331.60L424.00 331.60M423.83 331.40L423.83 332.01M423.83 331.40L423.92 331.40M423.83 332.01L424.00 332.01M423.70 331.71L423.70 332.42M423.70 331.71L423.83 331.71M423.70 332.42L424.00 332.42M423.44 329.81L423.44 332.07M423.44 329.81L423.60 329.81M423.44 332.07L423.70 332.07M423.12 325.63L423.12 330.94M423.12 325.63L423.41 325.63M423.12 330.94L423.44 330.94M423.68 332.83L423.68 333.24M423.68 332.83L424.00 332.83M423.68 333.24L424.00 333.24M423.76 333.65L423.76 334.06M423.76 333.65L424.00 333.65M423.76 334.06L424.00 334.06M423.48 333.04L423.48 333.86M423.48 333.04L423.68 333.04M423.48 333.86L423.76 333.86M423.63 334.47L423.63 334.88M423.63 334.47L424.00 334.47M423.63 334.88L424.00 334.88M423.40 334.68L423.40 335.29M423.40 334.68L423.63 334.68M423.40 335.29L424.00 335.29M423.13 333.45L423.13 334.99M423.13 333.45L423.48 333.45M423.13 334.99L423.40 334.99M422.81 328.28L422.81 334.22M422.81 328.28L423.12 328.28M422.81 334.22L423.13 334.22M421.94 319.02L421.94 331.25M421.94 319.02L422.50 319.02M421.94 331.25L422.81 331.25M419.88 314.96L419.88 325.14M419.88 314.96L421.48 314.96M419.88 325.14L421.94 325.14M418.30 298.79L418.30 320.05M418.30 298.79L419.83 298.79M418.30 320.05L419.88 320.05M415.10 285.88L415.10 309.42M415.10 285.88L418.00 285.88M415.10 309.42L418.30 309.42M412.00 253.36L412.00 297.65M412.00 253.36L416.00 253.36M412.00 297.65L415.10 297.65M399.30 178.57L399.30 275.50M399.30 178.57L402.90 178.57M399.30 275.50L412.00 275.50M393.40 123.11L393.40 227.03M393.40 123.11L398.70 123.11M393.40 227.03L399.30 227.03" fill="none" stroke="#1e1e1e" stroke-width="0.7"/>
<rect x="422.6" y="41.2" width="1.5" height="293.8" fill="#111"/>
<defs><linearGradient id="cb" x1="0" y1="0" x2="0" y2="1"><stop offset="0" stop-color="#ff0000"/><stop offset="0.5" stop-color="#ffffff"/><stop offset="1" stop-color="#0000ff"/></linearGradient></defs>
<rect x="606.9" y="40.8" width="6.2" height="88.6" fill="url(#cb)"/>
<text x="606.0" y="37.9" class="hb">Group</text>
<text x="615.2" y="44.6" class="hl">2</text>
<text x="615.2" y="66.4" class="hl">1</text>
<text x="615.2" y="88.3" class="hl">0</text>
<text x="615.2" y="109.8" class="hl">- 1</text>
<text x="615.2" y="131.9" class="hl">- 2</text>
<text x="627.6" y="45.9" class="hb">Group</text>
<rect x="627.3" y="48.6" width="10.2" height="9.9" fill="#00d4dc"/>
<rect x="627.3" y="58.5" width="10.2" height="10.2" fill="#fe8b82"/>
<text x="639.8" y="56.2" class="hl">Control</text>
<text x="639.8" y="66.6" class="hl">SF 8w- SR 2w</text>
</svg></body></html>
